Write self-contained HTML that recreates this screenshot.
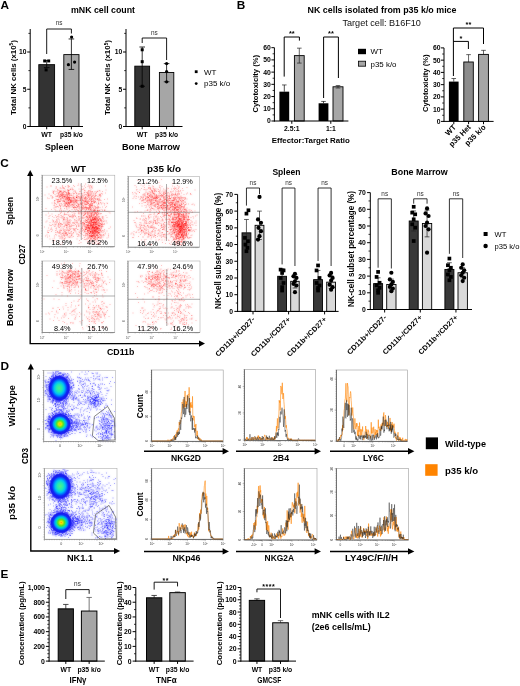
<!DOCTYPE html>
<html lang="en"><head><meta charset="utf-8"><title>Figure</title>
<style>
html,body{margin:0;padding:0;background:#fff;}
body{width:520px;height:686px;overflow:hidden;}
svg{display:block;font-family:'Liberation Sans', sans-serif;}
</style></head><body>
<svg width="520" height="686" viewBox="0 0 520 686">
<rect width="520" height="686" fill="#fff"/>
<text x="0.5" y="8.85" font-size="11.8" font-weight="bold">A</text>
<text x="236.7" y="8.85" font-size="11.8" font-weight="bold">B</text>
<text x="0.3" y="167.1" font-size="11.8" font-weight="bold">C</text>
<text x="0.5" y="370.4" font-size="11.8" font-weight="bold">D</text>
<text x="0.5" y="578" font-size="11.8" font-weight="bold">E</text>
<text x="103" y="13" font-size="9.5" font-weight="bold" text-anchor="middle" textLength="64" lengthAdjust="spacingAndGlyphs">mNK cell count</text>
<rect x="38.8" y="64.66" width="15.8" height="61.84" fill="#333333" stroke="#000" stroke-width="0.9"/>
<rect x="63.8" y="54.61" width="15.2" height="71.89" fill="#a6a6a6" stroke="#000" stroke-width="0.9"/>
<line x1="43.9" y1="60.57" x2="49.5" y2="60.57" stroke="#000" stroke-width="0.8"/>
<line x1="46.7" y1="60.57" x2="46.7" y2="67.64" stroke="#000" stroke-width="0.8"/>
<line x1="43.9" y1="67.64" x2="49.5" y2="67.64" stroke="#000" stroke-width="0.8"/>
<line x1="68.6" y1="38.96" x2="74.2" y2="38.96" stroke="#000" stroke-width="0.8"/>
<line x1="71.4" y1="38.96" x2="71.4" y2="69.43" stroke="#000" stroke-width="0.8"/>
<line x1="68.6" y1="69.43" x2="74.2" y2="69.43" stroke="#000" stroke-width="0.8"/>
<rect x="43.2" y="59.44" width="3" height="3" fill="#000"/>
<rect x="47.2" y="59.44" width="3" height="3" fill="#000"/>
<rect x="44.6" y="68.38" width="3" height="3" fill="#000"/>
<circle cx="71.6" cy="37.1" r="1.6"/>
<circle cx="68.4" cy="64.66" r="1.6"/>
<circle cx="74.6" cy="62.06" r="1.6"/>
<line x1="30.2" y1="29" x2="30.2" y2="127" stroke="#000" stroke-width="1"/>
<line x1="27.2" y1="126.5" x2="30.2" y2="126.5" stroke="#000" stroke-width="1"/>
<line x1="27.2" y1="89.25" x2="30.2" y2="89.25" stroke="#000" stroke-width="1"/>
<line x1="27.2" y1="52" x2="30.2" y2="52" stroke="#000" stroke-width="1"/>
<line x1="28.4" y1="107.88" x2="30.2" y2="107.88" stroke="#000" stroke-width="0.8"/>
<line x1="28.4" y1="70.62" x2="30.2" y2="70.62" stroke="#000" stroke-width="0.8"/>
<line x1="28.4" y1="33.38" x2="30.2" y2="33.38" stroke="#000" stroke-width="0.8"/>
<line x1="29.7" y1="126.5" x2="83" y2="126.5" stroke="#000" stroke-width="1"/>
<line x1="46.7" y1="126.5" x2="46.7" y2="129.3" stroke="#000" stroke-width="1"/>
<line x1="71.4" y1="126.5" x2="71.4" y2="129.3" stroke="#000" stroke-width="1"/>
<text x="26.5" y="128.9" font-size="6.7" font-weight="bold" text-anchor="end">0</text>
<text x="26.5" y="91.65" font-size="6.7" font-weight="bold" text-anchor="end">5</text>
<text x="26.5" y="54.4" font-size="6.7" font-weight="bold" text-anchor="end">10</text>
<text x="15.8" y="77.5" font-size="7.9" font-weight="bold" text-anchor="middle" transform="rotate(-90 15.8 77.5)">Total NK cells (x10<tspan font-size="4.8" dy="-2.8">5</tspan><tspan dy="2.8">)</tspan></text>
<text x="46.7" y="136.6" font-size="7" font-weight="bold" text-anchor="middle">WT</text>
<text x="71.4" y="136.6" font-size="7" font-weight="bold" text-anchor="middle" textLength="23" lengthAdjust="spacingAndGlyphs">p35 k/o</text>
<path d="M46.7 54V29H71.4V33.5" fill="none" stroke="#000" stroke-width="0.9"/>
<text x="59.05" y="25" font-size="6.4" text-anchor="middle" fill="#333">ns</text>
<text x="59.3" y="149.6" font-size="9.8" font-weight="bold" text-anchor="middle" textLength="28.8" lengthAdjust="spacingAndGlyphs">Spleen</text>
<rect x="134.8" y="66.16" width="14.8" height="60.34" fill="#333333" stroke="#000" stroke-width="0.9"/>
<rect x="159.4" y="72.49" width="14.4" height="54.01" fill="#a6a6a6" stroke="#000" stroke-width="0.9"/>
<line x1="139.4" y1="47.01" x2="145" y2="47.01" stroke="#000" stroke-width="0.8"/>
<line x1="142.2" y1="47.01" x2="142.2" y2="86.27" stroke="#000" stroke-width="0.8"/>
<line x1="139.4" y1="86.27" x2="145" y2="86.27" stroke="#000" stroke-width="0.8"/>
<line x1="163.8" y1="63.62" x2="169.4" y2="63.62" stroke="#000" stroke-width="0.8"/>
<line x1="166.6" y1="63.62" x2="166.6" y2="81.8" stroke="#000" stroke-width="0.8"/>
<line x1="163.8" y1="81.8" x2="169.4" y2="81.8" stroke="#000" stroke-width="0.8"/>
<rect x="140.7" y="48.26" width="3" height="3" fill="#000"/>
<rect x="140.7" y="60.19" width="3" height="3" fill="#000"/>
<rect x="140.7" y="84.77" width="3" height="3" fill="#000"/>
<circle cx="166.6" cy="63.62" r="1.6"/>
<circle cx="166.6" cy="71.59" r="1.6"/>
<circle cx="166.6" cy="81.8" r="1.6"/>
<line x1="126" y1="29" x2="126" y2="127" stroke="#000" stroke-width="1"/>
<line x1="123" y1="126.5" x2="126" y2="126.5" stroke="#000" stroke-width="1"/>
<line x1="123" y1="89.25" x2="126" y2="89.25" stroke="#000" stroke-width="1"/>
<line x1="123" y1="52" x2="126" y2="52" stroke="#000" stroke-width="1"/>
<line x1="124.2" y1="107.88" x2="126" y2="107.88" stroke="#000" stroke-width="0.8"/>
<line x1="124.2" y1="70.62" x2="126" y2="70.62" stroke="#000" stroke-width="0.8"/>
<line x1="124.2" y1="33.38" x2="126" y2="33.38" stroke="#000" stroke-width="0.8"/>
<line x1="125.5" y1="126.5" x2="182.5" y2="126.5" stroke="#000" stroke-width="1"/>
<line x1="142.2" y1="126.5" x2="142.2" y2="129.3" stroke="#000" stroke-width="1"/>
<line x1="166.6" y1="126.5" x2="166.6" y2="129.3" stroke="#000" stroke-width="1"/>
<text x="122.3" y="128.9" font-size="6.7" font-weight="bold" text-anchor="end">0</text>
<text x="122.3" y="91.65" font-size="6.7" font-weight="bold" text-anchor="end">5</text>
<text x="122.3" y="54.4" font-size="6.7" font-weight="bold" text-anchor="end">10</text>
<text x="110.4" y="77.5" font-size="7.9" font-weight="bold" text-anchor="middle" transform="rotate(-90 110.4 77.5)">Total NK cells (x10<tspan font-size="4.8" dy="-2.8">5</tspan><tspan dy="2.8">)</tspan></text>
<text x="142.2" y="136.6" font-size="7" font-weight="bold" text-anchor="middle">WT</text>
<text x="166.6" y="136.6" font-size="7" font-weight="bold" text-anchor="middle" textLength="23" lengthAdjust="spacingAndGlyphs">p35 k/o</text>
<path d="M142.2 43V38H166.6V60" fill="none" stroke="#000" stroke-width="0.9"/>
<text x="154.4" y="35" font-size="6.4" text-anchor="middle" fill="#333">ns</text>
<text x="151" y="149.6" font-size="9.8" font-weight="bold" text-anchor="middle" textLength="58" lengthAdjust="spacingAndGlyphs">Bone Marrow</text>
<rect x="194.8" y="70.3" width="2.8" height="2.8" fill="#000"/>
<text x="204" y="74.8" font-size="8">WT</text>
<circle cx="196.2" cy="83.6" r="1.4"/>
<text x="204" y="86.4" font-size="8">p35 k/o</text>
<text x="382" y="13" font-size="9.6" font-weight="bold" text-anchor="middle" textLength="149" lengthAdjust="spacingAndGlyphs">NK cells isolated from p35 k/o mice</text>
<text x="381.7" y="25.6" font-size="9.4" text-anchor="middle" textLength="78.5" lengthAdjust="spacingAndGlyphs" fill="#111">Target cell: B16F10</text>
<rect x="279.4" y="91.67" width="9.8" height="29.33" fill="#000"/>
<line x1="282" y1="84.95" x2="286.6" y2="84.95" stroke="#222" stroke-width="0.7"/>
<line x1="284.3" y1="84.95" x2="284.3" y2="91.67" stroke="#000" stroke-width="0.7"/>
<rect x="294.4" y="55.62" width="9.8" height="65.38" fill="#a6a6a6" stroke="#000" stroke-width="0.9"/>
<line x1="297" y1="48.17" x2="301.6" y2="48.17" stroke="#222" stroke-width="0.7"/>
<line x1="299.3" y1="48.17" x2="299.3" y2="63.08" stroke="#222" stroke-width="0.7"/>
<line x1="297" y1="63.08" x2="301.6" y2="63.08" stroke="#222" stroke-width="0.7"/>
<rect x="318.6" y="103.28" width="9.8" height="17.72" fill="#000"/>
<line x1="321.2" y1="101.45" x2="325.8" y2="101.45" stroke="#222" stroke-width="0.7"/>
<line x1="323.5" y1="101.45" x2="323.5" y2="103.28" stroke="#000" stroke-width="0.7"/>
<rect x="333" y="86.78" width="10" height="34.22" fill="#a6a6a6" stroke="#000" stroke-width="0.9"/>
<line x1="335.7" y1="85.56" x2="340.3" y2="85.56" stroke="#222" stroke-width="0.7"/>
<line x1="338" y1="85.56" x2="338" y2="88.01" stroke="#222" stroke-width="0.7"/>
<line x1="335.7" y1="88.01" x2="340.3" y2="88.01" stroke="#222" stroke-width="0.7"/>
<line x1="274.4" y1="47.68" x2="274.4" y2="121.5" stroke="#000" stroke-width="1"/>
<line x1="271.4" y1="121" x2="274.4" y2="121" stroke="#000" stroke-width="1"/>
<line x1="271.4" y1="108.78" x2="274.4" y2="108.78" stroke="#000" stroke-width="1"/>
<line x1="271.4" y1="96.56" x2="274.4" y2="96.56" stroke="#000" stroke-width="1"/>
<line x1="271.4" y1="84.34" x2="274.4" y2="84.34" stroke="#000" stroke-width="1"/>
<line x1="271.4" y1="72.12" x2="274.4" y2="72.12" stroke="#000" stroke-width="1"/>
<line x1="271.4" y1="59.9" x2="274.4" y2="59.9" stroke="#000" stroke-width="1"/>
<line x1="271.4" y1="47.68" x2="274.4" y2="47.68" stroke="#000" stroke-width="1"/>
<line x1="272.6" y1="114.89" x2="274.4" y2="114.89" stroke="#000" stroke-width="0.8"/>
<line x1="272.6" y1="102.67" x2="274.4" y2="102.67" stroke="#000" stroke-width="0.8"/>
<line x1="272.6" y1="90.45" x2="274.4" y2="90.45" stroke="#000" stroke-width="0.8"/>
<line x1="272.6" y1="78.23" x2="274.4" y2="78.23" stroke="#000" stroke-width="0.8"/>
<line x1="272.6" y1="66.01" x2="274.4" y2="66.01" stroke="#000" stroke-width="0.8"/>
<line x1="272.6" y1="53.79" x2="274.4" y2="53.79" stroke="#000" stroke-width="0.8"/>
<line x1="273.9" y1="121" x2="348.4" y2="121" stroke="#000" stroke-width="1"/>
<line x1="291.8" y1="121" x2="291.8" y2="123.8" stroke="#000" stroke-width="1"/>
<line x1="330.8" y1="121" x2="330.8" y2="123.8" stroke="#000" stroke-width="1"/>
<text x="270.8" y="123.4" font-size="6.8" font-weight="bold" text-anchor="end">0</text>
<text x="270.8" y="111.18" font-size="6.8" font-weight="bold" text-anchor="end">10</text>
<text x="270.8" y="98.96" font-size="6.8" font-weight="bold" text-anchor="end">20</text>
<text x="270.8" y="86.74" font-size="6.8" font-weight="bold" text-anchor="end">30</text>
<text x="270.8" y="74.52" font-size="6.8" font-weight="bold" text-anchor="end">40</text>
<text x="270.8" y="62.3" font-size="6.8" font-weight="bold" text-anchor="end">50</text>
<text x="270.8" y="50.08" font-size="6.8" font-weight="bold" text-anchor="end">60</text>
<text x="257.9" y="83.7" font-size="7.7" font-weight="bold" text-anchor="middle" textLength="57.4" lengthAdjust="spacingAndGlyphs" transform="rotate(-90 257.9 83.7)">Cytotoxicity (%)</text>
<text x="291.8" y="131.2" font-size="6.8" font-weight="bold" text-anchor="middle">2.5:1</text>
<text x="330.8" y="131.2" font-size="6.8" font-weight="bold" text-anchor="middle">1:1</text>
<text x="310.8" y="142.6" font-size="8" font-weight="bold" text-anchor="middle" textLength="78" lengthAdjust="spacingAndGlyphs">Effector:Target Ratio</text>
<path d="M284.2 76.6V37H299.4V40.6" fill="none" stroke="#000" stroke-width="1"/>
<path d="M323.6 98V37H338.4V78" fill="none" stroke="#000" stroke-width="1"/>
<text x="291.8" y="36.2" font-size="7.4" font-weight="bold" text-anchor="middle">**</text>
<text x="331" y="36.2" font-size="7.4" font-weight="bold" text-anchor="middle">**</text>
<rect x="358" y="48.8" width="8" height="5.4" fill="#000"/>
<text x="370.6" y="54.4" font-size="7.9">WT</text>
<rect x="358.4" y="61.2" width="7.2" height="5" fill="#a6a6a6" stroke="#000" stroke-width="0.8"/>
<text x="370.6" y="66.6" font-size="7.9">p35 k/o</text>
<line x1="453.75" y1="78.53" x2="453.75" y2="81.59" stroke="#222" stroke-width="0.7"/>
<line x1="451.45" y1="78.53" x2="456.05" y2="78.53" stroke="#222" stroke-width="0.7"/>
<rect x="448.9" y="81.59" width="9.7" height="39.81" fill="#000"/>
<line x1="468.55" y1="54.64" x2="468.55" y2="61.99" stroke="#222" stroke-width="0.7"/>
<line x1="466.25" y1="54.64" x2="470.85" y2="54.64" stroke="#222" stroke-width="0.7"/>
<rect x="463.8" y="61.99" width="9.5" height="59.41" fill="#8c8c8c" stroke="#000" stroke-width="0.9"/>
<line x1="483.5" y1="50.35" x2="483.5" y2="54.39" stroke="#222" stroke-width="0.7"/>
<line x1="481.2" y1="50.35" x2="485.8" y2="50.35" stroke="#222" stroke-width="0.7"/>
<rect x="478.6" y="54.39" width="9.8" height="67.01" fill="#a6a6a6" stroke="#000" stroke-width="0.9"/>
<line x1="444" y1="47.9" x2="444" y2="121.9" stroke="#000" stroke-width="1"/>
<line x1="441" y1="121.4" x2="444" y2="121.4" stroke="#000" stroke-width="1"/>
<line x1="441" y1="109.15" x2="444" y2="109.15" stroke="#000" stroke-width="1"/>
<line x1="441" y1="96.9" x2="444" y2="96.9" stroke="#000" stroke-width="1"/>
<line x1="441" y1="84.65" x2="444" y2="84.65" stroke="#000" stroke-width="1"/>
<line x1="441" y1="72.4" x2="444" y2="72.4" stroke="#000" stroke-width="1"/>
<line x1="441" y1="60.15" x2="444" y2="60.15" stroke="#000" stroke-width="1"/>
<line x1="441" y1="47.9" x2="444" y2="47.9" stroke="#000" stroke-width="1"/>
<line x1="442.2" y1="115.28" x2="444" y2="115.28" stroke="#000" stroke-width="0.8"/>
<line x1="442.2" y1="103.03" x2="444" y2="103.03" stroke="#000" stroke-width="0.8"/>
<line x1="442.2" y1="90.78" x2="444" y2="90.78" stroke="#000" stroke-width="0.8"/>
<line x1="442.2" y1="78.53" x2="444" y2="78.53" stroke="#000" stroke-width="0.8"/>
<line x1="442.2" y1="66.28" x2="444" y2="66.28" stroke="#000" stroke-width="0.8"/>
<line x1="442.2" y1="54.03" x2="444" y2="54.03" stroke="#000" stroke-width="0.8"/>
<line x1="443.5" y1="121.4" x2="493.6" y2="121.4" stroke="#000" stroke-width="1"/>
<line x1="453.8" y1="121.4" x2="453.8" y2="124.2" stroke="#000" stroke-width="1"/>
<line x1="468.6" y1="121.4" x2="468.6" y2="124.2" stroke="#000" stroke-width="1"/>
<line x1="483.5" y1="121.4" x2="483.5" y2="124.2" stroke="#000" stroke-width="1"/>
<text x="440.5" y="123.8" font-size="6.8" font-weight="bold" text-anchor="end">0</text>
<text x="440.5" y="111.55" font-size="6.8" font-weight="bold" text-anchor="end">10</text>
<text x="440.5" y="99.3" font-size="6.8" font-weight="bold" text-anchor="end">20</text>
<text x="440.5" y="87.05" font-size="6.8" font-weight="bold" text-anchor="end">30</text>
<text x="440.5" y="74.8" font-size="6.8" font-weight="bold" text-anchor="end">40</text>
<text x="440.5" y="62.55" font-size="6.8" font-weight="bold" text-anchor="end">50</text>
<text x="440.5" y="50.3" font-size="6.8" font-weight="bold" text-anchor="end">60</text>
<text x="427.7" y="83.2" font-size="7.7" font-weight="bold" text-anchor="middle" textLength="57.4" lengthAdjust="spacingAndGlyphs" transform="rotate(-90 427.7 83.2)">Cytotoxicity (%)</text>
<text x="456.6" y="127.8" font-size="7.6" font-weight="bold" text-anchor="end" transform="rotate(-45 456.6 127.8)">WT</text>
<text x="471.4" y="127.8" font-size="7.6" font-weight="bold" text-anchor="end" transform="rotate(-45 471.4 127.8)">p35 Het</text>
<text x="486.3" y="127.8" font-size="7.6" font-weight="bold" text-anchor="end" transform="rotate(-45 486.3 127.8)">p35 k/o</text>
<path d="M453.4 76V28H483.5V44" fill="none" stroke="#000" stroke-width="1"/>
<path d="M453.4 41.4H468.4V49" fill="none" stroke="#000" stroke-width="1"/>
<text x="468.5" y="27.4" font-size="7.4" font-weight="bold" text-anchor="middle">**</text>
<text x="461" y="40.8" font-size="7.4" font-weight="bold" text-anchor="middle">*</text>
<defs><filter id="sb" x="-5%" y="-5%" width="110%" height="110%"><feGaussianBlur stdDeviation="0.9"/></filter></defs>
<rect x="42.2" y="175.2" width="72.6" height="71.5" fill="none" stroke="#a6a6a6" stroke-width="0.55"/>
<line x1="42.2" y1="175.2" x2="42.2" y2="246.7" stroke="#666" stroke-width="0.6"/>
<line x1="42.2" y1="246.7" x2="114.8" y2="246.7" stroke="#666" stroke-width="0.6"/>
<defs><path id="dp1" transform="scale(.5)" d="m157 368zm14 0zm-10 2zm16 0zm-52 1zm11 0zm11 0zm9 0zm25 0zm-80 1zm2 0zm34 0zm32 0zm10 0zm5 0zm27 0zm-80 1zm8 0zm10 0zm15 0zm12 0zm7 0zm-89 1zm18 0zm1 0zm12 0zm0 0zm11 0zm1 0zm43 0zm-53 1zm44 0zm12 0zm-63 1zm1 0zm7 0zm16 0zm35 0zm6 0zm-73 1zm12 0zm4 0zm0 0zm13 1zm4 0zm13 0zm5 0zm4 0zm1 0zm14 0zm-67 1zm20 0zm6 0zm1 0zm4 0zm19 0zm-49 1zm14 0zm7 0zm2 0zm7 0zm16 0zm50 0zm-96 1zm3 0zm17 0zm1 0zm1 0zm12 0zm19 0zm1 0zm8 0zm21 0zm-93 1zm3 0zm12 0zm0 0zm2 0zm4 0zm8 0zm2 0zm40 0zm1 0zm2 0zm1 0zm15 0zm4 0zm-93 1zm5 0zm8 0zm0 0zm1 0zm8 0zm0 0zm2 0zm6 0zm11 0zm3 0zm8 0zm2 0zm15 0zm6 0zm3 0zm5 0zm4 0zm1 0zm10 0zm-98 1zm8 0zm4 0zm1 0zm2 0zm1 0zm1 0zm3 0zm43 0zm13 0zm2 0zm-79 1zm12 0zm0 0zm7 0zm2 0zm4 0zm3 0zm3 0zm0 0zm14 0zm18 0zm4 0zm2 0zm1 0zm17 0zm-86 1zm13 0zm8 0zm5 0zm0 0zm1 0zm3 0zm0 0zm1 0zm1 0zm7 0zm7 0zm15 0zm10 0zm0 0zm3 0zm1 0zm6 0zm4 0zm19 0zm-104 1zm7 0zm3 0zm6 0zm2 0zm13 0zm1 0zm8 0zm2 0zm4 0zm7 0zm3 0zm1 0zm11 0zm1 0zm15 0zm12 0zm-105 1zm19 0zm1 0zm4 0zm3 0zm1 0zm0 0zm8 0zm1 0zm1 0zm1 0zm0 0zm1 0zm0 0zm1 0zm3 0zm0 0zm12 0zm3 0zm0 0zm2 0zm17 0zm2 0zm5 0zm1 0zm3 0zm13 0zm5 0zm-95 1zm11 0zm1 0zm3 0zm1 0zm2 0zm5 0zm31 0zm7 0zm2 0zm3 0zm2 0zm23 0zm-111 1zm27 0zm2 0zm3 0zm1 0zm0 0zm4 0zm1 0zm2 0zm1 0zm1 0zm0 0zm3 0zm0 0zm2 0zm2 0zm8 0zm21 0zm1 0zm8 0zm0 0zm3 0zm1 0zm0 0zm9 0zm1 0zm7 0zm1 0zm0 0zm1 0zm-98 1zm20 0zm1 0zm2 0zm0 0zm14 0zm2 0zm2 0zm1 0zm9 0zm2 0zm10 0zm9 0zm2 0zm1 0zm1 0zm1 0zm6 0zm2 0zm4 0zm2 0zm7 0zm-98 1zm10 0zm3 0zm0 0zm1 0zm2 0zm2 0zm0 0zm4 0zm3 0zm2 0zm4 0zm1 0zm1 0zm0 0zm27 0zm4 0zm17 0zm18 0zm1 0zm-97 1zm7 0zm2 0zm6 0zm1 0zm6 0zm2 0zm0 0zm1 0zm0 0zm2 0zm4 0zm12 0zm9 0zm3 0zm3 0zm1 0zm7 0zm5 0zm0 0zm8 0zm0 0zm5 0zm2 0zm5 0zm-77 1zm1 0zm3 0zm1 0zm1 0zm0 0zm1 0zm2 0zm1 0zm2 0zm4 0zm1 0zm2 0zm1 0zm7 0zm6 0zm1 0zm0 0zm1 0zm1 0zm1 0zm1 0zm3 0zm7 0zm5 0zm6 0zm1 0zm3 0zm6 0zm12 0zm-94 1zm12 0zm7 0zm5 0zm3 0zm1 0zm0 0zm1 0zm2 0zm0 0zm1 0zm1 0zm2 0zm1 0zm0 0zm4 0zm1 0zm6 0zm0 0zm0 0zm0 0zm0 0zm9 0zm0 0zm1 0zm2 0zm5 0zm1 0zm1 0zm5 0zm6 0zm5 0zm-93 1zm9 0zm1 0zm23 0zm4 0zm1 0zm4 0zm0 0zm0 0zm2 0zm0 0zm5 0zm3 0zm0 0zm2 0zm5 0zm5 0zm0 0zm3 0zm7 0zm2 0zm3 0zm8 0zm6 0zm-90 1zm24 0zm2 0zm2 0zm6 0zm0 0zm3 0zm0 0zm5 0zm3 0zm5 0zm8 0zm5 0zm1 0zm4 0zm3 0zm1 0zm1 0zm4 0zm4 0zm3 0zm2 0zm2 0zm4 0zm0 0zm5 0zm3 0zm-86 1zm6 0zm3 0zm0 0zm6 0zm3 0zm4 0zm0 0zm1 0zm0 0zm1 0zm1 0zm1 0zm1 0zm0 0zm0 0zm1 0zm5 0zm3 0zm1 0zm2 0zm10 0zm4 0zm5 0zm3 0zm1 0zm6 0zm4 0zm1 0zm5 0zm3 0zm2 0zm3 0zm17 0zm-102 1zm2 0zm1 0zm0 0zm1 0zm14 0zm2 0zm5 0zm1 0zm1 0zm0 0zm2 0zm6 0zm4 0zm2 0zm6 0zm1 0zm4 0zm7 0zm6 0zm1 0zm3 0zm1 0zm8 0zm4 0zm1 0zm4 0zm9 0zm-89 1zm3 0zm7 0zm2 0zm3 0zm1 0zm1 0zm1 0zm4 0zm1 0zm8 0zm10 0zm5 0zm3 0zm2 0zm12 0zm4 0zm0 0zm9 0zm3 0zm-90 1zm1 0zm17 0zm10 0zm0 0zm1 0zm2 0zm1 0zm1 0zm4 0zm1 0zm2 0zm3 0zm0 0zm0 0zm2 0zm1 0zm3 0zm0 0zm3 0zm0 0zm4 0zm1 0zm0 0zm6 0zm2 0zm7 0zm16 0zm3 0zm2 0zm-93 1zm6 0zm1 0zm1 0zm2 0zm2 0zm4 0zm1 0zm2 0zm1 0zm4 0zm2 0zm5 0zm0 0zm1 0zm1 0zm0 0zm0 0zm1 0zm1 0zm0 0zm1 0zm1 0zm4 0zm3 0zm0 0zm5 0zm3 0zm6 0zm2 0zm2 0zm0 0zm5 0zm1 0zm1 0zm5 0zm3 0zm3 0zm1 0zm-75 1zm3 0zm1 0zm1 0zm0 0zm7 0zm2 0zm0 0zm11 0zm2 0zm0 0zm5 0zm2 0zm2 0zm0 0zm1 0zm17 0zm2 0zm1 0zm0 0zm0 0zm2 0zm1 0zm4 0zm4 0zm0 0zm1 0zm1 0zm2 0zm4 0zm-74 1zm13 0zm2 0zm4 0zm0 0zm1 0zm4 0zm2 0zm1 0zm2 0zm8 0zm1 0zm9 0zm0 0zm3 0zm2 0zm5 0zm3 0zm5 0zm6 0zm1 0zm1 0zm1 0zm6 0zm-88 1zm6 0zm15 0zm2 0zm5 0zm0 0zm3 0zm0 0zm1 0zm0 0zm2 0zm4 0zm2 0zm3 0zm1 0zm12 0zm8 0zm1 0zm1 0zm8 0zm5 0zm1 0zm12 0zm-97 1zm12 0zm16 0zm1 0zm0 0zm1 0zm1 0zm1 0zm2 0zm0 0zm1 0zm0 0zm2 0zm3 0zm3 0zm2 0zm3 0zm0 0zm8 0zm1 0zm1 0zm7 0zm2 0zm4 0zm0 0zm2 0zm11 0zm0 0zm5 0zm4 0zm5 0zm4 0zm8 0zm-105 1zm2 0zm9 0zm3 0zm5 0zm2 0zm3 0zm1 0zm3 0zm0 0zm18 0zm6 0zm2 0zm2 0zm3 0zm7 0zm2 0zm0 0zm7 0zm1 0zm12 0zm12 0zm6 0zm-84 1zm0 0zm2 0zm3 0zm3 0zm0 0zm0 0zm9 0zm8 0zm1 0zm7 0zm0 0zm0 0zm8 0zm1 0zm5 0zm3 0zm1 0zm0 0zm0 0zm0 0zm3 0zm12 0zm1 0zm5 0zm-90 1zm6 0zm5 0zm6 0zm5 0zm0 0zm7 0zm2 0zm1 0zm1 0zm4 0zm7 0zm3 0zm2 0zm1 0zm6 0zm2 0zm1 0zm1 0zm2 0zm4 0zm1 0zm-71 1zm20 0zm8 0zm1 0zm6 0zm4 0zm8 0zm2 0zm0 0zm7 0zm5 0zm2 0zm8 0zm0 0zm3 0zm2 0zm0 0zm10 0zm14 0zm-101 1zm11 0zm1 0zm2 0zm7 0zm2 0zm4 0zm2 0zm3 0zm2 0zm5 0zm6 0zm0 0zm4 0zm9 0zm0 0zm12 0zm0 0zm3 0zm1 0zm1 0zm1 0zm0 0zm-58 1zm5 0zm4 0zm10 0zm3 0zm6 0zm25 0zm2 0zm3 0zm4 0zm1 0zm-77 1zm2 0zm1 0zm6 0zm7 0zm4 0zm1 0zm0 0zm1 0zm4 0zm0 0zm11 0zm7 0zm0 0zm0 0zm3 0zm8 0zm12 0zm3 0zm9 0zm5 0zm17 0zm-103 1zm7 0zm4 0zm17 0zm4 0zm3 0zm6 0zm4 0zm8 0zm0 0zm1 0zm0 0zm2 0zm4 0zm1 0zm1 0zm0 0zm7 0zm1 0zm0 0zm1 0zm4 0zm5 0zm6 0zm1 0zm8 0zm-93 1zm35 0zm0 0zm1 0zm2 0zm0 0zm0 0zm2 0zm2 0zm6 0zm4 0zm1 0zm2 0zm3 0zm0 0zm3 0zm1 0zm1 0zm1 0zm2 0zm0 0zm3 0zm5 0zm6 0zm2 0zm0 0zm2 0zm4 0zm11 0zm-103 1zm25 0zm1 0zm4 0zm9 0zm6 0zm4 0zm2 0zm10 0zm1 0zm2 0zm0 0zm1 0zm5 0zm2 0zm0 0zm3 0zm8 0zm6 0zm-105 1zm29 0zm8 0zm35 0zm1 0zm2 0zm6 0zm2 0zm1 0zm2 0zm0 0zm4 0zm5 0zm5 0zm3 0zm-73 1zm27 0zm10 0zm4 0zm3 0zm2 0zm8 0zm1 0zm3 0zm10 0zm-87 1zm7 0zm24 0zm10 0zm6 0zm3 0zm12 0zm5 0zm3 0zm0 0zm4 0zm1 0zm3 0zm0 0zm1 0zm2 0zm4 0zm1 0zm15 0zm-84 1zm35 0zm7 0zm26 0zm3 0zm4 0zm5 0zm9 0zm1 0zm-87 1zm16 0zm17 0zm1 0zm5 0zm1 0zm18 0zm2 0zm4 0zm1 0zm1 0zm1 0zm0 0zm5 0zm1 0zm0 0zm2 0zm1 0zm6 0zm4 0zm-98 1zm3 0zm5 0zm8 0zm3 0zm21 0zm20 0zm1 0zm6 0zm6 0zm2 0zm1 0zm2 0zm1 0zm4 0zm1 0zm15 0zm-73 1zm4 0zm6 0zm3 0zm2 0zm5 0zm2 0zm3 0zm7 0zm2 0zm4 0zm3 0zm1 0zm1 0zm4 0zm4 0zm0 0zm8 0zm18 0zm-91 1zm14 0zm29 0zm3 0zm3 0zm3 0zm1 0zm2 0zm14 0zm3 0zm2 0zm21 0zm-96 1zm13 0zm9 0zm13 0zm5 0zm12 0zm4 0zm4 0zm0 0zm3 0zm1 0zm0 0zm3 0zm1 0zm1 0zm1 0zm2 0zm1 0zm-98 1zm32 0zm19 0zm11 0zm3 0zm2 0zm4 0zm2 0zm1 0zm4 0zm1 0zm4 0zm3 0zm7 0zm2 0zm6 0zm22 0zm-99 1zm29 0zm7 0zm6 0zm8 0zm1 0zm5 0zm3 0zm2 0zm1 0zm2 0zm5 0zm0 0zm2 0zm1 0zm4 0zm4 0zm2 0zm-99 1zm25 0zm29 0zm8 0zm4 0zm5 0zm0 0zm7 0zm1 0zm4 0zm1 0zm2 0zm3 0zm2 0zm2 0zm3 0zm-82 1zm11 0zm2 0zm2 0zm3 0zm27 0zm7 0zm0 0zm6 0zm8 0zm4 0zm1 0zm5 0zm-102 1zm25 0zm11 0zm12 0zm5 0zm0 0zm3 0zm1 0zm20 0zm0 0zm8 0zm2 0zm2 0zm1 0zm1 0zm1 0zm0 0zm4 0zm0 0zm5 0zm1 0zm0 0zm2 0zm-96 1zm11 0zm11 0zm15 0zm30 0zm0 0zm11 0zm1 0zm3 0zm1 0zm1 0zm3 0zm25 0zm-89 1zm20 0zm4 0zm1 0zm3 0zm15 0zm8 0zm0 0zm5 0zm9 0zm0 0zm5 0zm1 0zm-96 1zm7 0zm9 0zm2 0zm9 0zm14 0zm1 0zm1 0zm5 0zm5 0zm6 0zm1 0zm14 0zm1 0zm1 0zm4 0zm2 0zm1 0zm1 0zm1 0zm0 0zm5 0zm3 0zm0 0zm6 0zm2 0zm6 0zm-87 1zm9 0zm13 0zm4 0zm0 0zm2 0zm14 0zm4 0zm9 0zm2 0zm3 0zm1 0zm2 0zm3 0zm1 0zm1 0zm4 0zm1 0zm0 0zm2 0zm2 0zm2 0zm7 0zm3 0zm-99 1zm5 0zm9 0zm7 0zm5 0zm30 0zm2 0zm4 0zm5 0zm0 0zm3 0zm1 0zm1 0zm2 0zm3 0zm1 0zm0 0zm1 0zm3 0zm2 0zm1 0zm5 0zm7 0zm9 0zm-90 1zm2 0zm3 0zm5 0zm12 0zm7 0zm4 0zm11 0zm5 0zm5 0zm3 0zm4 0zm3 0zm1 0zm0 0zm0 0zm1 0zm2 0zm3 0zm1 0zm-98 1zm18 0zm19 0zm25 0zm4 0zm2 0zm15 0zm3 0zm1 0zm2 0zm2 0zm0 0zm1 0zm0 0zm0 0zm0 0zm2 0zm1 0zm2 0zm4 0zm1 0zm5 0zm-78 1zm1 0zm31 0zm17 0zm0 0zm0 0zm1 0zm1 0zm2 0zm4 0zm1 0zm1 0zm0 0zm2 0zm3 0zm0 0zm2 0zm1 0zm1 0zm3 0zm1 0zm2 0zm0 0zm6 0zm-89 1zm9 0zm2 0zm3 0zm3 0zm5 0zm9 0zm22 0zm5 0zm4 0zm2 0zm0 0zm1 0zm2 0zm0 0zm2 0zm0 0zm0 0zm1 0zm1 0zm1 0zm0 0zm0 0zm1 0zm1 0zm2 0zm2 0zm1 0zm6 0zm-98 1zm8 0zm1 0zm0 0zm13 0zm23 0zm6 0zm2 0zm0 0zm5 0zm9 0zm4 0zm5 0zm0 0zm1 0zm3 0zm1 0zm0 0zm1 0zm0 0zm0 0zm1 0zm1 0zm1 0zm0 0zm0 0zm2 0zm2 0zm2 0zm1 0zm1 0zm0 0zm3 0zm0 0zm-94 1zm29 0zm3 0zm3 0zm11 0zm9 0zm6 0zm4 0zm1 0zm0 0zm1 0zm6 0zm1 0zm1 0zm1 0zm0 0zm0 0zm0 0zm1 0zm0 0zm2 0zm4 0zm2 0zm1 0zm2 0zm1 0zm1 0zm0 0zm5 0zm0 0zm-108 1zm25 0zm7 0zm4 0zm4 0zm1 0zm15 0zm12 0zm9 0zm4 0zm1 0zm3 0zm5 0zm0 0zm8 0zm3 0zm7 0zm0 0zm1 0zm2 0zm3 0zm2 0zm3 0zm-106 1zm4 0zm50 0zm14 0zm4 0zm1 0zm0 0zm2 0zm0 0zm1 0zm0 0zm1 0zm4 0zm1 0zm4 0zm1 0zm2 0zm3 0zm8 0zm-115 1zm14 0zm7 0zm1 0zm1 0zm18 0zm3 0zm1 0zm3 0zm0 0zm13 0zm2 0zm7 0zm6 0zm2 0zm1 0zm2 0zm3 0zm1 0zm2 0zm2 0zm1 0zm2 0zm3 0zm0 0zm1 0zm0 0zm1 0zm0 0zm1 0zm1 0zm0 0zm1 0zm1 0zm0 0zm1 0zm3 0zm6 0zm-103 1zm10 0zm9 0zm9 0zm8 0zm3 0zm7 0zm4 0zm4 0zm11 0zm1 0zm0 0zm6 0zm1 0zm1 0zm0 0zm2 0zm2 0zm1 0zm3 0zm1 0zm1 0zm0 0zm1 0zm0 0zm0 0zm0 0zm2 0zm0 0zm1 0zm0 0zm1 0zm1 0zm0 0zm1 0zm0 0zm1 0zm0 0zm0 0zm4 0zm2 0zm-67 1zm5 0zm0 0zm9 0zm2 0zm1 0zm6 0zm7 0zm5 0zm1 0zm10 0zm1 0zm0 0zm2 0zm1 0zm0 0zm2 0zm4 0zm0 0zm0 0zm1 0zm2 0zm1 0zm2 0zm1 0zm0 0zm2 0zm2 0zm1 0zm6 0zm9 0zm-97 1zm3 0zm1 0zm1 0zm6 0zm12 0zm9 0zm13 0zm2 0zm5 0zm0 0zm0 0zm10 0zm1 0zm0 0zm2 0zm1 0zm4 0zm1 0zm1 0zm1 0zm1 0zm1 0zm2 0zm3 0zm3 0zm0 0zm1 0zm8 0zm-99 1zm3 0zm4 0zm6 0zm11 0zm0 0zm2 0zm20 0zm1 0zm3 0zm4 0zm3 0zm1 0zm8 0zm1 0zm3 0zm1 0zm3 0zm0 0zm2 0zm0 0zm0 0zm4 0zm1 0zm1 0zm2 0zm1 0zm6 0zm2 0zm0 0zm2 0zm1 0zm-101 1zm6 0zm7 0zm6 0zm1 0zm12 0zm1 0zm13 0zm17 0zm2 0zm3 0zm5 0zm4 0zm0 0zm1 0zm3 0zm0 0zm1 0zm0 0zm1 0zm1 0zm2 0zm0 0zm1 0zm1 0zm0 0zm1 0zm2 0zm3 0zm3 0zm1 0zm1 0zm0 0zm4 0zm0 0zm-109 1zm9 0zm9 0zm1 0zm3 0zm1 0zm8 0zm1 0zm0 0zm2 0zm1 0zm5 0zm4 0zm22 0zm5 0zm2 0zm1 0zm2 0zm0 0zm1 0zm0 0zm0 0zm1 0zm4 0zm0 0zm0 0zm0 0zm1 0zm1 0zm1 0zm2 0zm0 0zm1 0zm0 0zm2 0zm0 0zm3 0zm2 0zm1 0zm2 0zm0 0zm-95 1zm0 0zm31 0zm0 0zm2 0zm9 0zm2 0zm2 0zm5 0zm4 0zm11 0zm6 0zm1 0zm1 0zm0 0zm1 0zm2 0zm1 0zm0 0zm2 0zm1 0zm0 0zm1 0zm0 0zm1 0zm3 0zm1 0zm2 0zm3 0zm3 0zm0 0zm0 0zm1 0zm1 0zm1 0zm1 0zm4 0zm-94 1zm5 0zm13 0zm10 0zm2 0zm17 0zm2 0zm6 0zm4 0zm6 0zm1 0zm3 0zm0 0zm1 0zm2 0zm0 0zm1 0zm1 0zm1 0zm0 0zm0 0zm1 0zm4 0zm1 0zm4 0zm2 0zm1 0zm0 0zm0 0zm4 0zm0 0zm-94 1zm12 0zm7 0zm12 0zm3 0zm10 0zm4 0zm8 0zm5 0zm2 0zm1 0zm2 0zm1 0zm4 0zm1 0zm2 0zm2 0zm0 0zm0 0zm2 0zm0 0zm4 0zm1 0zm0 0zm1 0zm0 0zm1 0zm4 0zm4 0zm3 0zm1 0zm-117 1zm28 0zm1 0zm6 0zm4 0zm5 0zm2 0zm3 0zm2 0zm13 0zm17 0zm0 0zm4 0zm3 0zm1 0zm0 0zm3 0zm1 0zm3 0zm0 0zm2 0zm1 0zm1 0zm1 0zm0 0zm0 0zm1 0zm0 0zm1 0zm0 0zm2 0zm0 0zm2 0zm1 0zm3 0zm2 0zm1 0zm1 0zm17 0zm-102 1zm14 0zm31 0zm7 0zm2 0zm0 0zm0 0zm3 0zm0 0zm0 0zm0 0zm1 0zm1 0zm1 0zm0 0zm2 0zm2 0zm1 0zm1 0zm0 0zm0 0zm1 0zm0 0zm1 0zm1 0zm0 0zm0 0zm0 0zm2 0zm0 0zm1 0zm1 0zm0 0zm2 0zm0 0zm0 0zm1 0zm-98 1zm6 0zm10 0zm51 0zm1 0zm7 0zm4 0zm0 0zm1 0zm1 0zm2 0zm3 0zm1 0zm1 0zm0 0zm0 0zm0 0zm1 0zm0 0zm2 0zm0 0zm0 0zm1 0zm0 0zm2 0zm2 0zm0 0zm0 0zm2 0zm1 0zm0 0zm0 0zm1 0zm1 0zm0 0zm4 0zm-90 1zm22 0zm5 0zm3 0zm4 0zm6 0zm0 0zm10 0zm3 0zm5 0zm3 0zm2 0zm3 0zm0 0zm0 0zm1 0zm0 0zm2 0zm2 0zm4 0zm1 0zm0 0zm1 0zm0 0zm0 0zm1 0zm1 0zm1 0zm0 0zm1 0zm1 0zm0 0zm1 0zm0 0zm0 0zm1 0zm0 0zm2 0zm1 0zm4 0zm15 0zm-116 1zm20 0zm4 0zm1 0zm20 0zm1 0zm1 0zm15 0zm8 0zm0 0zm0 0zm2 0zm0 0zm3 0zm2 0zm0 0zm0 0zm2 0zm2 0zm0 0zm0 0zm1 0zm1 0zm1 0zm0 0zm2 0zm2 0zm3 0zm0 0zm2 0zm0 0zm1 0zm2 0zm1 0zm1 0zm0 0zm-98 1zm34 0zm5 0zm9 0zm5 0zm1 0zm6 0zm5 0zm3 0zm1 0zm0 0zm1 0zm0 0zm0 0zm6 0zm3 0zm2 0zm2 0zm1 0zm1 0zm1 0zm1 0zm1 0zm1 0zm1 0zm0 0zm2 0zm0 0zm1 0zm3 0zm3 0zm8 0zm-104 1zm8 0zm7 0zm9 0zm1 0zm2 0zm2 0zm5 0zm9 0zm0 0zm27 0zm1 0zm3 0zm2 0zm6 0zm1 0zm1 0zm1 0zm1 0zm0 0zm1 0zm1 0zm0 0zm1 0zm3 0zm0 0zm5 0zm-104 1zm13 0zm11 0zm1 0zm4 0zm7 0zm3 0zm2 0zm11 0zm16 0zm4 0zm5 0zm1 0zm0 0zm1 0zm1 0zm1 0zm3 0zm1 0zm3 0zm0 0zm2 0zm1 0zm0 0zm0 0zm0 0zm1 0zm1 0zm1 0zm2 0zm3 0zm1 0zm2 0zm0 0zm1 0zm4 0zm3 0zm-113 1zm25 0zm0 0zm17 0zm13 0zm10 0zm2 0zm3 0zm4 0zm6 0zm0 0zm1 0zm1 0zm2 0zm3 0zm2 0zm0 0zm1 0zm0 0zm0 0zm1 0zm0 0zm0 0zm2 0zm0 0zm1 0zm1 0zm1 0zm0 0zm1 0zm0 0zm1 0zm2 0zm1 0zm3 0zm5 0zm10 0zm-111 1zm12 0zm15 0zm0 0zm13 0zm26 0zm1 0zm4 0zm6 0zm0 0zm1 0zm0 0zm0 0zm0 0zm2 0zm0 0zm2 0zm2 0zm2 0zm0 0zm1 0zm1 0zm1 0zm1 0zm1 0zm0 0zm0 0zm1 0zm1 0zm0 0zm6 0zm6 0zm-93 1zm4 0zm9 0zm14 0zm10 0zm6 0zm4 0zm9 0zm5 0zm0 0zm2 0zm3 0zm0 0zm0 0zm2 0zm1 0zm1 0zm1 0zm0 0zm1 0zm0 0zm2 0zm1 0zm0 0zm1 0zm1 0zm3 0zm0 0zm5 0zm3 0zm-107 1zm0 0zm1 0zm14 0zm3 0zm4 0zm3 0zm10 0zm2 0zm14 0zm12 0zm9 0zm9 0zm3 0zm1 0zm1 0zm0 0zm3 0zm0 0zm1 0zm1 0zm1 0zm0 0zm3 0zm0 0zm2 0zm0 0zm1 0zm2 0zm0 0zm1 0zm1 0zm0 0zm0 0zm8 0zm-89 1zm2 0zm7 0zm2 0zm3 0zm2 0zm3 0zm1 0zm3 0zm7 0zm27 0zm2 0zm5 0zm2 0zm1 0zm1 0zm1 0zm0 0zm2 0zm1 0zm3 0zm1 0zm2 0zm1 0zm1 0zm1 0zm0 0zm1 0zm1 0zm11 0zm-91 1zm4 0zm1 0zm5 0zm2 0zm0 0zm7 0zm1 0zm4 0zm18 0zm0 0zm10 0zm1 0zm2 0zm4 0zm0 0zm0 0zm0 0zm1 0zm2 0zm3 0zm0 0zm0 0zm2 0zm0 0zm1 0zm1 0zm1 0zm1 0zm5 0zm1 0zm-70 1zm4 0zm2 0zm11 0zm9 0zm2 0zm16 0zm3 0zm4 0zm4 0zm2 0zm0 0zm4 0zm1 0zm0 0zm2 0zm1 0zm0 0zm3 0zm1 0zm14 0zm7 0zm-106 1zm11 0zm12 0zm1 0zm22 0zm7 0zm11 0zm1 0zm10 0zm1 0zm1 0zm0 0zm7 0zm4 0zm1 0zm0 0zm7 0zm-113 1zm19 0zm14 0zm2 0zm6 0zm8 0zm1 0zm14 0zm14 0zm7 0zm2 0zm2 0zm0 0zm5 0zm3 0zm2 0zm0 0zm0 0zm2 0zm6 0zm2 0zm1 0zm3 0zm-81 1zm3 0zm3 0zm2 0zm9 0zm24 0zm3 0zm4 0zm4 0zm2 0zm1 0zm1 0zm3 0zm0 0zm0 0zm1 0zm1 0zm1 0zm1 0zm0 0zm5 0zm0 0zm0 0zm1 0zm6 0zm3 0zm4 0zm9 0zm-126 1zm8 0zm10 0zm9 0zm0 0zm5 0zm17 0zm17 0zm3 0zm11 0zm4 0zm3 0zm1 0zm0 0zm1 0zm2 0zm1 0zm0 0zm0 0zm1 0zm0 0zm1 0zm1 0zm0 0zm1 0zm0 0zm1 0zm3 0zm0 0zm3 0zm3 0zm0 0zm3 0zm-71 1zm18 0zm8 0zm26 0zm1 0zm0 0zm1 0zm0 0zm1 0zm1 0zm4 0zm1 0zm1 0zm4 0zm-100 1zm25 0zm2 0zm3 0zm11 0zm2 0zm3 0zm3 0zm34 0zm2 0zm3 0zm1 0zm4 0zm1 0zm2 0zm8 0zm1 0zm3 0zm0 0zm3 0zm11 0zm-78 1zm30 0zm7 0zm4 0zm5 0zm1 0zm4 0zm1 0zm5 0zm0 0zm1 0zm0 0zm1 0zm3 0zm-92 1zm15 0zm2 0zm5 0zm47 0zm4 0zm7 0zm3 0zm2 0zm2 0zm18 0zm-94 1zm9 0zm36 0zm9 0zm3 0zm4 0zm2 0zm4 0zm0 0zm2 0zm1 0zm5 0zm5 0zm2 0zm-102 1zm6 0zm18 0zm5 0zm25 0zm20 0zm7 0zm3 0zm4 0zm4 0zm-64 1zm41 0zm2 0zm3 0zm16 0zm1 0zm4 0zm10 0zm-26 1zm2 0zm1 0zm2 0zm4 0zm2 0zm2 0zm-83 1zm50 0zm26 1zm-9 1zm17 0zm-76 1zm25 0zm33 0zm3 0zm4 0zm15 0zm-91 1zm19 0zm18 0zm19 0zm27 0zm2 1zm9 0zm-42 1zm28 0zm10 0zm3 0zm-13 1zm10 0zm0 0zm0 0zm-74 1zm56 0z"/></defs>
<g fill="none" stroke="#ff1010" stroke-linecap="square"><use href="#dp1" stroke-width="2.4" stroke-opacity="0.16" filter="url(#sb)"/><use href="#dp1" stroke-width="1.1" stroke-opacity="0.4"/></g>
<line x1="81.3" y1="183" x2="81.3" y2="240" stroke="#5a5a5a" stroke-width="0.5"/>
<line x1="42.2" y1="211.4" x2="114.8" y2="211.4" stroke="#5a5a5a" stroke-width="0.5"/>
<path d="M42.2 246.7v1.8M49.39 246.7v1M53.7 246.7v1M56.57 246.7v1M58.97 246.7v1M60.89 246.7v1M62.56 246.7v1M63.76 246.7v1M64.96 246.7v1M66.16 246.7v1.8M73.35 246.7v1M77.66 246.7v1M80.53 246.7v1M82.93 246.7v1M84.85 246.7v1M86.52 246.7v1M87.72 246.7v1M88.92 246.7v1M90.12 246.7v1.8M97.3 246.7v1M101.62 246.7v1M104.49 246.7v1M106.89 246.7v1M108.8 246.7v1M110.48 246.7v1M111.68 246.7v1M112.88 246.7v1M42.2 175.2h-1M42.2 177.85h-1M42.2 180.5h-1M42.2 183.14h-1M42.2 185.79h-1M42.2 188.44h-1M42.2 191.09h-1M42.2 193.74h-1M42.2 196.39h-1M42.2 199.03h-1M42.2 201.68h-1M42.2 204.33h-1M42.2 206.98h-1M42.2 209.63h-1M42.2 212.27h-1M42.2 214.92h-1M42.2 217.57h-1M42.2 220.22h-1M42.2 222.87h-1M42.2 225.51h-1M42.2 228.16h-1M42.2 230.81h-1M42.2 233.46h-1M42.2 236.11h-1M42.2 238.76h-1M42.2 241.4h-1M42.2 244.05h-1M42.2 246.7h-1" fill="none" stroke="#777" stroke-width="0.35"/>
<text x="42.2" y="252.7" font-size="3.1" text-anchor="middle" fill="#555">10<tspan font-size="2" dy="-1.2">2</tspan></text>
<text x="66.16" y="252.7" font-size="3.1" text-anchor="middle" fill="#555">10<tspan font-size="2" dy="-1.2">3</tspan></text>
<text x="90.12" y="252.7" font-size="3.1" text-anchor="middle" fill="#555">10<tspan font-size="2" dy="-1.2">4</tspan></text>
<text x="39" y="198.79" font-size="3.1" text-anchor="middle" transform="rotate(-90 39 198.79)" fill="#555">10<tspan font-size="2" dy="-1.2">5</tspan></text>
<text x="39" y="235.26" font-size="3.1" text-anchor="middle" transform="rotate(-90 39 235.26)" fill="#555">0</text>
<text x="61.95" y="182.7" font-size="7.3" text-anchor="middle">23.5%</text>
<text x="97.45" y="182.7" font-size="7.3" text-anchor="middle">12.5%</text>
<text x="61.95" y="245.2" font-size="7.3" text-anchor="middle">18.9%</text>
<text x="97.45" y="245.2" font-size="7.3" text-anchor="middle">45.2%</text>
<rect x="128.2" y="176.3" width="71.4" height="70.9" fill="none" stroke="#a6a6a6" stroke-width="0.55"/>
<line x1="128.2" y1="176.3" x2="128.2" y2="247.2" stroke="#666" stroke-width="0.6"/>
<line x1="128.2" y1="247.2" x2="199.6" y2="247.2" stroke="#666" stroke-width="0.6"/>
<defs><path id="dp2" transform="scale(.5)" d="m323 359zm-47 2zm17 4zm25 0zm27 2zm-63 3zm7 0zm-19 1zm28 0zm22 0zm35 0zm-69 1zm19 0zm40 0zm-38 1zm17 0zm-51 1zm46 0zm30 0zm8 0zm2 0zm-70 1zm8 0zm3 0zm20 0zm54 0zm-75 1zm2 0zm5 0zm28 0zm18 0zm-69 1zm14 0zm11 0zm29 0zm10 0zm4 0zm6 0zm8 0zm-65 1zm1 0zm0 0zm6 0zm4 0zm3 0zm7 0zm6 0zm7 0zm9 0zm6 0zm0 0zm-75 1zm14 0zm2 0zm4 0zm15 0zm8 0zm37 0zm-81 1zm7 0zm23 0zm6 0zm21 0zm60 0zm-86 1zm6 0zm10 0zm13 0zm24 0zm4 0zm5 0zm-74 1zm11 0zm1 0zm1 0zm1 0zm3 0zm2 0zm1 0zm14 0zm5 0zm16 0zm4 0zm-75 1zm24 0zm5 0zm4 0zm4 0zm4 0zm1 0zm15 0zm8 0zm3 0zm10 0zm3 0zm3 0zm-62 1zm7 0zm14 0zm3 0zm6 0zm2 0zm-65 1zm5 0zm9 0zm0 0zm13 0zm10 0zm3 0zm1 0zm21 0zm9 0zm6 0zm-47 1zm6 0zm7 0zm11 0zm10 0zm2 0zm2 0zm3 0zm15 0zm6 0zm6 0zm12 0zm-103 1zm18 0zm6 0zm2 0zm8 0zm1 0zm1 0zm0 0zm13 0zm6 0zm4 0zm0 0zm13 0zm12 0zm25 0zm-115 1zm7 0zm15 0zm7 0zm1 0zm8 0zm6 0zm8 0zm8 0zm2 0zm7 0zm4 0zm7 0zm5 0zm0 0zm4 0zm4 0zm0 0zm14 0zm8 0zm-95 1zm9 0zm5 0zm2 0zm6 0zm5 0zm10 0zm4 0zm2 0zm14 0zm3 0zm2 0zm2 0zm2 0zm4 0zm12 0zm14 0zm-94 1zm2 0zm0 0zm6 0zm5 0zm8 0zm0 0zm3 0zm11 0zm10 0zm10 0zm3 0zm5 0zm5 0zm-58 1zm1 0zm1 0zm3 0zm11 0zm3 0zm3 0zm1 0zm1 0zm2 0zm1 0zm1 0zm6 0zm0 0zm2 0zm2 0zm6 0zm3 0zm8 0zm-83 1zm16 0zm4 0zm10 0zm4 0zm1 0zm1 0zm6 0zm0 0zm0 0zm1 0zm1 0zm5 0zm5 0zm2 0zm0 0zm8 0zm4 0zm1 0zm0 0zm10 0zm6 0zm7 0zm-89 1zm9 0zm13 0zm3 0zm1 0zm3 0zm0 0zm13 0zm7 0zm7 0zm2 0zm7 0zm0 0zm-70 1zm9 0zm5 0zm5 0zm5 0zm0 0zm2 0zm1 0zm9 0zm1 0zm0 0zm1 0zm3 0zm0 0zm2 0zm1 0zm1 0zm2 0zm2 0zm1 0zm5 0zm3 0zm1 0zm8 0zm8 0zm9 0zm4 0zm4 0zm2 0zm-79 1zm3 0zm10 0zm1 0zm0 0zm0 0zm4 0zm2 0zm4 0zm3 0zm0 0zm3 0zm0 0zm0 0zm1 0zm3 0zm10 0zm2 0zm5 0zm1 0zm4 0zm5 0zm3 0zm2 0zm2 0zm1 0zm5 0zm2 0zm3 0zm4 0zm0 0zm3 0zm-83 1zm8 0zm1 0zm9 0zm4 0zm3 0zm1 0zm3 0zm0 0zm5 0zm8 0zm3 0zm1 0zm7 0zm8 0zm0 0zm3 0zm4 0zm2 0zm0 0zm2 0zm5 0zm1 0zm7 0zm0 0zm-105 1zm6 0zm9 0zm10 0zm1 0zm7 0zm7 0zm1 0zm1 0zm0 0zm1 0zm1 0zm1 0zm1 0zm1 0zm1 0zm1 0zm6 0zm6 0zm9 0zm3 0zm1 0zm0 0zm1 0zm0 0zm9 0zm0 0zm10 0zm8 0zm-83 1zm6 0zm0 0zm6 0zm5 0zm9 0zm9 0zm9 0zm1 0zm5 0zm2 0zm1 0zm6 0zm3 0zm1 0zm1 0zm2 0zm8 0zm1 0zm0 0zm4 0zm7 0zm3 0zm-94 1zm8 0zm11 0zm2 0zm2 0zm1 0zm0 0zm6 0zm3 0zm5 0zm2 0zm1 0zm1 0zm6 0zm2 0zm0 0zm1 0zm2 0zm17 0zm3 0zm5 0zm11 0zm-82 1zm0 0zm3 0zm4 0zm1 0zm3 0zm1 0zm6 0zm2 0zm0 0zm13 0zm14 0zm1 0zm3 0zm3 0zm7 0zm0 0zm1 0zm3 0zm12 0zm-80 1zm1 0zm10 0zm2 0zm2 0zm4 0zm7 0zm1 0zm0 0zm3 0zm4 0zm7 0zm2 0zm2 0zm4 0zm0 0zm1 0zm0 0zm2 0zm3 0zm0 0zm5 0zm2 0zm0 0zm0 0zm1 0zm1 0zm5 0zm5 0zm3 0zm0 0zm5 0zm0 0zm1 0zm-84 1zm3 0zm7 0zm7 0zm1 0zm0 0zm1 0zm1 0zm1 0zm2 0zm4 0zm1 0zm2 0zm1 0zm0 0zm4 0zm4 0zm5 0zm2 0zm4 0zm4 0zm5 0zm1 0zm2 0zm0 0zm3 0zm7 0zm2 0zm7 0zm-70 1zm18 0zm6 0zm4 0zm2 0zm1 0zm11 0zm17 0zm1 0zm1 0zm1 0zm1 0zm1 0zm5 0zm5 0zm-73 1zm3 0zm0 0zm4 0zm13 0zm1 0zm0 0zm3 0zm5 0zm0 0zm4 0zm1 0zm2 0zm3 0zm1 0zm6 0zm6 0zm3 0zm1 0zm3 0zm3 0zm5 0zm3 0zm6 0zm-83 1zm2 0zm1 0zm10 0zm5 0zm1 0zm2 0zm0 0zm11 0zm4 0zm3 0zm1 0zm1 0zm1 0zm1 0zm5 0zm4 0zm0 0zm2 0zm1 0zm1 0zm0 0zm2 0zm0 0zm6 0zm4 0zm14 0zm-74 1zm7 0zm0 0zm1 0zm3 0zm3 0zm3 0zm2 0zm2 0zm2 0zm2 0zm6 0zm0 0zm1 0zm1 0zm3 0zm5 0zm1 0zm2 0zm2 0zm3 0zm3 0zm4 0zm3 0zm2 0zm2 0zm4 0zm4 0zm-88 1zm5 0zm17 0zm3 0zm2 0zm22 0zm1 0zm2 0zm0 0zm6 0zm2 0zm1 0zm5 0zm5 0zm4 0zm8 0zm5 0zm-71 1zm7 0zm9 0zm3 0zm0 0zm1 0zm0 0zm1 0zm6 0zm2 0zm1 0zm0 0zm3 0zm3 0zm11 0zm0 0zm1 0zm1 0zm0 0zm1 0zm1 0zm3 0zm0 0zm1 0zm2 0zm10 0zm3 0zm7 0zm4 0zm9 0zm-91 1zm6 0zm1 0zm0 0zm8 0zm2 0zm3 0zm9 0zm1 0zm8 0zm1 0zm7 0zm1 0zm1 0zm3 0zm3 0zm0 0zm1 0zm0 0zm4 0zm4 0zm4 0zm1 0zm1 0zm6 0zm1 0zm13 0zm-86 1zm7 0zm3 0zm4 0zm5 0zm0 0zm1 0zm9 0zm0 0zm11 0zm1 0zm1 0zm1 0zm8 0zm0 0zm1 0zm4 0zm1 0zm3 0zm1 0zm0 0zm11 0zm19 0zm-99 1zm12 0zm6 0zm2 0zm10 0zm1 0zm2 0zm0 0zm1 0zm4 0zm0 0zm0 0zm2 0zm1 0zm3 0zm1 0zm0 0zm1 0zm0 0zm5 0zm1 0zm3 0zm4 0zm1 0zm0 0zm0 0zm1 0zm10 0zm0 0zm-77 1zm9 0zm5 0zm10 0zm3 0zm10 0zm0 0zm2 0zm3 0zm2 0zm1 0zm3 0zm10 0zm3 0zm7 0zm3 0zm1 0zm1 0zm2 0zm0 0zm1 0zm1 0zm1 0zm1 0zm6 0zm0 0zm-67 1zm7 0zm2 0zm4 0zm3 0zm8 0zm9 0zm1 0zm6 0zm1 0zm3 0zm0 0zm0 0zm1 0zm3 0zm2 0zm1 0zm1 0zm2 0zm7 0zm1 0zm1 0zm3 0zm-103 1zm50 0zm1 0zm0 0zm7 0zm5 0zm4 0zm1 0zm2 0zm0 0zm5 0zm0 0zm5 0zm4 0zm6 0zm0 0zm8 0zm3 0zm1 0zm-75 1zm7 0zm4 0zm9 0zm6 0zm1 0zm3 0zm1 0zm0 0zm1 0zm2 0zm4 0zm0 0zm2 0zm0 0zm6 0zm3 0zm0 0zm1 0zm6 0zm0 0zm1 0zm2 0zm1 0zm0 0zm2 0zm2 0zm1 0zm0 0zm2 0zm2 0zm1 0zm7 0zm-49 1zm4 0zm3 0zm0 0zm4 0zm1 0zm2 0zm2 0zm8 0zm2 0zm2 0zm2 0zm0 0zm1 0zm0 0zm1 0zm1 0zm3 0zm3 0zm4 0zm3 0zm1 0zm7 0zm-72 1zm2 0zm1 0zm1 0zm10 0zm0 0zm2 0zm0 0zm6 0zm5 0zm4 0zm1 0zm2 0zm3 0zm1 0zm9 0zm1 0zm1 0zm7 0zm2 0zm-52 1zm7 0zm7 0zm3 0zm0 0zm0 0zm2 0zm10 0zm2 0zm7 0zm0 0zm3 0zm1 0zm4 0zm7 0zm0 0zm7 0zm1 0zm2 0zm-70 1zm29 0zm3 0zm1 0zm2 0zm3 0zm1 0zm4 0zm2 0zm3 0zm4 0zm0 0zm1 0zm0 0zm1 0zm1 0zm1 0zm0 0zm3 0zm5 0zm3 0zm1 0zm2 0zm1 0zm-77 1zm0 0zm3 0zm10 0zm4 0zm5 0zm1 0zm15 0zm1 0zm3 0zm8 0zm1 0zm0 0zm2 0zm1 0zm0 0zm1 0zm5 0zm7 0zm7 0zm4 0zm5 0zm2 0zm-86 1zm8 0zm26 0zm0 0zm4 0zm9 0zm2 0zm4 0zm6 0zm1 0zm1 0zm5 0zm6 0zm5 0zm12 0zm-93 1zm60 0zm1 0zm3 0zm0 0zm0 0zm3 0zm0 0zm1 0zm5 0zm0 0zm10 0zm0 0zm2 0zm15 0zm-115 1zm25 0zm13 0zm6 0zm0 0zm17 0zm5 0zm3 0zm5 0zm8 0zm1 0zm4 0zm0 0zm5 0zm1 0zm0 0zm2 0zm10 0zm-110 1zm12 0zm18 0zm29 0zm10 0zm2 0zm3 0zm4 0zm2 0zm10 0zm2 0zm2 0zm6 0zm3 0zm12 0zm-66 1zm6 0zm3 0zm2 0zm2 0zm0 0zm6 0zm10 0zm1 0zm1 0zm2 0zm0 0zm3 0zm0 0zm1 0zm15 0zm13 0zm-76 1zm1 0zm15 0zm1 0zm10 0zm1 0zm6 0zm4 0zm1 0zm3 0zm1 0zm2 0zm2 0zm4 0zm0 0zm9 0zm7 0zm3 0zm-91 1zm29 0zm1 0zm0 0zm1 0zm0 0zm11 0zm5 0zm1 0zm0 0zm8 0zm6 0zm6 0zm2 0zm0 0zm1 0zm3 0zm5 0zm1 0zm5 0zm0 0zm1 0zm5 0zm0 0zm-45 1zm9 0zm1 0zm5 0zm6 0zm2 0zm2 0zm0 0zm2 0zm0 0zm2 0zm16 0zm-78 1zm2 0zm6 0zm7 0zm11 0zm4 0zm12 0zm0 0zm6 0zm0 0zm1 0zm1 0zm2 0zm0 0zm3 0zm2 0zm0 0zm1 0zm1 0zm4 0zm0 0zm3 0zm1 0zm0 0zm4 0zm2 0zm-75 1zm31 0zm3 0zm4 0zm1 0zm3 0zm9 0zm2 0zm1 0zm1 0zm4 0zm2 0zm3 0zm1 0zm1 0zm0 0zm1 0zm1 0zm1 0zm2 0zm5 0zm20 0zm-66 1zm2 0zm0 0zm3 0zm4 0zm1 0zm2 0zm8 0zm8 0zm2 0zm0 0zm0 0zm8 0zm2 0zm2 0zm2 0zm-89 1zm1 0zm3 0zm3 0zm7 0zm13 0zm3 0zm14 0zm11 0zm1 0zm1 0zm4 0zm5 0zm8 0zm1 0zm0 0zm3 0zm3 0zm3 0zm0 0zm5 0zm2 0zm3 0zm14 0zm-94 1zm15 0zm9 0zm5 0zm28 0zm2 0zm1 0zm0 0zm3 0zm0 0zm3 0zm1 0zm2 0zm4 0zm2 0zm4 0zm1 0zm9 0zm-89 1zm5 0zm5 0zm9 0zm13 0zm12 0zm0 0zm4 0zm2 0zm2 0zm2 0zm1 0zm3 0zm0 0zm2 0zm5 0zm3 0zm2 0zm0 0zm0 0zm1 0zm0 0zm1 0zm0 0zm0 0zm8 0zm-79 1zm14 0zm11 0zm23 0zm3 0zm1 0zm2 0zm0 0zm4 0zm0 0zm2 0zm0 0zm6 0zm2 0zm4 0zm1 0zm2 0zm4 0zm5 0zm-109 1zm18 0zm8 0zm33 0zm5 0zm8 0zm2 0zm5 0zm1 0zm0 0zm0 0zm1 0zm6 0zm4 0zm4 0zm1 0zm1 0zm2 0zm2 0zm3 0zm10 0zm-113 1zm18 0zm16 0zm7 0zm3 0zm27 0zm1 0zm1 0zm6 0zm3 0zm1 0zm1 0zm2 0zm0 0zm1 0zm2 0zm4 0zm1 0zm-88 1zm1 0zm6 0zm6 0zm4 0zm28 0zm7 0zm7 0zm0 0zm5 0zm2 0zm3 0zm2 0zm1 0zm6 0zm0 0zm1 0zm0 0zm0 0zm0 0zm0 0zm1 0zm0 0zm2 0zm0 0zm2 0zm2 0zm2 0zm0 0zm1 0zm5 0zm-85 1zm25 0zm18 0zm4 0zm0 0zm3 0zm3 0zm3 0zm1 0zm1 0zm1 0zm3 0zm2 0zm3 0zm3 0zm2 0zm1 0zm4 0zm2 0zm0 0zm1 0zm3 0zm3 0zm1 0zm1 0zm1 0zm0 0zm1 0zm-94 1zm22 0zm1 0zm7 0zm3 0zm6 0zm1 0zm1 0zm6 0zm13 0zm1 0zm2 0zm1 0zm2 0zm1 0zm3 0zm2 0zm0 0zm4 0zm0 0zm1 0zm1 0zm4 0zm0 0zm2 0zm1 0zm4 0zm1 0zm1 0zm-108 1zm20 0zm3 0zm19 0zm0 0zm29 0zm2 0zm15 0zm0 0zm0 0zm1 0zm2 0zm1 0zm0 0zm2 0zm0 0zm1 0zm1 0zm1 0zm1 0zm11 0zm5 0zm-89 1zm9 0zm8 0zm1 0zm4 0zm7 0zm4 0zm21 0zm5 0zm2 0zm2 0zm1 0zm0 0zm1 0zm8 0zm5 0zm2 0zm2 0zm17 0zm-93 1zm1 0zm37 0zm3 0zm4 0zm8 0zm1 0zm1 0zm0 0zm1 0zm1 0zm0 0zm2 0zm0 0zm1 0zm1 0zm0 0zm1 0zm1 0zm1 0zm1 0zm1 0zm2 0zm0 0zm2 0zm2 0zm0 0zm2 0zm-84 1zm3 0zm10 0zm4 0zm1 0zm4 0zm27 0zm6 0zm0 0zm0 0zm3 0zm0 0zm2 0zm1 0zm0 0zm2 0zm0 0zm5 0zm0 0zm4 0zm2 0zm1 0zm2 0zm1 0zm0 0zm5 0zm0 0zm1 0zm4 0zm6 0zm2 0zm-116 1zm2 0zm9 0zm22 0zm5 0zm5 0zm5 0zm12 0zm1 0zm3 0zm5 0zm5 0zm0 0zm0 0zm2 0zm0 0zm0 0zm1 0zm2 0zm0 0zm2 0zm1 0zm0 0zm3 0zm0 0zm0 0zm1 0zm0 0zm0 0zm3 0zm0 0zm1 0zm4 0zm1 0zm0 0zm1 0zm1 0zm0 0zm6 0zm0 0zm2 0zm-92 1zm8 0zm3 0zm4 0zm3 0zm11 0zm4 0zm4 0zm19 0zm4 0zm4 0zm4 0zm0 0zm0 0zm0 0zm3 0zm2 0zm3 0zm1 0zm1 0zm0 0zm2 0zm0 0zm1 0zm1 0zm0 0zm0 0zm7 0zm0 0zm2 0zm0 0zm4 0zm4 0zm8 0zm3 0zm-100 1zm2 0zm5 0zm7 0zm5 0zm1 0zm2 0zm8 0zm5 0zm20 0zm5 0zm0 0zm0 0zm1 0zm1 0zm0 0zm1 0zm0 0zm1 0zm2 0zm0 0zm2 0zm4 0zm1 0zm0 0zm0 0zm2 0zm2 0zm0 0zm0 0zm1 0zm1 0zm0 0zm1 0zm0 0zm1 0zm-101 1zm16 0zm26 0zm22 0zm2 0zm6 0zm3 0zm4 0zm0 0zm1 0zm3 0zm2 0zm0 0zm0 0zm1 0zm1 0zm1 0zm0 0zm0 0zm3 0zm0 0zm0 0zm1 0zm1 0zm1 0zm2 0zm0 0zm2 0zm0 0zm0 0zm0 0zm1 0zm1 0zm2 0zm6 0zm-101 1zm3 0zm24 0zm17 0zm4 0zm11 0zm2 0zm7 0zm1 0zm1 0zm0 0zm2 0zm1 0zm1 0zm1 0zm1 0zm1 0zm1 0zm0 0zm0 0zm1 0zm1 0zm0 0zm3 0zm2 0zm0 0zm2 0zm0 0zm1 0zm0 0zm1 0zm1 0zm4 0zm1 0zm1 0zm9 0zm-58 1zm3 0zm1 0zm3 0zm11 0zm3 0zm0 0zm1 0zm0 0zm1 0zm0 0zm1 0zm1 0zm0 0zm2 0zm1 0zm1 0zm0 0zm1 0zm1 0zm0 0zm1 0zm0 0zm0 0zm0 0zm0 0zm1 0zm1 0zm1 0zm0 0zm2 0zm0 0zm2 0zm0 0zm1 0zm2 0zm3 0zm0 0zm0 0zm0 0zm1 0zm0 0zm5 0zm2 0zm7 0zm-114 1zm8 0zm3 0zm1 0zm4 0zm0 0zm7 0zm1 0zm8 0zm13 0zm6 0zm0 0zm17 0zm5 0zm0 0zm6 0zm2 0zm1 0zm1 0zm1 0zm0 0zm1 0zm1 0zm2 0zm3 0zm0 0zm1 0zm2 0zm1 0zm1 0zm0 0zm0 0zm1 0zm1 0zm1 0zm1 0zm1 0zm1 0zm0 0zm2 0zm5 0zm11 0zm-103 1zm6 0zm7 0zm2 0zm18 0zm8 0zm14 0zm1 0zm2 0zm2 0zm0 0zm0 0zm1 0zm2 0zm2 0zm0 0zm0 0zm0 0zm1 0zm1 0zm0 0zm1 0zm1 0zm0 0zm3 0zm0 0zm1 0zm1 0zm0 0zm0 0zm1 0zm1 0zm0 0zm1 0zm0 0zm1 0zm1 0zm4 0zm0 0zm9 0zm-108 1zm17 0zm7 0zm30 0zm5 0zm13 0zm1 0zm1 0zm1 0zm1 0zm2 0zm2 0zm1 0zm1 0zm1 0zm0 0zm0 0zm3 0zm0 0zm1 0zm0 0zm0 0zm0 0zm0 0zm0 0zm1 0zm0 0zm1 0zm0 0zm1 0zm0 0zm1 0zm2 0zm1 0zm0 0zm2 0zm0 0zm0 0zm4 0zm2 0zm-94 1zm0 0zm11 0zm8 0zm1 0zm2 0zm3 0zm2 0zm15 0zm3 0zm3 0zm11 0zm2 0zm0 0zm6 0zm1 0zm1 0zm1 0zm1 0zm2 0zm1 0zm0 0zm2 0zm0 0zm3 0zm0 0zm0 0zm1 0zm0 0zm1 0zm0 0zm0 0zm0 0zm2 0zm0 0zm2 0zm1 0zm0 0zm5 0zm1 0zm3 0zm-102 1zm4 0zm6 0zm3 0zm10 0zm5 0zm2 0zm0 0zm6 0zm14 0zm0 0zm4 0zm9 0zm10 0zm2 0zm3 0zm1 0zm2 0zm2 0zm1 0zm0 0zm1 0zm1 0zm2 0zm1 0zm2 0zm2 0zm0 0zm2 0zm0 0zm1 0zm2 0zm0 0zm4 0zm1 0zm0 0zm0 0zm3 0zm2 0zm0 0zm-82 1zm6 0zm2 0zm24 0zm12 0zm1 0zm3 0zm10 0zm1 0zm0 0zm1 0zm1 0zm1 0zm1 0zm0 0zm0 0zm0 0zm1 0zm0 0zm1 0zm0 0zm0 0zm1 0zm1 0zm2 0zm4 0zm1 0zm-94 1zm1 0zm7 0zm22 0zm3 0zm8 0zm7 0zm18 0zm2 0zm2 0zm0 0zm0 0zm6 0zm4 0zm0 0zm0 0zm1 0zm0 0zm1 0zm2 0zm1 0zm0 0zm3 0zm3 0zm0 0zm4 0zm0 0zm-85 1zm3 0zm34 0zm6 0zm10 0zm7 0zm2 0zm0 0zm2 0zm0 0zm2 0zm0 0zm1 0zm1 0zm1 0zm0 0zm0 0zm1 0zm1 0zm1 0zm1 0zm1 0zm1 0zm0 0zm2 0zm0 0zm2 0zm2 0zm2 0zm4 0zm6 0zm-103 1zm9 0zm7 0zm11 0zm11 0zm7 0zm0 0zm1 0zm2 0zm11 0zm2 0zm1 0zm0 0zm2 0zm3 0zm3 0zm1 0zm1 0zm1 0zm0 0zm1 0zm5 0zm0 0zm0 0zm1 0zm2 0zm0 0zm0 0zm1 0zm0 0zm1 0zm2 0zm1 0zm0 0zm0 0zm1 0zm1 0zm0 0zm1 0zm1 0zm1 0zm0 0zm1 0zm4 0zm2 0zm13 0zm-116 1zm1 0zm6 0zm1 0zm7 0zm26 0zm13 0zm11 0zm6 0zm0 0zm1 0zm1 0zm3 0zm3 0zm2 0zm2 0zm1 0zm1 0zm0 0zm0 0zm3 0zm0 0zm1 0zm2 0zm1 0zm1 0zm0 0zm1 0zm7 0zm1 0zm0 0zm0 0zm2 0zm1 0zm1 0zm6 0zm-105 1zm0 0zm2 0zm8 0zm12 0zm5 0zm6 0zm30 0zm1 0zm3 0zm1 0zm5 0zm1 0zm1 0zm2 0zm0 0zm1 0zm0 0zm0 0zm1 0zm1 0zm1 0zm1 0zm2 0zm2 0zm5 0zm3 0zm0 0zm1 0zm0 0zm1 0zm7 0zm-103 1zm4 0zm10 0zm14 0zm8 0zm1 0zm12 0zm9 0zm7 0zm4 0zm3 0zm1 0zm0 0zm0 0zm1 0zm1 0zm2 0zm0 0zm1 0zm0 0zm0 0zm0 0zm2 0zm0 0zm1 0zm0 0zm0 0zm0 0zm3 0zm3 0zm1 0zm1 0zm0 0zm1 0zm0 0zm7 0zm0 0zm-112 1zm14 0zm21 0zm2 0zm3 0zm27 0zm0 0zm1 0zm8 0zm2 0zm5 0zm2 0zm1 0zm4 0zm0 0zm2 0zm0 0zm1 0zm1 0zm0 0zm3 0zm0 0zm1 0zm2 0zm0 0zm1 0zm1 0zm2 0zm3 0zm9 0zm5 0zm-116 1zm13 0zm1 0zm3 0zm7 0zm8 0zm40 0zm3 0zm1 0zm1 0zm4 0zm1 0zm3 0zm0 0zm0 0zm1 0zm0 0zm1 0zm0 0zm2 0zm6 0zm0 0zm3 0zm7 0zm-106 1zm6 0zm22 0zm24 0zm1 0zm17 0zm6 0zm0 0zm1 0zm0 0zm1 0zm2 0zm1 0zm3 0zm3 0zm0 0zm1 0zm1 0zm0 0zm1 0zm2 0zm0 0zm1 0zm2 0zm1 0zm1 0zm1 0zm3 0zm1 0zm-110 1zm19 0zm7 0zm2 0zm1 0zm1 0zm9 0zm7 0zm0 0zm7 0zm3 0zm4 0zm15 0zm5 0zm4 0zm8 0zm1 0zm0 0zm0 0zm1 0zm2 0zm0 0zm0 0zm1 0zm2 0zm1 0zm1 0zm1 0zm1 0zm1 0zm0 0zm1 0zm0 0zm4 0zm-84 1zm7 0zm21 0zm21 0zm8 0zm3 0zm5 0zm0 0zm1 0zm1 0zm1 0zm4 0zm3 0zm1 0zm5 0zm2 0zm1 0zm0 0zm4 0zm-115 1zm5 0zm24 0zm6 0zm1 0zm3 0zm14 0zm15 0zm10 0zm5 0zm1 0zm4 0zm3 0zm0 0zm4 0zm1 0zm0 0zm1 0zm4 0zm1 0zm1 0zm0 0zm2 0zm2 0zm3 0zm1 0zm-92 1zm16 0zm1 0zm11 0zm15 0zm3 0zm2 0zm3 0zm4 0zm7 0zm7 0zm1 0zm2 0zm1 0zm0 0zm3 0zm0 0zm1 0zm1 0zm2 0zm2 0zm1 0zm0 0zm2 0zm3 0zm1 0zm2 0zm0 0zm1 0zm3 0zm-108 1zm21 0zm9 0zm6 0zm2 0zm12 0zm9 0zm1 0zm13 0zm2 0zm11 0zm2 0zm0 0zm0 0zm2 0zm1 0zm3 0zm1 0zm0 0zm0 0zm0 0zm1 0zm0 0zm0 0zm0 0zm1 0zm2 0zm0 0zm2 0zm1 0zm3 0zm11 0zm-83 1zm0 0zm9 0zm0 0zm1 0zm11 0zm28 0zm1 0zm2 0zm1 0zm2 0zm4 0zm3 0zm0 0zm3 0zm1 0zm1 0zm3 0zm1 0zm0 0zm10 0zm-84 1zm5 0zm17 0zm11 0zm21 0zm1 0zm0 0zm7 0zm3 0zm2 0zm1 0zm0 0zm0 0zm1 0zm2 0zm1 0zm3 0zm0 0zm1 0zm0 0zm-97 1zm19 0zm12 0zm7 0zm9 0zm3 0zm16 0zm1 0zm7 0zm1 0zm3 0zm0 0zm0 0zm2 0zm6 0zm2 0zm1 0zm0 0zm0 0zm-80 1zm0 0zm21 0zm22 0zm12 0zm4 0zm2 0zm5 0zm3 0zm1 0zm1 0zm3 0zm0 0zm0 0zm1 0zm0 0zm1 0zm0 0zm5 0zm0 0zm4 0zm4 0zm-110 1zm2 0zm29 0zm7 0zm8 0zm12 0zm9 0zm19 0zm2 0zm0 0zm6 0zm1 0zm1 0zm1 0zm3 0zm0 0zm1 0zm2 0zm3 0zm4 0zm4 0zm1 0zm2 0zm-50 1zm1 0zm14 0zm3 0zm7 0zm1 0zm3 0zm1 0zm2 0zm2 0zm1 0zm2 0zm1 0zm5 0zm2 0zm-29 1zm4 0zm1 0zm1 0zm2 0zm0 0zm0 0zm2 0zm9 0zm0 0zm1 0zm10 0zm-76 1zm47 0zm4 0zm0 0zm5 0zm0 0zm1 0zm7 0zm0 0zm-74 1zm27 0zm28 0zm0 0zm3 0zm0 0zm2 0zm8 0zm3 0zm1 0zm2 0zm2 0zm-85 1zm6 0zm23 0zm5 0zm7 0zm6 0zm7 0zm21 0zm8 0zm-28 1zm8 0zm12 0zm5 0zm7 0zm-21 1zm6 0zm2 0zm8 0zm-15 1zm3 0zm7 0zm1 0zm2 0zm0 0zm-73 1zm53 0zm8 0zm13 0zm17 0zm-56 1zm29 0zm0 0zm4 0zm2 0zm3 0zm6 0zm-38 2zm8 0zm15 0zm15 0zm-91 1zm74 0zm5 0zm-66 1zm11 0zm1 0zm39 0zm10 0zm7 0zm1 0zm2 0zm0 0zm4 1zm17 0z"/></defs>
<g fill="none" stroke="#ff1010" stroke-linecap="square"><use href="#dp2" stroke-width="2.4" stroke-opacity="0.16" filter="url(#sb)"/><use href="#dp2" stroke-width="1.1" stroke-opacity="0.4"/></g>
<line x1="166.5" y1="184" x2="166.5" y2="241" stroke="#5a5a5a" stroke-width="0.5"/>
<line x1="128.2" y1="212.3" x2="199.6" y2="212.3" stroke="#5a5a5a" stroke-width="0.5"/>
<path d="M128.2 247.2v1.8M135.27 247.2v1M139.51 247.2v1M142.34 247.2v1M144.69 247.2v1M146.58 247.2v1M148.23 247.2v1M149.41 247.2v1M150.58 247.2v1M151.76 247.2v1.8M158.83 247.2v1M163.07 247.2v1M165.9 247.2v1M168.26 247.2v1M170.14 247.2v1M171.79 247.2v1M172.97 247.2v1M174.15 247.2v1M175.32 247.2v1.8M182.39 247.2v1M186.63 247.2v1M189.46 247.2v1M191.82 247.2v1M193.7 247.2v1M195.35 247.2v1M196.53 247.2v1M197.71 247.2v1M128.2 176.3h-1M128.2 178.93h-1M128.2 181.55h-1M128.2 184.18h-1M128.2 186.8h-1M128.2 189.43h-1M128.2 192.06h-1M128.2 194.68h-1M128.2 197.31h-1M128.2 199.93h-1M128.2 202.56h-1M128.2 205.19h-1M128.2 207.81h-1M128.2 210.44h-1M128.2 213.06h-1M128.2 215.69h-1M128.2 218.31h-1M128.2 220.94h-1M128.2 223.57h-1M128.2 226.19h-1M128.2 228.82h-1M128.2 231.44h-1M128.2 234.07h-1M128.2 236.7h-1M128.2 239.32h-1M128.2 241.95h-1M128.2 244.57h-1M128.2 247.2h-1" fill="none" stroke="#777" stroke-width="0.35"/>
<text x="128.2" y="253.2" font-size="3.1" text-anchor="middle" fill="#555">10<tspan font-size="2" dy="-1.2">2</tspan></text>
<text x="151.76" y="253.2" font-size="3.1" text-anchor="middle" fill="#555">10<tspan font-size="2" dy="-1.2">3</tspan></text>
<text x="175.32" y="253.2" font-size="3.1" text-anchor="middle" fill="#555">10<tspan font-size="2" dy="-1.2">4</tspan></text>
<text x="125" y="199.7" font-size="3.1" text-anchor="middle" transform="rotate(-90 125 199.7)" fill="#555">10<tspan font-size="2" dy="-1.2">5</tspan></text>
<text x="125" y="235.86" font-size="3.1" text-anchor="middle" transform="rotate(-90 125 235.86)" fill="#555">0</text>
<text x="147.55" y="183.8" font-size="7.3" text-anchor="middle">21.2%</text>
<text x="182.45" y="183.8" font-size="7.3" text-anchor="middle">12.9%</text>
<text x="147.55" y="245.7" font-size="7.3" text-anchor="middle">16.4%</text>
<text x="182.45" y="245.7" font-size="7.3" text-anchor="middle">49.6%</text>
<rect x="42.2" y="261" width="72.6" height="71.5" fill="none" stroke="#a6a6a6" stroke-width="0.55"/>
<line x1="42.2" y1="261" x2="42.2" y2="332.5" stroke="#666" stroke-width="0.6"/>
<line x1="42.2" y1="332.5" x2="114.8" y2="332.5" stroke="#666" stroke-width="0.6"/>
<defs><path id="dp3" transform="scale(.5)" d="m129 526zm16 1zm15 0zm-37 1zm36 4zm-19 5zm11 1zm12 0zm12 0zm-34 1zm-17 1zm18 0zm-5 1zm2 0zm4 0zm14 0zm22 0zm20 0zm4 0zm-84 1zm15 0zm5 0zm1 0zm1 0zm0 0zm8 0zm5 0zm3 0zm20 0zm2 0zm-65 1zm11 0zm1 0zm12 0zm4 0zm2 0zm3 0zm4 0zm5 0zm1 0zm2 0zm27 0zm27 0zm-89 1zm11 0zm1 0zm2 0zm1 0zm6 0zm5 0zm0 0zm1 0zm1 0zm4 0zm1 0zm10 0zm6 0zm1 0zm-47 1zm10 0zm6 0zm3 0zm16 0zm7 0zm7 0zm8 0zm7 0zm-67 1zm5 0zm1 0zm2 0zm2 0zm18 0zm2 0zm37 0zm12 0zm-89 1zm6 0zm14 0zm11 0zm2 0zm3 0zm6 0zm1 0zm4 0zm2 0zm10 0zm30 0zm-79 1zm13 0zm3 0zm6 0zm0 0zm2 0zm1 0zm1 0zm5 0zm8 0zm15 0zm2 0zm1 0zm3 0zm4 0zm4 0zm2 0zm10 0zm-85 1zm17 0zm0 0zm0 0zm5 0zm2 0zm2 0zm4 0zm1 0zm4 0zm3 0zm14 0zm19 0zm8 0zm-84 1zm0 0zm10 0zm1 0zm10 0zm2 0zm14 0zm8 0zm10 0zm28 0zm6 0zm-109 1zm32 0zm5 0zm10 0zm0 0zm1 0zm0 0zm4 0zm5 0zm7 0zm1 0zm3 0zm5 0zm14 0zm4 0zm4 0zm2 0zm14 0zm-71 1zm1 0zm5 0zm1 0zm3 0zm1 0zm10 0zm2 0zm3 0zm15 0zm-46 1zm3 0zm7 0zm0 0zm4 0zm9 0zm2 0zm1 0zm1 0zm1 0zm1 0zm0 0zm1 0zm5 0zm24 0zm-67 1zm4 0zm5 0zm7 0zm1 0zm3 0zm0 0zm4 0zm1 0zm3 0zm0 0zm2 0zm7 0zm18 0zm14 0zm1 0zm25 0zm-94 1zm1 0zm1 0zm2 0zm13 0zm1 0zm1 0zm7 0zm6 0zm2 0zm16 0zm0 0zm14 0zm3 0zm5 0zm2 0zm0 0zm10 0zm-82 1zm2 0zm4 0zm2 0zm2 0zm0 0zm0 0zm1 0zm2 0zm0 0zm0 0zm1 0zm1 0zm3 0zm4 0zm4 0zm13 0zm24 0zm4 0zm10 0zm-65 1zm5 0zm3 0zm8 0zm6 0zm2 0zm0 0zm13 0zm3 0zm1 0zm18 0zm2 0zm0 0zm2 0zm-68 1zm0 0zm3 0zm10 0zm4 0zm10 0zm2 0zm4 0zm5 0zm22 0zm2 0zm-70 1zm11 0zm4 0zm2 0zm5 0zm1 0zm6 0zm1 0zm0 0zm2 0zm2 0zm3 0zm30 0zm1 0zm6 0zm23 0zm-90 1zm2 0zm16 0zm19 0zm6 0zm1 0zm3 0zm4 0zm15 0zm4 0zm4 0zm-70 1zm11 0zm4 0zm1 0zm12 0zm9 0zm2 0zm1 0zm1 0zm3 0zm0 0zm16 0zm2 0zm1 0zm-89 1zm28 0zm2 0zm1 0zm2 0zm1 0zm6 0zm0 0zm5 0zm10 0zm2 0zm10 0zm5 0zm4 0zm9 0zm12 0zm5 0zm-80 1zm1 0zm2 0zm1 0zm6 0zm1 0zm2 0zm8 0zm4 0zm12 0zm9 0zm9 0zm6 0zm17 0zm-87 1zm8 0zm3 0zm3 0zm9 0zm4 0zm3 0zm4 0zm1 0zm25 0zm13 0zm1 0zm-72 1zm1 0zm1 0zm0 0zm8 0zm2 0zm2 0zm2 0zm1 0zm0 0zm14 0zm1 0zm5 0zm3 0zm19 0zm0 0zm0 0zm5 0zm6 0zm14 0zm12 0zm-99 1zm10 0zm7 0zm2 0zm3 0zm3 0zm1 0zm1 0zm2 0zm2 0zm1 0zm1 0zm0 0zm8 0zm6 0zm5 0zm5 0zm8 0zm22 0zm-83 1zm4 0zm2 0zm2 0zm2 0zm12 0zm1 0zm8 0zm14 0zm6 0zm4 0zm4 0zm2 0zm2 0zm25 0zm-87 1zm14 0zm30 0zm4 0zm9 0zm1 0zm21 0zm-68 1zm2 0zm7 0zm4 0zm3 0zm2 0zm25 0zm14 0zm20 0zm-75 1zm5 0zm0 0zm25 0zm8 0zm10 0zm13 0zm-72 1zm15 0zm4 0zm8 0zm18 0zm14 0zm0 0zm1 0zm5 0zm5 0zm-75 1zm6 0zm4 0zm3 0zm1 0zm14 0zm1 0zm6 0zm5 0zm7 0zm2 0zm3 0zm3 0zm6 0zm4 0zm2 0zm14 0zm1 0zm-70 1zm2 0zm3 0zm18 0zm32 0zm9 0zm3 0zm-74 1zm16 0zm24 0zm14 0zm13 0zm1 0zm-90 1zm34 0zm9 0zm2 0zm7 0zm12 0zm37 0zm-79 1zm2 0zm10 0zm38 0zm5 0zm5 0zm3 0zm7 0zm-81 1zm19 0zm36 0zm0 1zm21 0zm-49 1zm28 0zm0 0zm19 0zm1 0zm2 0zm14 0zm-72 1zm3 0zm1 0zm11 0zm13 0zm8 0zm1 0zm5 0zm20 0zm7 0zm5 0zm5 0zm-74 1zm32 0zm2 0zm34 0zm-66 1zm15 0zm30 0zm-48 1zm-1 1zm24 0zm26 0zm4 0zm2 0zm-70 1zm46 0zm11 0zm2 0zm10 0zm17 0zm-59 1zm32 0zm-42 1zm16 0zm17 0zm3 0zm12 0zm-77 2zm50 0zm-38 1zm69 0zm12 0zm-16 1zm-54 1zm71 2zm-20 1zm-25 1zm33 1zm-106 1zm20 0zm65 0zm22 0zm-77 1zm41 0zm-2 1zm33 0zm-15 1zm-27 1zm29 0zm-21 1zm49 0zm-19 1zm5 0zm12 0zm-60 1zm65 1zm-76 1zm76 0zm-37 1zm9 0zm24 1zm16 0zm-77 1zm15 0zm-26 1zm25 0zm30 0zm6 0zm4 0zm-46 1zm26 0zm21 0zm8 0zm6 1zm-86 1zm16 0zm50 0zm5 0zm17 0zm-98 1zm20 0zm41 0zm1 0zm8 0zm3 0zm11 0zm14 0zm-108 1zm71 0zm12 0zm-83 1zm46 0zm48 0zm1 0zm0 0zm3 0zm-77 1zm61 0zm20 0zm-89 1zm0 0zm31 0zm30 0zm6 0zm9 0zm8 0zm-67 1zm12 0zm53 0zm-55 1zm69 0zm-102 1zm35 0zm25 0zm-69 1zm41 0zm42 0zm5 0zm2 0zm5 0zm6 0zm-92 1zm30 0zm7 0zm24 0zm4 0zm7 0zm4 0zm4 0zm5 0zm15 0zm-54 1zm32 0zm5 0zm9 0zm-108 1zm19 0zm16 0zm48 0zm7 0zm6 0zm14 0zm3 0zm-81 1zm11 0zm56 0zm2 0zm-106 1zm7 0zm55 0zm8 0zm17 0zm29 0zm-98 1zm19 0zm19 0zm42 0zm0 0zm5 0zm1 0zm1 0zm5 0zm8 0zm1 0zm-79 1zm12 0zm25 0zm21 0zm5 0zm4 0zm9 0zm-24 1zm13 0zm-71 1zm4 0zm22 0zm36 0zm10 0zm4 0zm7 0zm0 0zm-50 1zm32 0zm1 0zm26 0zm-109 1zm64 0zm5 0zm5 0zm12 0zm5 0zm2 0zm-74 1zm23 0zm34 0zm17 0zm-87 1zm8 0zm87 0zm-73 1zm38 0zm8 0zm3 0zm2 0zm8 0zm-96 1zm49 0zm2 0zm25 0zm17 0zm1 0zm-15 1zm10 0zm9 0zm-12 1zm4 0zm-83 1zm11 0zm47 0zm13 1zm20 0zm-72 1zm34 0zm19 0zm4 0zm3 0zm4 0zm17 0zm-18 1zm-60 1zm13 0zm4 0zm57 0zm2 0zm-64 1zm21 0zm26 0zm16 0zm-58 1zm45 0zm-57 1zm45 1zm-5 3zm29 2zm3 0zm8 0zm-49 1zm41 0zm-24 1zm5 1zm-21 1zm22 1z"/></defs>
<g fill="none" stroke="#ff1010" stroke-linecap="square"><use href="#dp3" stroke-width="2.4" stroke-opacity="0.16" filter="url(#sb)"/><use href="#dp3" stroke-width="1.1" stroke-opacity="0.4"/></g>
<line x1="81.8" y1="268" x2="81.8" y2="325.7" stroke="#5a5a5a" stroke-width="0.5"/>
<line x1="42.2" y1="296" x2="114.8" y2="296" stroke="#5a5a5a" stroke-width="0.5"/>
<path d="M42.2 332.5v1.8M49.39 332.5v1M53.7 332.5v1M56.57 332.5v1M58.97 332.5v1M60.89 332.5v1M62.56 332.5v1M63.76 332.5v1M64.96 332.5v1M66.16 332.5v1.8M73.35 332.5v1M77.66 332.5v1M80.53 332.5v1M82.93 332.5v1M84.85 332.5v1M86.52 332.5v1M87.72 332.5v1M88.92 332.5v1M90.12 332.5v1.8M97.3 332.5v1M101.62 332.5v1M104.49 332.5v1M106.89 332.5v1M108.8 332.5v1M110.48 332.5v1M111.68 332.5v1M112.88 332.5v1M42.2 261h-1M42.2 263.65h-1M42.2 266.3h-1M42.2 268.94h-1M42.2 271.59h-1M42.2 274.24h-1M42.2 276.89h-1M42.2 279.54h-1M42.2 282.19h-1M42.2 284.83h-1M42.2 287.48h-1M42.2 290.13h-1M42.2 292.78h-1M42.2 295.43h-1M42.2 298.07h-1M42.2 300.72h-1M42.2 303.37h-1M42.2 306.02h-1M42.2 308.67h-1M42.2 311.31h-1M42.2 313.96h-1M42.2 316.61h-1M42.2 319.26h-1M42.2 321.91h-1M42.2 324.56h-1M42.2 327.2h-1M42.2 329.85h-1M42.2 332.5h-1" fill="none" stroke="#777" stroke-width="0.35"/>
<text x="42.2" y="338.5" font-size="3.1" text-anchor="middle" fill="#555">10<tspan font-size="2" dy="-1.2">2</tspan></text>
<text x="66.16" y="338.5" font-size="3.1" text-anchor="middle" fill="#555">10<tspan font-size="2" dy="-1.2">3</tspan></text>
<text x="90.12" y="338.5" font-size="3.1" text-anchor="middle" fill="#555">10<tspan font-size="2" dy="-1.2">4</tspan></text>
<text x="39" y="284.6" font-size="3.1" text-anchor="middle" transform="rotate(-90 39 284.6)" fill="#555">10<tspan font-size="2" dy="-1.2">5</tspan></text>
<text x="39" y="321.06" font-size="3.1" text-anchor="middle" transform="rotate(-90 39 321.06)" fill="#555">0</text>
<text x="62.2" y="268.5" font-size="7.3" text-anchor="middle">49.8%</text>
<text x="97.7" y="268.5" font-size="7.3" text-anchor="middle">26.7%</text>
<text x="62.2" y="331" font-size="7.3" text-anchor="middle">8.4%</text>
<text x="97.7" y="331" font-size="7.3" text-anchor="middle">15.1%</text>
<rect x="128" y="261" width="72" height="71.5" fill="none" stroke="#a6a6a6" stroke-width="0.55"/>
<line x1="128" y1="261" x2="128" y2="332.5" stroke="#666" stroke-width="0.6"/>
<line x1="128" y1="332.5" x2="200" y2="332.5" stroke="#666" stroke-width="0.6"/>
<defs><path id="dp4" transform="scale(.5)" d="m323 531zm-24 4zm12 1zm11 2zm14 0zm5 1zm8 0zm21 0zm-50 1zm10 0zm-4 1zm1 0zm7 0zm19 0zm29 0zm-68 1zm0 0zm2 0zm42 0zm0 0zm-62 1zm3 0zm0 0zm25 0zm29 0zm-57 1zm9 0zm9 0zm4 0zm11 0zm19 0zm-44 1zm1 0zm6 0zm9 0zm26 0zm6 0zm15 0zm-53 1zm9 0zm4 0zm15 0zm30 0zm2 0zm-77 1zm24 0zm12 0zm1 0zm25 0zm-53 1zm3 0zm8 0zm3 0zm1 0zm6 0zm17 0zm-46 1zm13 0zm1 0zm1 0zm3 0zm0 0zm2 0zm22 0zm17 0zm-65 1zm6 0zm12 0zm11 0zm6 0zm1 0zm1 0zm14 0zm1 0zm3 0zm1 0zm4 0zm10 0zm-80 1zm24 0zm0 0zm9 0zm19 0zm13 0zm0 0zm11 0zm3 0zm4 0zm3 0zm2 0zm8 0zm-93 1zm17 0zm2 0zm5 0zm5 0zm3 0zm3 0zm2 0zm8 0zm1 0zm20 0zm1 0zm0 0zm1 0zm2 0zm3 0zm-77 1zm12 0zm4 0zm7 0zm2 0zm5 0zm0 0zm4 0zm0 0zm1 0zm10 0zm5 0zm2 0zm0 0zm13 0zm6 0zm0 0zm17 0zm5 0zm-92 1zm16 0zm1 0zm1 0zm3 0zm7 0zm2 0zm2 0zm2 0zm5 0zm9 0zm4 0zm30 0zm5 0zm-72 1zm10 0zm2 0zm1 0zm4 0zm0 0zm4 0zm3 0zm10 0zm2 0zm2 0zm2 0zm2 0zm4 0zm2 0zm3 0zm14 0zm7 0zm12 0zm-90 1zm7 0zm7 0zm0 0zm5 0zm2 0zm5 0zm2 0zm8 0zm4 0zm6 0zm14 0zm6 0zm17 0zm4 0zm-86 1zm5 0zm2 0zm0 0zm6 0zm5 0zm0 0zm5 0zm8 0zm5 0zm11 0zm-47 1zm1 0zm0 0zm4 0zm8 0zm1 0zm4 0zm5 0zm0 0zm3 0zm8 0zm2 0zm34 0zm24 0zm-94 1zm9 0zm1 0zm1 0zm3 0zm7 0zm1 0zm3 0zm2 0zm4 0zm49 0zm-78 1zm8 0zm10 0zm2 0zm12 0zm5 0zm23 0zm6 0zm1 0zm4 0zm3 0zm2 0zm1 0zm-61 1zm3 0zm5 0zm8 0zm0 0zm5 0zm3 0zm14 0zm4 0zm9 0zm1 0zm9 0zm3 0zm-90 1zm14 0zm4 0zm1 0zm12 0zm8 0zm9 0zm5 0zm4 0zm20 0zm6 0zm2 0zm-95 1zm3 0zm13 0zm2 0zm6 0zm4 0zm6 0zm12 0zm11 0zm5 0zm5 0zm4 0zm8 0zm9 0zm5 0zm3 0zm-70 1zm11 0zm4 0zm5 0zm8 0zm5 0zm8 0zm1 0zm18 0zm2 0zm18 0zm-102 1zm9 0zm7 0zm9 0zm14 0zm1 0zm9 0zm17 0zm15 0zm-62 1zm4 0zm5 0zm6 0zm7 0zm0 0zm18 0zm3 0zm4 0zm7 0zm-53 1zm0 0zm10 0zm6 0zm7 0zm8 0zm1 0zm21 0zm1 0zm0 0zm1 0zm9 0zm10 0zm4 0zm3 0zm-81 1zm2 0zm3 0zm2 0zm2 0zm8 0zm1 0zm1 0zm1 0zm12 0zm4 0zm4 0zm13 0zm15 0zm-71 1zm7 0zm3 0zm2 0zm1 0zm1 0zm2 0zm2 0zm17 0zm4 0zm10 0zm7 0zm3 0zm5 0zm2 0zm-56 1zm4 0zm3 0zm10 0zm5 0zm0 0zm2 0zm26 0zm8 0zm6 0zm12 0zm-78 1zm1 0zm0 0zm7 0zm0 0zm8 0zm0 0zm8 0zm11 0zm3 0zm5 0zm10 0zm4 0zm0 0zm1 0zm2 0zm6 0zm6 0zm4 0zm-76 1zm3 0zm1 0zm1 0zm5 0zm8 0zm2 0zm5 0zm3 0zm7 0zm1 0zm25 0zm-89 1zm14 0zm13 0zm6 0zm7 0zm4 0zm1 0zm5 0zm0 0zm9 0zm10 0zm0 0zm6 0zm8 0zm6 0zm-73 1zm13 0zm4 0zm0 0zm6 0zm3 0zm3 0zm18 0zm5 0zm11 0zm5 0zm3 0zm8 0zm13 0zm-89 1zm28 0zm1 0zm1 0zm11 0zm23 0zm11 0zm2 0zm7 0zm-33 1zm10 0zm1 0zm6 0zm7 0zm-70 1zm9 0zm4 0zm6 0zm4 0zm3 0zm15 0zm8 0zm34 0zm-86 1zm3 0zm15 0zm6 0zm1 0zm3 0zm3 0zm40 0zm-47 1zm9 0zm5 0zm23 0zm19 0zm4 0zm-75 1zm9 0zm2 0zm63 0zm-78 1zm2 0zm17 0zm0 0zm33 0zm-28 1zm18 0zm15 0zm-59 1zm9 0zm5 0zm20 0zm22 0zm-10 1zm-20 1zm25 0zm11 0zm-65 1zm21 0zm2 0zm1 0zm3 0zm32 0zm2 0zm10 0zm-96 1zm67 0zm19 0zm-68 1zm52 0zm8 0zm9 0zm20 0zm-18 1zm25 0zm-10 1zm5 0zm-52 1zm8 0zm16 0zm3 0zm8 0zm9 0zm-29 1zm-37 1zm12 0zm31 0zm4 0zm2 0zm17 1zm-97 1zm31 0zm60 0zm15 0zm5 0zm-30 1zm10 0zm-32 1zm17 0zm12 0zm-77 1zm31 0zm2 0zm-8 1zm48 0zm4 0zm-45 1zm10 0zm30 0zm-14 1zm6 0zm10 0zm4 0zm5 0zm-24 1zm22 0zm-78 2zm27 0zm-39 1zm72 0zm3 0zm4 1zm-37 1zm3 0zm-16 1zm10 0zm27 0zm41 0zm-57 1zm34 0zm14 0zm-61 1zm57 0zm-62 1zm17 0zm26 0zm8 0zm3 0zm-2 1zm16 0zm-57 1zm40 0zm14 0zm6 0zm-72 1zm18 0zm17 0zm2 0zm13 0zm20 0zm-18 1zm22 0zm-98 1zm0 0zm2 0zm35 0zm10 0zm11 0zm12 0zm18 0zm5 0zm-57 1zm8 0zm6 0zm14 0zm7 0zm3 0zm-40 1zm1 0zm-13 1zm47 0zm-63 1zm43 0zm25 0zm1 0zm8 0zm2 0zm-88 1zm6 0zm28 0zm2 0zm32 0zm5 1zm-40 1zm6 0zm37 0zm4 0zm10 0zm-84 1zm15 0zm21 0zm38 0zm-80 1zm26 0zm23 0zm16 0zm11 0zm0 0zm6 0zm14 0zm-111 1zm31 0zm16 0zm17 0zm2 0zm5 0zm7 0zm4 0zm-63 1zm10 0zm26 0zm2 0zm8 0zm14 0zm16 0zm1 0zm17 0zm-70 1zm41 0zm16 0zm-63 1zm48 0zm-59 1zm63 0zm14 0zm-62 1zm20 0zm5 0zm11 0zm5 0zm22 0zm4 0zm9 0zm1 0zm-72 1zm21 0zm27 0zm-54 1zm33 0zm17 0zm0 0zm-68 1zm21 0zm60 0zm-52 1zm5 0zm4 0zm10 0zm0 0zm4 0zm19 0zm14 0zm-76 1zm25 0zm18 0zm5 0zm6 0zm3 0zm15 0zm3 0zm12 0zm-93 1zm5 0zm7 0zm33 0zm28 0zm1 0zm-35 1zm3 0zm9 0zm22 0zm3 0zm13 0zm3 0zm1 0zm-68 1zm46 0zm-30 1zm34 0zm1 0zm2 0zm5 0zm-16 1zm5 0zm10 0zm19 0zm-45 1zm-59 1zm18 0zm5 0zm49 0zm2 0zm-76 1zm5 0zm22 0zm-8 1zm0 0zm28 0zm12 0zm24 0zm-61 1zm34 0zm18 0zm0 0zm6 0zm7 0zm0 0zm11 0zm-42 1zm-46 1zm40 0zm6 0zm2 0zm22 0zm-66 1zm6 0zm60 0zm3 0zm0 0zm3 0zm-76 1zm50 0zm31 0zm-105 1zm79 1zm-68 2zm22 1zm49 0zm-52 1zm41 0zm-21 1zm-1 1zm21 1zm12 0zm-67 1z"/></defs>
<g fill="none" stroke="#ff1010" stroke-linecap="square"><use href="#dp4" stroke-width="2.4" stroke-opacity="0.16" filter="url(#sb)"/><use href="#dp4" stroke-width="1.1" stroke-opacity="0.4"/></g>
<line x1="166.8" y1="269" x2="166.8" y2="326" stroke="#5a5a5a" stroke-width="0.5"/>
<line x1="128" y1="299.3" x2="200" y2="299.3" stroke="#5a5a5a" stroke-width="0.5"/>
<path d="M128 332.5v1.8M135.13 332.5v1M139.4 332.5v1M142.26 332.5v1M144.63 332.5v1M146.53 332.5v1M148.2 332.5v1M149.38 332.5v1M150.57 332.5v1M151.76 332.5v1.8M158.89 332.5v1M163.16 332.5v1M166.02 332.5v1M168.39 332.5v1M170.29 332.5v1M171.96 332.5v1M173.14 332.5v1M174.33 332.5v1M175.52 332.5v1.8M182.65 332.5v1M186.92 332.5v1M189.78 332.5v1M192.15 332.5v1M194.05 332.5v1M195.72 332.5v1M196.9 332.5v1M198.09 332.5v1M128 261h-1M128 263.65h-1M128 266.3h-1M128 268.94h-1M128 271.59h-1M128 274.24h-1M128 276.89h-1M128 279.54h-1M128 282.19h-1M128 284.83h-1M128 287.48h-1M128 290.13h-1M128 292.78h-1M128 295.43h-1M128 298.07h-1M128 300.72h-1M128 303.37h-1M128 306.02h-1M128 308.67h-1M128 311.31h-1M128 313.96h-1M128 316.61h-1M128 319.26h-1M128 321.91h-1M128 324.56h-1M128 327.2h-1M128 329.85h-1M128 332.5h-1" fill="none" stroke="#777" stroke-width="0.35"/>
<text x="128" y="338.5" font-size="3.1" text-anchor="middle" fill="#555">10<tspan font-size="2" dy="-1.2">2</tspan></text>
<text x="151.76" y="338.5" font-size="3.1" text-anchor="middle" fill="#555">10<tspan font-size="2" dy="-1.2">3</tspan></text>
<text x="175.52" y="338.5" font-size="3.1" text-anchor="middle" fill="#555">10<tspan font-size="2" dy="-1.2">4</tspan></text>
<text x="124.8" y="284.6" font-size="3.1" text-anchor="middle" transform="rotate(-90 124.8 284.6)" fill="#555">10<tspan font-size="2" dy="-1.2">5</tspan></text>
<text x="124.8" y="321.06" font-size="3.1" text-anchor="middle" transform="rotate(-90 124.8 321.06)" fill="#555">0</text>
<text x="147.6" y="268.5" font-size="7.3" text-anchor="middle">47.9%</text>
<text x="182.8" y="268.5" font-size="7.3" text-anchor="middle">24.6%</text>
<text x="147.6" y="331" font-size="7.3" text-anchor="middle">11.2%</text>
<text x="182.8" y="331" font-size="7.3" text-anchor="middle">16.2%</text>
<text x="78.5" y="172" font-size="9.8" font-weight="bold" text-anchor="middle" textLength="15" lengthAdjust="spacingAndGlyphs">WT</text>
<text x="164" y="172" font-size="9.8" font-weight="bold" text-anchor="middle" textLength="34" lengthAdjust="spacingAndGlyphs">p35 k/o</text>
<text x="13" y="211" font-size="9.8" font-weight="bold" text-anchor="middle" textLength="28" lengthAdjust="spacingAndGlyphs" transform="rotate(-90 13 211)">Spleen</text>
<text x="13" y="297.5" font-size="9.8" font-weight="bold" text-anchor="middle" textLength="57" lengthAdjust="spacingAndGlyphs" transform="rotate(-90 13 297.5)">Bone Marrow</text>
<text x="25.3" y="254.4" font-size="9.8" font-weight="bold" text-anchor="middle" textLength="20" lengthAdjust="spacingAndGlyphs" transform="rotate(-90 25.3 254.4)">CD27</text>
<text x="120.7" y="355.2" font-size="9.8" font-weight="bold" text-anchor="middle" textLength="27.4" lengthAdjust="spacingAndGlyphs">CD11b</text>
<path d="M30.2 175V343.6H199" fill="none" stroke="#000" stroke-width="1.4"/>
<polygon points="30.2,170 27.1,176 33.3,176"/>
<polygon points="205,343.6 199,340.5 199,346.7"/>
<rect x="242" y="232.84" width="8.9" height="78.56" fill="#383838" stroke="#000" stroke-width="0.9"/>
<rect x="255.1" y="225.32" width="8.8" height="86.08" fill="#d9d9d9" stroke="#000" stroke-width="0.9"/>
<line x1="244.05" y1="219.47" x2="248.85" y2="219.47" stroke="#222" stroke-width="0.7"/>
<line x1="246.45" y1="219.47" x2="246.45" y2="246.21" stroke="#222" stroke-width="0.7"/>
<line x1="244.05" y1="246.21" x2="248.85" y2="246.21" stroke="#222" stroke-width="0.7"/>
<line x1="257.1" y1="211.11" x2="261.9" y2="211.11" stroke="#222" stroke-width="0.7"/>
<line x1="259.5" y1="211.11" x2="259.5" y2="239.53" stroke="#222" stroke-width="0.7"/>
<line x1="257.1" y1="239.53" x2="261.9" y2="239.53" stroke="#222" stroke-width="0.7"/>
<rect x="246.6" y="208.43" width="3.7" height="3.7" fill="#000"/>
<rect x="244.6" y="211.77" width="3.7" height="3.7" fill="#000"/>
<rect x="243.1" y="236.01" width="3.7" height="3.7" fill="#000"/>
<rect x="246.1" y="239.35" width="3.7" height="3.7" fill="#000"/>
<rect x="243.6" y="242.69" width="3.7" height="3.7" fill="#000"/>
<rect x="245.6" y="246.04" width="3.7" height="3.7" fill="#000"/>
<rect x="244.6" y="249.38" width="3.7" height="3.7" fill="#000"/>
<circle cx="259.5" cy="196.91" r="2.1"/>
<circle cx="258" cy="219.47" r="2.1"/>
<circle cx="261" cy="222.81" r="2.1"/>
<circle cx="258.5" cy="227.83" r="2.1"/>
<circle cx="261" cy="231.17" r="2.1"/>
<circle cx="259.5" cy="236.19" r="2.1"/>
<circle cx="258" cy="239.53" r="2.1"/>
<path d="M246.45 205.6V188H259.5V194" fill="none" stroke="#000" stroke-width="0.8"/>
<text x="252.97" y="185" font-size="6.4" text-anchor="middle" fill="#333">ns</text>
<line x1="253" y1="311.4" x2="253" y2="314.4" stroke="#000" stroke-width="1"/>
<text x="255.4" y="319.8" font-size="7.2" font-weight="bold" text-anchor="end" textLength="52.5" lengthAdjust="spacingAndGlyphs" transform="rotate(-45 255.4 319.8)">CD11b+/CD27-</text>
<rect x="277.7" y="276.3" width="8.8" height="35.1" fill="#383838" stroke="#000" stroke-width="0.9"/>
<rect x="290.7" y="281.31" width="8.5" height="30.09" fill="#d9d9d9" stroke="#000" stroke-width="0.9"/>
<line x1="279.7" y1="268.78" x2="284.5" y2="268.78" stroke="#222" stroke-width="0.7"/>
<line x1="282.1" y1="268.78" x2="282.1" y2="283.82" stroke="#222" stroke-width="0.7"/>
<line x1="279.7" y1="283.82" x2="284.5" y2="283.82" stroke="#222" stroke-width="0.7"/>
<line x1="292.55" y1="274.63" x2="297.35" y2="274.63" stroke="#222" stroke-width="0.7"/>
<line x1="294.95" y1="274.63" x2="294.95" y2="288" stroke="#222" stroke-width="0.7"/>
<line x1="292.55" y1="288" x2="297.35" y2="288" stroke="#222" stroke-width="0.7"/>
<rect x="278.75" y="267.76" width="3.7" height="3.7" fill="#000"/>
<rect x="281.75" y="268.6" width="3.7" height="3.7" fill="#000"/>
<rect x="280.25" y="271.11" width="3.7" height="3.7" fill="#000"/>
<rect x="278.75" y="276.12" width="3.7" height="3.7" fill="#000"/>
<rect x="281.75" y="281.14" width="3.7" height="3.7" fill="#000"/>
<rect x="280.25" y="285.31" width="3.7" height="3.7" fill="#000"/>
<rect x="280.25" y="288.66" width="3.7" height="3.7" fill="#000"/>
<circle cx="294.95" cy="273.79" r="2.1"/>
<circle cx="293.45" cy="276.3" r="2.1"/>
<circle cx="296.45" cy="277.97" r="2.1"/>
<circle cx="294.95" cy="281.31" r="2.1"/>
<circle cx="293.45" cy="283.82" r="2.1"/>
<circle cx="296.45" cy="285.49" r="2.1"/>
<circle cx="294.95" cy="292.18" r="2.1"/>
<path d="M282.1 264.4V188H294.95V266" fill="none" stroke="#000" stroke-width="0.8"/>
<text x="288.52" y="185" font-size="6.4" text-anchor="middle" fill="#333">ns</text>
<line x1="288.6" y1="311.4" x2="288.6" y2="314.4" stroke="#000" stroke-width="1"/>
<text x="291" y="319.8" font-size="7.2" font-weight="bold" text-anchor="end" textLength="52.5" lengthAdjust="spacingAndGlyphs" transform="rotate(-45 291 319.8)">CD11b-/CD27+</text>
<rect x="313.6" y="279.64" width="8.9" height="31.76" fill="#383838" stroke="#000" stroke-width="0.9"/>
<rect x="326.7" y="282.15" width="8.8" height="29.25" fill="#d9d9d9" stroke="#000" stroke-width="0.9"/>
<line x1="315.65" y1="270.45" x2="320.45" y2="270.45" stroke="#222" stroke-width="0.7"/>
<line x1="318.05" y1="270.45" x2="318.05" y2="288.84" stroke="#222" stroke-width="0.7"/>
<line x1="315.65" y1="288.84" x2="320.45" y2="288.84" stroke="#222" stroke-width="0.7"/>
<line x1="328.7" y1="275.8" x2="333.5" y2="275.8" stroke="#222" stroke-width="0.7"/>
<line x1="331.1" y1="275.8" x2="331.1" y2="288.5" stroke="#222" stroke-width="0.7"/>
<line x1="328.7" y1="288.5" x2="333.5" y2="288.5" stroke="#222" stroke-width="0.7"/>
<rect x="316.2" y="263.59" width="3.7" height="3.7" fill="#000"/>
<rect x="314.7" y="268.6" width="3.7" height="3.7" fill="#000"/>
<rect x="317.7" y="276.12" width="3.7" height="3.7" fill="#000"/>
<rect x="314.7" y="281.14" width="3.7" height="3.7" fill="#000"/>
<rect x="317.7" y="283.64" width="3.7" height="3.7" fill="#000"/>
<rect x="316.2" y="286.15" width="3.7" height="3.7" fill="#000"/>
<rect x="316.2" y="288.66" width="3.7" height="3.7" fill="#000"/>
<circle cx="331.1" cy="272.96" r="2.1"/>
<circle cx="329.6" cy="275.46" r="2.1"/>
<circle cx="332.6" cy="277.97" r="2.1"/>
<circle cx="331.1" cy="280.48" r="2.1"/>
<circle cx="329.6" cy="284.66" r="2.1"/>
<circle cx="332.6" cy="287.16" r="2.1"/>
<circle cx="331.1" cy="289.67" r="2.1"/>
<path d="M318.05 261V188H331.1V266" fill="none" stroke="#000" stroke-width="0.8"/>
<text x="324.58" y="185" font-size="6.4" text-anchor="middle" fill="#333">ns</text>
<line x1="324.6" y1="311.4" x2="324.6" y2="314.4" stroke="#000" stroke-width="1"/>
<text x="327" y="319.8" font-size="7.2" font-weight="bold" text-anchor="end" textLength="52.5" lengthAdjust="spacingAndGlyphs" transform="rotate(-45 327 319.8)">CD11b+/CD27+</text>
<line x1="237.6" y1="194.4" x2="237.6" y2="311.9" stroke="#000" stroke-width="1"/>
<line x1="234.4" y1="311.4" x2="237.6" y2="311.4" stroke="#000" stroke-width="1"/>
<line x1="234.4" y1="294.69" x2="237.6" y2="294.69" stroke="#000" stroke-width="1"/>
<line x1="234.4" y1="277.97" x2="237.6" y2="277.97" stroke="#000" stroke-width="1"/>
<line x1="234.4" y1="261.26" x2="237.6" y2="261.26" stroke="#000" stroke-width="1"/>
<line x1="234.4" y1="244.54" x2="237.6" y2="244.54" stroke="#000" stroke-width="1"/>
<line x1="234.4" y1="227.83" x2="237.6" y2="227.83" stroke="#000" stroke-width="1"/>
<line x1="234.4" y1="211.11" x2="237.6" y2="211.11" stroke="#000" stroke-width="1"/>
<line x1="234.4" y1="194.4" x2="237.6" y2="194.4" stroke="#000" stroke-width="1"/>
<line x1="235.8" y1="303.04" x2="237.6" y2="303.04" stroke="#000" stroke-width="0.8"/>
<line x1="235.8" y1="286.33" x2="237.6" y2="286.33" stroke="#000" stroke-width="0.8"/>
<line x1="235.8" y1="269.61" x2="237.6" y2="269.61" stroke="#000" stroke-width="0.8"/>
<line x1="235.8" y1="252.9" x2="237.6" y2="252.9" stroke="#000" stroke-width="0.8"/>
<line x1="235.8" y1="236.19" x2="237.6" y2="236.19" stroke="#000" stroke-width="0.8"/>
<line x1="235.8" y1="219.47" x2="237.6" y2="219.47" stroke="#000" stroke-width="0.8"/>
<line x1="235.8" y1="202.76" x2="237.6" y2="202.76" stroke="#000" stroke-width="0.8"/>
<line x1="237.1" y1="311.4" x2="338.6" y2="311.4" stroke="#000" stroke-width="1"/>
<text x="233.1" y="313.9" font-size="6.8" font-weight="bold" text-anchor="end">0</text>
<text x="233.1" y="297.19" font-size="6.8" font-weight="bold" text-anchor="end">10</text>
<text x="233.1" y="280.47" font-size="6.8" font-weight="bold" text-anchor="end">20</text>
<text x="233.1" y="263.76" font-size="6.8" font-weight="bold" text-anchor="end">30</text>
<text x="233.1" y="247.04" font-size="6.8" font-weight="bold" text-anchor="end">40</text>
<text x="233.1" y="230.33" font-size="6.8" font-weight="bold" text-anchor="end">50</text>
<text x="233.1" y="213.61" font-size="6.8" font-weight="bold" text-anchor="end">60</text>
<text x="233.1" y="196.9" font-size="6.8" font-weight="bold" text-anchor="end">70</text>
<text x="221.3" y="250.9" font-size="8.2" font-weight="bold" text-anchor="middle" textLength="116" lengthAdjust="spacingAndGlyphs" transform="rotate(-90 221.3 250.9)">NK-cell subset percentage (%)</text>
<text x="286.4" y="174.8" font-size="9.6" font-weight="bold" text-anchor="middle" textLength="28" lengthAdjust="spacingAndGlyphs">Spleen</text>
<rect x="373.6" y="283.62" width="9" height="25.88" fill="#383838" stroke="#000" stroke-width="0.9"/>
<rect x="386.7" y="284.45" width="9.3" height="25.05" fill="#d9d9d9" stroke="#000" stroke-width="0.9"/>
<line x1="375.7" y1="277.77" x2="380.5" y2="277.77" stroke="#222" stroke-width="0.7"/>
<line x1="378.1" y1="277.77" x2="378.1" y2="289.46" stroke="#222" stroke-width="0.7"/>
<line x1="375.7" y1="289.46" x2="380.5" y2="289.46" stroke="#222" stroke-width="0.7"/>
<line x1="388.95" y1="279.11" x2="393.75" y2="279.11" stroke="#222" stroke-width="0.7"/>
<line x1="391.35" y1="279.11" x2="391.35" y2="289.79" stroke="#222" stroke-width="0.7"/>
<line x1="388.95" y1="289.79" x2="393.75" y2="289.79" stroke="#222" stroke-width="0.7"/>
<rect x="376.25" y="270.07" width="3.7" height="3.7" fill="#000"/>
<rect x="374.75" y="275.08" width="3.7" height="3.7" fill="#000"/>
<rect x="377.75" y="280.93" width="3.7" height="3.7" fill="#000"/>
<rect x="374.75" y="283.43" width="3.7" height="3.7" fill="#000"/>
<rect x="377.75" y="285.94" width="3.7" height="3.7" fill="#000"/>
<rect x="376.25" y="288.44" width="3.7" height="3.7" fill="#000"/>
<rect x="376.25" y="290.95" width="3.7" height="3.7" fill="#000"/>
<circle cx="391.35" cy="272.76" r="2.1"/>
<circle cx="389.85" cy="279.44" r="2.1"/>
<circle cx="392.85" cy="281.94" r="2.1"/>
<circle cx="391.35" cy="284.45" r="2.1"/>
<circle cx="389.85" cy="286.95" r="2.1"/>
<circle cx="392.85" cy="288.62" r="2.1"/>
<circle cx="391.35" cy="291.13" r="2.1"/>
<path d="M378.1 267.7V198.8H391.35V268.5" fill="none" stroke="#000" stroke-width="0.8"/>
<text x="384.73" y="195.8" font-size="6.4" text-anchor="middle" fill="#333">ns</text>
<line x1="384.65" y1="309.5" x2="384.65" y2="312.5" stroke="#000" stroke-width="1"/>
<text x="387.05" y="317.9" font-size="7.2" font-weight="bold" text-anchor="end" textLength="52.5" lengthAdjust="spacingAndGlyphs" transform="rotate(-45 387.05 317.9)">CD11b+/CD27-</text>
<rect x="409.2" y="220.99" width="9" height="88.51" fill="#383838" stroke="#000" stroke-width="0.9"/>
<rect x="422.4" y="223.5" width="9.3" height="86" fill="#d9d9d9" stroke="#000" stroke-width="0.9"/>
<line x1="411.3" y1="210.97" x2="416.1" y2="210.97" stroke="#222" stroke-width="0.7"/>
<line x1="413.7" y1="210.97" x2="413.7" y2="231.01" stroke="#222" stroke-width="0.7"/>
<line x1="411.3" y1="231.01" x2="416.1" y2="231.01" stroke="#222" stroke-width="0.7"/>
<line x1="424.65" y1="210.13" x2="429.45" y2="210.13" stroke="#222" stroke-width="0.7"/>
<line x1="427.05" y1="210.13" x2="427.05" y2="236.85" stroke="#222" stroke-width="0.7"/>
<line x1="424.65" y1="236.85" x2="429.45" y2="236.85" stroke="#222" stroke-width="0.7"/>
<rect x="411.85" y="204.94" width="3.7" height="3.7" fill="#000"/>
<rect x="410.35" y="210.79" width="3.7" height="3.7" fill="#000"/>
<rect x="413.35" y="212.46" width="3.7" height="3.7" fill="#000"/>
<rect x="411.85" y="217.47" width="3.7" height="3.7" fill="#000"/>
<rect x="410.35" y="222.48" width="3.7" height="3.7" fill="#000"/>
<rect x="413.35" y="225.82" width="3.7" height="3.7" fill="#000"/>
<rect x="411.85" y="239.18" width="3.7" height="3.7" fill="#000"/>
<circle cx="427.05" cy="208.46" r="2.1"/>
<circle cx="425.55" cy="213.47" r="2.1"/>
<circle cx="428.55" cy="215.98" r="2.1"/>
<circle cx="427.05" cy="222.66" r="2.1"/>
<circle cx="425.55" cy="226" r="2.1"/>
<circle cx="428.55" cy="229.34" r="2.1"/>
<circle cx="427.05" cy="252.72" r="2.1"/>
<path d="M413.7 203.7V198.8H427.05V203.7" fill="none" stroke="#000" stroke-width="0.8"/>
<text x="420.38" y="195.8" font-size="6.4" text-anchor="middle" fill="#333">ns</text>
<line x1="420.3" y1="309.5" x2="420.3" y2="312.5" stroke="#000" stroke-width="1"/>
<text x="422.7" y="317.9" font-size="7.2" font-weight="bold" text-anchor="end" textLength="52.5" lengthAdjust="spacingAndGlyphs" transform="rotate(-45 422.7 317.9)">CD11b-/CD27+</text>
<rect x="444.9" y="269.42" width="9" height="40.08" fill="#383838" stroke="#000" stroke-width="0.9"/>
<rect x="458" y="272.76" width="9.4" height="36.74" fill="#d9d9d9" stroke="#000" stroke-width="0.9"/>
<line x1="447" y1="262.74" x2="451.8" y2="262.74" stroke="#222" stroke-width="0.7"/>
<line x1="449.4" y1="262.74" x2="449.4" y2="276.1" stroke="#222" stroke-width="0.7"/>
<line x1="447" y1="276.1" x2="451.8" y2="276.1" stroke="#222" stroke-width="0.7"/>
<line x1="460.3" y1="267.75" x2="465.1" y2="267.75" stroke="#222" stroke-width="0.7"/>
<line x1="462.7" y1="267.75" x2="462.7" y2="277.77" stroke="#222" stroke-width="0.7"/>
<line x1="460.3" y1="277.77" x2="465.1" y2="277.77" stroke="#222" stroke-width="0.7"/>
<rect x="447.55" y="256.71" width="3.7" height="3.7" fill="#000"/>
<rect x="446.05" y="263.39" width="3.7" height="3.7" fill="#000"/>
<rect x="449.05" y="265.9" width="3.7" height="3.7" fill="#000"/>
<rect x="447.55" y="268.4" width="3.7" height="3.7" fill="#000"/>
<rect x="446.05" y="272.58" width="3.7" height="3.7" fill="#000"/>
<rect x="449.05" y="275.08" width="3.7" height="3.7" fill="#000"/>
<rect x="447.55" y="278.42" width="3.7" height="3.7" fill="#000"/>
<circle cx="462.7" cy="264.41" r="2.1"/>
<circle cx="461.2" cy="267.75" r="2.1"/>
<circle cx="464.2" cy="270.25" r="2.1"/>
<circle cx="462.7" cy="272.76" r="2.1"/>
<circle cx="461.2" cy="275.26" r="2.1"/>
<circle cx="464.2" cy="277.77" r="2.1"/>
<circle cx="462.7" cy="281.11" r="2.1"/>
<path d="M449.4 253.8V198.8H462.7V258" fill="none" stroke="#000" stroke-width="0.8"/>
<text x="456.05" y="195.8" font-size="6.4" text-anchor="middle" fill="#333">ns</text>
<line x1="455.95" y1="309.5" x2="455.95" y2="312.5" stroke="#000" stroke-width="1"/>
<text x="458.35" y="317.9" font-size="7.2" font-weight="bold" text-anchor="end" textLength="52.5" lengthAdjust="spacingAndGlyphs" transform="rotate(-45 458.35 317.9)">CD11b+/CD27+</text>
<line x1="370.3" y1="192.6" x2="370.3" y2="310" stroke="#000" stroke-width="1"/>
<line x1="367.1" y1="309.5" x2="370.3" y2="309.5" stroke="#000" stroke-width="1"/>
<line x1="367.1" y1="292.8" x2="370.3" y2="292.8" stroke="#000" stroke-width="1"/>
<line x1="367.1" y1="276.1" x2="370.3" y2="276.1" stroke="#000" stroke-width="1"/>
<line x1="367.1" y1="259.4" x2="370.3" y2="259.4" stroke="#000" stroke-width="1"/>
<line x1="367.1" y1="242.7" x2="370.3" y2="242.7" stroke="#000" stroke-width="1"/>
<line x1="367.1" y1="226" x2="370.3" y2="226" stroke="#000" stroke-width="1"/>
<line x1="367.1" y1="209.3" x2="370.3" y2="209.3" stroke="#000" stroke-width="1"/>
<line x1="367.1" y1="192.6" x2="370.3" y2="192.6" stroke="#000" stroke-width="1"/>
<line x1="368.5" y1="301.15" x2="370.3" y2="301.15" stroke="#000" stroke-width="0.8"/>
<line x1="368.5" y1="284.45" x2="370.3" y2="284.45" stroke="#000" stroke-width="0.8"/>
<line x1="368.5" y1="267.75" x2="370.3" y2="267.75" stroke="#000" stroke-width="0.8"/>
<line x1="368.5" y1="251.05" x2="370.3" y2="251.05" stroke="#000" stroke-width="0.8"/>
<line x1="368.5" y1="234.35" x2="370.3" y2="234.35" stroke="#000" stroke-width="0.8"/>
<line x1="368.5" y1="217.65" x2="370.3" y2="217.65" stroke="#000" stroke-width="0.8"/>
<line x1="368.5" y1="200.95" x2="370.3" y2="200.95" stroke="#000" stroke-width="0.8"/>
<line x1="369.8" y1="309.5" x2="472" y2="309.5" stroke="#000" stroke-width="1"/>
<text x="365.8" y="312" font-size="6.8" font-weight="bold" text-anchor="end">0</text>
<text x="365.8" y="295.3" font-size="6.8" font-weight="bold" text-anchor="end">10</text>
<text x="365.8" y="278.6" font-size="6.8" font-weight="bold" text-anchor="end">20</text>
<text x="365.8" y="261.9" font-size="6.8" font-weight="bold" text-anchor="end">30</text>
<text x="365.8" y="245.2" font-size="6.8" font-weight="bold" text-anchor="end">40</text>
<text x="365.8" y="228.5" font-size="6.8" font-weight="bold" text-anchor="end">50</text>
<text x="365.8" y="211.8" font-size="6.8" font-weight="bold" text-anchor="end">60</text>
<text x="365.8" y="195.1" font-size="6.8" font-weight="bold" text-anchor="end">70</text>
<text x="354" y="249.05" font-size="8.2" font-weight="bold" text-anchor="middle" textLength="116" lengthAdjust="spacingAndGlyphs" transform="rotate(-90 354 249.05)">NK-cell subset percentage (%)</text>
<text x="419.5" y="174.8" font-size="9.6" font-weight="bold" text-anchor="middle" textLength="56.5" lengthAdjust="spacingAndGlyphs">Bone Marrow</text>
<rect x="483.6" y="232" width="4" height="4" fill="#000"/>
<text x="494.5" y="236.9" font-size="7.6">WT</text>
<circle cx="485.6" cy="246" r="2.2"/>
<text x="494.5" y="248.8" font-size="7.6">p35 k/o</text>
<defs>
<radialGradient id="gHot"><stop offset="0" stop-color="#ff9000"/><stop offset="0.1" stop-color="#f8e400"/><stop offset="0.3" stop-color="#5ce020"/><stop offset="0.46" stop-color="#00dcc0"/><stop offset="0.6" stop-color="#0098f8"/><stop offset="0.73" stop-color="#1030f4"/><stop offset="0.88" stop-color="#1a1af0"/><stop offset="0.95" stop-color="#2626f2" stop-opacity="0.6"/><stop offset="1" stop-color="#3a3af0" stop-opacity="0"/></radialGradient>
<radialGradient id="gCool"><stop offset="0" stop-color="#50f088"/><stop offset="0.28" stop-color="#20e8b8"/><stop offset="0.47" stop-color="#00c0f4"/><stop offset="0.61" stop-color="#0074fc"/><stop offset="0.74" stop-color="#1028f2"/><stop offset="0.88" stop-color="#1a1af0"/><stop offset="0.95" stop-color="#2626f2" stop-opacity="0.6"/><stop offset="1" stop-color="#3a3af0" stop-opacity="0"/></radialGradient>
<radialGradient id="gHaze"><stop offset="0" stop-color="#3434ee" stop-opacity="0.55"/><stop offset="0.6" stop-color="#4040f0" stop-opacity="0.28"/><stop offset="1" stop-color="#5050f5" stop-opacity="0"/></radialGradient>
</defs>
<rect x="43.7" y="370.5" width="71.8" height="71" fill="none" stroke="#a8a8a8" stroke-width="0.55"/>
<line x1="43.7" y1="370.5" x2="43.7" y2="441.5" stroke="#777" stroke-width="0.55"/>
<line x1="43.7" y1="441.5" x2="115.5" y2="441.5" stroke="#777" stroke-width="0.55"/>
<defs><path id="dp5" transform="scale(.5)" d="m113 743zm2 0zm2 0zm60 0zm-71 1zm5 0zm0 0zm32 0zm21 0zm7 0zm-64 1zm9 0zm4 0zm-24 1zm4 0zm4 0zm7 0zm2 0zm7 0zm0 0zm1 0zm2 0zm5 0zm56 0zm8 0zm3 0zm-77 1zm0 0zm0 0zm3 0zm9 0zm5 0zm51 0zm0 0zm-80 1zm1 0zm1 0zm1 0zm2 0zm6 0zm7 0zm2 0zm5 0zm5 0zm23 0zm15 0zm20 0zm-88 1zm6 0zm3 0zm10 0zm1 0zm3 0zm41 0zm-50 1zm6 0zm1 0zm0 0zm0 0zm3 0zm3 0zm5 0zm62 0zm-95 1zm1 0zm1 0zm4 0zm0 0zm8 0zm1 0zm0 0zm3 0zm0 0zm2 0zm1 0zm1 0zm9 0zm-33 1zm5 0zm3 0zm0 0zm1 0zm0 0zm1 0zm1 0zm8 0zm65 0zm1 0zm-96 1zm12 0zm0 0zm0 0zm3 0zm5 0zm2 0zm0 0zm7 0zm0 0zm9 0zm4 0zm1 0zm61 0zm3 0zm-95 1zm3 0zm1 0zm4 0zm2 0zm3 0zm1 0zm0 0zm5 0zm2 0zm2 0zm1 0zm3 0zm3 0zm0 0zm0 0zm2 0zm5 0zm14 0zm39 0zm-95 1zm7 0zm1 0zm0 0zm3 0zm3 0zm0 0zm12 0zm0 0zm5 0zm2 0zm1 0zm2 0zm21 0zm3 0zm23 0zm28 0zm3 0zm2 0zm10 0zm-123 1zm2 0zm3 0zm4 0zm1 0zm15 0zm2 0zm3 0zm0 0zm1 0zm2 0zm2 0zm21 0zm4 0zm9 0zm5 0zm29 0zm-104 1zm0 0zm3 0zm1 0zm4 0zm22 0zm1 0zm6 0zm23 0zm26 0zm5 0zm-93 1zm2 0zm1 0zm0 0zm0 0zm1 0zm4 0zm1 0zm0 0zm24 0zm1 0zm1 0zm3 0zm6 0zm48 0zm5 0zm3 0zm-102 1zm6 0zm0 0zm2 0zm24 0zm1 0zm2 0zm1 0zm1 0zm1 0zm4 0zm8 0zm18 0zm7 0zm5 0zm21 0zm-106 1zm9 0zm2 0zm30 0zm2 0zm3 0zm1 0zm5 0zm25 0zm4 0zm3 0zm12 0zm12 0zm5 0zm-115 1zm11 0zm1 0zm1 0zm2 0zm28 0zm0 0zm1 0zm1 0zm3 0zm3 0zm2 0zm17 0zm17 0zm2 0zm-77 1zm1 0zm2 0zm27 0zm5 0zm0 0zm3 0zm15 0zm7 0zm-72 1zm7 0zm7 0zm0 0zm33 0zm18 0zm9 0zm3 0zm13 0zm41 0zm-130 1zm1 0zm3 0zm1 0zm2 0zm0 0zm1 0zm3 0zm32 0zm1 0zm4 0zm0 0zm1 0zm2 0zm18 0zm1 0zm-69 1zm5 0zm6 0zm35 0zm2 0zm5 0zm1 0zm83 0zm-92 1zm5 0zm17 0zm11 0zm18 0zm-86 1zm35 0zm5 0zm3 0zm25 0zm11 0zm5 0zm2 0zm31 0zm-128 1zm8 0zm0 0zm40 0zm1 0zm7 0zm15 0zm5 0zm14 0zm20 0zm3 0zm1 0zm-112 1zm3 0zm1 0zm3 0zm36 0zm1 0zm0 0zm0 0zm1 0zm0 0zm27 0zm2 0zm30 0zm12 0zm-113 1zm27 0zm13 0zm3 0zm8 0zm1 0zm23 0zm19 0zm1 0zm0 0zm-98 1zm1 0zm7 0zm36 0zm1 0zm0 0zm8 0zm1 0zm10 0zm6 0zm13 0zm22 0zm-108 1zm1 0zm5 0zm2 0zm0 0zm0 0zm1 0zm37 0zm1 0zm0 0zm3 0zm0 0zm6 0zm39 0zm-92 1zm5 0zm0 0zm1 0zm1 0zm38 0zm0 0zm5 0zm22 0zm4 0zm5 0zm10 0zm1 0zm37 0zm-123 1zm39 0zm0 0zm2 0zm0 0zm3 0zm0 0zm0 0zm53 0zm0 0zm1 0zm-105 1zm2 0zm0 0zm4 0zm2 0zm38 0zm0 0zm2 0zm0 0zm1 0zm2 0zm3 0zm2 0zm18 0zm33 0zm-102 1zm1 0zm68 0zm12 0zm25 0zm11 0zm-120 1zm4 0zm1 0zm39 0zm1 0zm2 0zm1 0zm1 0zm2 0zm12 0zm27 0zm1 0zm25 0zm-116 1zm5 0zm39 0zm2 0zm0 0zm19 0zm9 0zm5 0zm26 0zm2 0zm-107 1zm3 0zm3 0zm0 0zm34 0zm3 0zm1 0zm1 0zm1 0zm4 0zm14 0zm28 0zm2 0zm10 0zm-104 1zm1 0zm3 0zm39 0zm1 0zm39 0zm41 0zm-127 1zm6 0zm1 0zm1 0zm39 0zm0 0zm1 0zm2 0zm23 0zm11 0zm3 0zm6 0zm30 0zm2 0zm-126 1zm1 0zm5 0zm3 0zm40 0zm4 0zm9 0zm3 0zm12 0zm7 0zm8 0zm34 0zm-118 1zm39 0zm1 0zm3 0zm4 0zm34 0zm8 0zm14 0zm-111 1zm2 0zm2 0zm3 0zm2 0zm0 0zm1 0zm16 0zm20 0zm1 0zm2 0zm1 0zm1 0zm8 0zm9 0zm0 0zm5 0zm8 0zm15 0zm3 0zm4 0zm-93 1zm1 0zm0 0zm22 0zm12 0zm1 0zm2 0zm0 0zm0 0zm5 0zm9 0zm0 0zm12 0zm1 0zm8 0zm5 0zm3 0zm15 0zm6 0zm-100 1zm33 0zm2 0zm1 0zm1 0zm5 0zm31 0zm10 0zm-94 1zm2 0zm5 0zm3 0zm0 0zm1 0zm0 0zm37 0zm2 0zm13 0zm16 0zm11 0zm0 0zm8 0zm9 0zm16 0zm-122 1zm2 0zm4 0zm1 0zm0 0zm2 0zm2 0zm23 0zm8 0zm6 0zm5 0zm4 0zm33 0zm14 0zm-101 1zm4 0zm1 0zm3 0zm0 0zm0 0zm10 0zm4 0zm6 0zm10 0zm5 0zm2 0zm1 0zm54 0zm2 0zm7 0zm-105 1zm7 0zm25 0zm8 0zm1 0zm5 0zm6 0zm10 0zm8 0zm0 0zm12 0zm3 0zm7 0zm1 0zm3 0zm-105 1zm6 0zm6 0zm1 0zm2 0zm28 0zm10 0zm1 0zm4 0zm12 0zm1 0zm27 0zm9 0zm15 0zm-117 1zm2 0zm0 0zm4 0zm0 0zm3 0zm0 0zm12 0zm11 0zm5 0zm1 0zm1 0zm5 0zm10 0zm8 0zm9 0zm4 0zm0 0zm1 0zm5 0zm13 0zm1 0zm2 0zm1 0zm4 0zm-99 1zm1 0zm1 0zm1 0zm0 0zm1 0zm5 0zm5 0zm6 0zm7 0zm5 0zm1 0zm0 0zm0 0zm2 0zm4 0zm9 0zm2 0zm27 0zm5 0zm6 0zm0 0zm7 0zm1 0zm3 0zm0 0zm-102 1zm3 0zm2 0zm1 0zm2 0zm0 0zm0 0zm2 0zm10 0zm15 0zm1 0zm1 0zm3 0zm0 0zm2 0zm5 0zm2 0zm8 0zm26 0zm3 0zm4 0zm9 0zm12 0zm-103 1zm6 0zm22 0zm0 0zm1 0zm5 0zm10 0zm1 0zm5 0zm11 0zm0 0zm14 0zm4 0zm0 0zm7 0zm1 0zm0 0zm1 0zm0 0zm0 0zm2 0zm0 0zm1 0zm0 0zm2 0zm2 0zm4 0zm-104 1zm0 0zm9 0zm0 0zm3 0zm1 0zm15 0zm2 0zm1 0zm2 0zm1 0zm2 0zm7 0zm5 0zm2 0zm6 0zm21 0zm0 0zm2 0zm0 0zm6 0zm0 0zm3 0zm7 0zm1 0zm1 0zm-96 1zm3 0zm3 0zm2 0zm0 0zm1 0zm1 0zm2 0zm1 0zm1 0zm0 0zm11 0zm3 0zm0 0zm1 0zm1 0zm0 0zm1 0zm1 0zm3 0zm1 0zm1 0zm10 0zm1 0zm4 0zm2 0zm30 0zm2 0zm1 0zm4 0zm0 0zm1 0zm0 0zm1 0zm11 0zm5 0zm5 0zm-117 1zm9 0zm2 0zm5 0zm0 0zm2 0zm3 0zm1 0zm5 0zm0 0zm0 0zm2 0zm3 0zm0 0zm2 0zm2 0zm1 0zm1 0zm0 0zm10 0zm6 0zm1 0zm7 0zm17 0zm3 0zm7 0zm0 0zm1 0zm1 0zm3 0zm10 0zm2 0zm3 0zm-107 1zm1 0zm1 0zm1 0zm4 0zm2 0zm3 0zm3 0zm1 0zm1 0zm7 0zm1 0zm0 0zm2 0zm7 0zm0 0zm12 0zm2 0zm1 0zm7 0zm13 0zm4 0zm9 0zm1 0zm1 0zm2 0zm4 0zm0 0zm0 0zm0 0zm1 0zm4 0zm2 0zm2 0zm1 0zm5 0zm-107 1zm4 0zm6 0zm1 0zm1 0zm5 0zm0 0zm1 0zm3 0zm4 0zm1 0zm1 0zm1 0zm6 0zm1 0zm6 0zm20 0zm19 0zm11 0zm0 0zm2 0zm0 0zm0 0zm1 0zm1 0zm0 0zm1 0zm6 0zm10 0zm15 0zm-119 1zm2 0zm0 0zm0 0zm1 0zm3 0zm1 0zm5 0zm3 0zm0 0zm2 0zm0 0zm0 0zm2 0zm1 0zm0 0zm0 0zm5 0zm4 0zm14 0zm9 0zm18 0zm3 0zm2 0zm8 0zm1 0zm0 0zm2 0zm1 0zm0 0zm1 0zm0 0zm1 0zm1 0zm0 0zm1 0zm1 0zm5 0zm5 0zm0 0zm4 0zm-103 1zm3 0zm2 0zm0 0zm1 0zm1 0zm0 0zm0 0zm2 0zm0 0zm1 0zm1 0zm1 0zm0 0zm1 0zm0 0zm0 0zm7 0zm1 0zm0 0zm0 0zm0 0zm5 0zm26 0zm11 0zm11 0zm0 0zm0 0zm5 0zm3 0zm2 0zm0 0zm0 0zm3 0zm2 0zm10 0zm-110 1zm8 0zm2 0zm5 0zm5 0zm0 0zm4 0zm10 0zm1 0zm5 0zm30 0zm6 0zm9 0zm1 0zm3 0zm0 0zm2 0zm4 0zm2 0zm2 0zm1 0zm2 0zm0 0zm3 0zm1 0zm-101 1zm2 0zm2 0zm1 0zm0 0zm7 0zm1 0zm0 0zm4 0zm0 0zm0 0zm4 0zm5 0zm6 0zm24 0zm5 0zm14 0zm3 0zm0 0zm2 0zm8 0zm2 0zm6 0zm-84 1zm3 0zm9 0zm1 0zm4 0zm3 0zm15 0zm12 0zm10 0zm2 0zm10 0zm1 0zm1 0zm2 0zm3 0zm0 0zm0 0zm2 0zm5 0zm6 0zm1 0zm-98 1zm0 0zm6 0zm7 0zm3 0zm0 0zm0 0zm1 0zm4 0zm5 0zm1 0zm2 0zm48 0zm4 0zm1 0zm2 0zm0 0zm0 0zm8 0zm-88 1zm2 0zm1 0zm10 0zm3 0zm2 0zm4 0zm3 0zm23 0zm4 0zm2 0zm9 0zm10 0zm2 0zm2 0zm0 0zm0 0zm2 0zm2 0zm1 0zm6 0zm8 0zm-95 1zm1 0zm0 0zm4 0zm11 0zm0 0zm2 0zm4 0zm7 0zm39 0zm2 0zm2 0zm0 0zm5 0zm3 0zm2 0zm3 0zm1 0zm2 0zm2 0zm1 0zm1 0zm10 0zm-103 1zm2 0zm4 0zm1 0zm2 0zm1 0zm8 0zm5 0zm27 0zm7 0zm3 0zm14 0zm5 0zm1 0zm2 0zm5 0zm5 0zm22 0zm-110 1zm3 0zm7 0zm3 0zm1 0zm9 0zm8 0zm11 0zm1 0zm21 0zm5 0zm4 0zm3 0zm5 0zm-87 1zm4 0zm3 0zm4 0zm4 0zm4 0zm5 0zm58 0zm6 0zm3 0zm14 0zm3 0zm-104 1zm13 0zm3 0zm11 0zm10 0zm39 0zm3 0zm0 0zm1 0zm2 0zm-82 1zm0 0zm1 0zm5 0zm2 0zm3 0zm2 0zm2 0zm2 0zm13 0zm36 0zm14 0zm2 0zm5 0zm-70 1zm7 0zm12 0zm36 0zm26 0zm-109 1zm16 0zm0 0zm8 0zm1 0zm27 0zm12 0zm23 0zm3 0zm19 0zm-105 1zm8 0zm5 0zm9 0zm2 0zm1 0zm24 0zm23 0zm3 0zm13 0zm-87 1zm7 0zm15 0zm4 0zm3 0zm15 0zm7 0zm19 0zm-62 1zm14 0zm3 0zm13 0zm4 0zm15 0zm10 0zm10 0zm13 0zm-103 1zm11 0zm10 0zm1 0zm2 0zm2 0zm1 0zm2 0zm2 0zm1 0zm19 0zm2 0zm55 0zm-82 1zm2 0zm1 0zm6 0zm1 0zm10 0zm7 0zm0 0zm16 0zm8 0zm12 0zm12 0zm-89 1zm8 0zm1 0zm2 0zm3 0zm3 0zm1 0zm1 0zm10 0zm73 0zm-97 1zm1 0zm2 0zm11 0zm0 0zm2 0zm10 0zm4 0zm28 0zm36 0zm14 0zm-109 1zm1 0zm1 0zm9 0zm1 0zm4 0zm2 0zm7 0zm4 0zm37 0zm39 0zm8 0zm8 0zm-121 1zm9 0zm7 0zm1 0zm9 0zm27 0zm43 0zm-100 1zm6 0zm2 0zm5 0zm1 0zm1 0zm3 0zm5 0zm5 0zm3 0zm44 0zm37 0zm-112 1zm1 0zm8 0zm2 0zm4 0zm1 0zm3 0zm1 0zm1 0zm1 0zm1 0zm3 0zm2 0zm84 0zm4 0zm-120 1zm5 0zm5 0zm1 0zm1 0zm1 0zm0 0zm3 0zm0 0zm3 0zm1 0zm0 0zm1 0zm0 0zm1 0zm3 0zm1 0zm0 0zm1 0zm1 0zm2 0zm1 0zm6 0zm4 0zm65 0zm5 0zm-114 1zm8 0zm1 0zm4 0zm5 0zm2 0zm0 0zm5 0zm1 0zm0 0zm2 0zm1 0zm2 0zm2 0zm2 0zm5 0zm13 0zm4 0zm2 0zm11 0zm35 0zm5 0zm1 0zm10 0zm-111 1zm0 0zm0 0zm4 0zm0 0zm5 0zm1 0zm4 0zm0 0zm1 0zm1 0zm0 0zm5 0zm3 0zm0 0zm1 0zm0 0zm0 0zm0 0zm0 0zm1 0zm3 0zm1 0zm26 0zm51 0zm0 0zm5 0zm-117 1zm6 0zm2 0zm4 0zm6 0zm0 0zm3 0zm3 0zm1 0zm1 0zm4 0zm1 0zm6 0zm13 0zm7 0zm51 0zm4 0zm5 0zm1 0zm-122 1zm6 0zm0 0zm1 0zm3 0zm2 0zm1 0zm0 0zm2 0zm11 0zm2 0zm1 0zm1 0zm0 0zm0 0zm8 0zm2 0zm3 0zm1 0zm1 0zm1 0zm3 0zm2 0zm7 0zm8 0zm45 0zm9 0zm-119 1zm0 0zm7 0zm5 0zm0 0zm0 0zm17 0zm1 0zm2 0zm2 0zm2 0zm1 0zm1 0zm1 0zm1 0zm1 0zm3 0zm20 0zm12 0zm30 0zm16 0zm0 0zm2 0zm1 0zm-126 1zm1 0zm2 0zm4 0zm2 0zm1 0zm1 0zm9 0zm11 0zm0 0zm0 0zm2 0zm0 0zm5 0zm1 0zm4 0zm2 0zm5 0zm9 0zm22 0zm30 0zm-115 1zm3 0zm1 0zm0 0zm0 0zm3 0zm3 0zm1 0zm1 0zm1 0zm2 0zm7 0zm11 0zm6 0zm0 0zm0 0zm0 0zm11 0zm1 0zm24 0zm9 0zm2 0zm16 0zm1 0zm8 0zm4 0zm9 0zm8 0zm-127 1zm0 0zm2 0zm1 0zm6 0zm15 0zm12 0zm5 0zm2 0zm4 0zm12 0zm35 0zm8 0zm7 0zm14 0zm-123 1zm2 0zm0 0zm5 0zm28 0zm0 0zm5 0zm9 0zm3 0zm17 0zm9 0zm0 0zm26 0zm3 0zm2 0zm4 0zm11 0zm-127 1zm4 0zm3 0zm1 0zm28 0zm3 0zm0 0zm1 0zm4 0zm0 0zm1 0zm7 0zm22 0zm19 0zm17 0zm6 0zm-115 1zm0 0zm1 0zm2 0zm2 0zm1 0zm1 0zm0 0zm1 0zm0 0zm4 0zm29 0zm0 0zm0 0zm16 0zm52 0zm1 0zm3 0zm3 0zm0 0zm2 0zm0 0zm1 0zm-122 1zm3 0zm2 0zm0 0zm1 0zm3 0zm9 0zm1 0zm16 0zm7 0zm5 0zm1 0zm0 0zm1 0zm9 0zm6 0zm20 0zm25 0zm4 0zm1 0zm2 0zm8 0zm-121 1zm2 0zm2 0zm1 0zm36 0zm2 0zm1 0zm2 0zm0 0zm2 0zm7 0zm2 0zm0 0zm22 0zm28 0zm2 0zm6 0zm3 0zm9 0zm3 0zm-137 1zm1 0zm3 0zm9 0zm0 0zm34 0zm0 0zm1 0zm1 0zm0 0zm3 0zm1 0zm0 0zm19 0zm5 0zm0 0zm2 0zm3 0zm26 0zm10 0zm13 0zm3 0zm-128 1zm2 0zm2 0zm1 0zm35 0zm2 0zm1 0zm0 0zm1 0zm0 0zm2 0zm2 0zm1 0zm0 0zm5 0zm2 0zm6 0zm1 0zm0 0zm40 0zm4 0zm1 0zm6 0zm3 0zm4 0zm0 0zm6 0zm-128 1zm2 0zm0 0zm3 0zm0 0zm1 0zm0 0zm37 0zm0 0zm0 0zm0 0zm2 0zm4 0zm5 0zm5 0zm46 0zm6 0zm3 0zm8 0zm0 0zm9 0zm0 0zm-130 1zm1 0zm1 0zm2 0zm2 0zm0 0zm36 0zm3 0zm1 0zm1 0zm1 0zm2 0zm0 0zm3 0zm1 0zm2 0zm0 0zm3 0zm10 0zm4 0zm0 0zm7 0zm34 0zm4 0zm9 0zm3 0zm-128 1zm3 0zm1 0zm17 0zm21 0zm1 0zm2 0zm0 0zm1 0zm4 0zm0 0zm1 0zm4 0zm19 0zm31 0zm1 0zm11 0zm0 0zm4 0zm-121 1zm0 0zm0 0zm1 0zm1 0zm30 0zm14 0zm1 0zm1 0zm6 0zm0 0zm2 0zm1 0zm1 0zm1 0zm1 0zm0 0zm2 0zm1 0zm11 0zm1 0zm33 0zm3 0zm4 0zm3 0zm13 0zm-138 1zm2 0zm1 0zm4 0zm3 0zm33 0zm4 0zm1 0zm1 0zm0 0zm1 0zm0 0zm1 0zm0 0zm1 0zm1 0zm0 0zm3 0zm1 0zm1 0zm2 0zm1 0zm1 0zm11 0zm7 0zm1 0zm3 0zm3 0zm21 0zm12 0zm5 0zm4 0zm0 0zm3 0zm-122 1zm37 0zm1 0zm1 0zm2 0zm2 0zm0 0zm9 0zm3 0zm0 0zm5 0zm3 0zm1 0zm1 0zm2 0zm3 0zm4 0zm5 0zm20 0zm6 0zm1 0zm2 0zm3 0zm0 0zm2 0zm6 0zm9 0zm-137 1zm8 0zm1 0zm0 0zm29 0zm10 0zm5 0zm11 0zm2 0zm5 0zm3 0zm0 0zm1 0zm3 0zm1 0zm14 0zm21 0zm6 0zm4 0zm-119 1zm1 0zm1 0zm1 0zm1 0zm31 0zm7 0zm1 0zm1 0zm7 0zm2 0zm1 0zm0 0zm2 0zm2 0zm9 0zm20 0zm17 0zm1 0zm18 0zm9 0zm-135 1zm1 0zm0 0zm0 0zm2 0zm1 0zm3 0zm25 0zm8 0zm4 0zm1 0zm1 0zm0 0zm0 0zm1 0zm4 0zm1 0zm2 0zm5 0zm0 0zm4 0zm5 0zm0 0zm4 0zm8 0zm1 0zm28 0zm7 0zm2 0zm2 0zm0 0zm1 0zm2 0zm0 0zm1 0zm1 0zm5 0zm0 0zm1 0zm1 0zm-127 1zm3 0zm27 0zm3 0zm14 0zm1 0zm2 0zm5 0zm40 0zm14 0zm0 0zm0 0zm2 0zm0 0zm1 0zm8 0zm0 0zm3 0zm2 0zm6 0zm-135 1zm1 0zm2 0zm41 0zm2 0zm0 0zm2 0zm0 0zm2 0zm1 0zm8 0zm1 0zm1 0zm4 0zm9 0zm5 0zm26 0zm4 0zm10 0zm-121 1zm9 0zm0 0zm1 0zm0 0zm31 0zm6 0zm1 0zm1 0zm0 0zm1 0zm4 0zm5 0zm0 0zm1 0zm6 0zm2 0zm7 0zm7 0zm5 0zm12 0zm1 0zm11 0zm1 0zm10 0zm1 0zm2 0zm8 0zm-135 1zm9 0zm36 0zm1 0zm0 0zm2 0zm1 0zm3 0zm3 0zm0 0zm5 0zm3 0zm0 0zm14 0zm3 0zm34 0zm1 0zm0 0zm5 0zm6 0zm1 0zm5 0zm0 0zm-131 1zm0 0zm4 0zm2 0zm1 0zm3 0zm1 0zm0 0zm34 0zm2 0zm3 0zm5 0zm9 0zm4 0zm18 0zm1 0zm13 0zm3 0zm5 0zm2 0zm3 0zm3 0zm0 0zm2 0zm4 0zm7 0zm2 0zm-127 1zm4 0zm1 0zm3 0zm0 0zm0 0zm0 0zm32 0zm1 0zm1 0zm5 0zm1 0zm1 0zm5 0zm10 0zm45 0zm8 0zm5 0zm2 0zm2 0zm0 0zm-131 1zm7 0zm2 0zm1 0zm4 0zm0 0zm30 0zm2 0zm1 0zm1 0zm3 0zm0 0zm1 0zm2 0zm4 0zm5 0zm6 0zm3 0zm6 0zm4 0zm24 0zm13 0zm4 0zm1 0zm1 0zm3 0zm4 0zm-125 1zm1 0zm1 0zm0 0zm4 0zm1 0zm21 0zm3 0zm3 0zm2 0zm3 0zm3 0zm3 0zm3 0zm5 0zm6 0zm0 0zm3 0zm12 0zm23 0zm4 0zm6 0zm2 0zm3 0zm14 0zm-126 1zm1 0zm3 0zm3 0zm30 0zm0 0zm1 0zm1 0zm1 0zm0 0zm3 0zm1 0zm6 0zm0 0zm1 0zm1 0zm1 0zm1 0zm13 0zm24 0zm23 0zm3 0zm3 0zm4 0zm-117 1zm0 0zm1 0zm22 0zm5 0zm0 0zm4 0zm0 0zm1 0zm0 0zm0 0zm1 0zm1 0zm2 0zm1 0zm7 0zm22 0zm7 0zm32 0zm2 0zm1 0zm9 0zm-126 1zm7 0zm0 0zm3 0zm0 0zm0 0zm0 0zm1 0zm0 0zm0 0zm24 0zm1 0zm1 0zm0 0zm1 0zm2 0zm0 0zm1 0zm3 0zm3 0zm9 0zm39 0zm11 0zm10 0zm0 0zm-108 1zm1 0zm3 0zm22 0zm2 0zm1 0zm0 0zm1 0zm10 0zm22 0zm44 0zm2 0zm0 0zm3 0zm3 0zm10 0zm-132 1zm2 0zm4 0zm2 0zm1 0zm2 0zm1 0zm1 0zm1 0zm0 0zm1 0zm16 0zm2 0zm4 0zm1 0zm1 0zm35 0zm2 0zm38 0zm2 0zm4 0zm0 0zm5 0zm1 0zm5 0zm-126 1zm1 0zm5 0zm0 0zm1 0zm1 0zm1 0zm0 0zm15 0zm1 0zm1 0zm0 0zm1 0zm2 0zm1 0zm4 0zm1 0zm1 0zm21 0zm2 0zm37 0zm7 0zm4 0zm1 0zm2 0zm1 0zm0 0zm5 0zm-113 1zm2 0zm0 0zm1 0zm0 0zm1 0zm0 0zm2 0zm3 0zm0 0zm1 0zm1 0zm0 0zm0 0zm1 0zm0 0zm1 0zm1 0zm1 0zm0 0zm2 0zm5 0zm4 0zm2 0zm73 0zm10 0zm-107 1zm1 0zm1 0zm1 0zm6 0zm0 0zm3 0zm3 0zm0 0zm1 0zm2 0zm2 0zm0 0zm1 0zm2 0zm1 0zm4 0zm7 0zm0 0zm6 0zm46 0zm6 0zm7 0zm3 0zm1 0zm6 0zm3 0zm2 0zm-107 1zm1 0zm1 0zm1 0zm4 0zm0 0zm2 0zm2 0zm6 0zm63 0zm4 0zm0 0zm0 0zm4 0zm1 0zm8 0zm7 0zm2 0zm-121 1zm12 0zm3 0zm4 0zm1 0zm1 0zm0 0zm1 0zm5 0zm2 0zm1 0zm8 0zm0 0zm53 0zm11 0zm1 0zm15 0zm3 0zm2 0zm1 0zm-122 1zm2 0zm2 0zm0 0zm3 0zm3 0zm2 0zm0 0zm4 0zm2 0zm52 0zm7 0zm42 0zm1 0zm-111 1zm1 0zm4 0zm2 0zm2 0zm1 0zm3 0zm3 0zm6 0zm72 0zm3 0zm1 0zm4 0zm1 0zm-112 1zm3 0zm8 0zm3 0zm9 0zm2 0zm1 0zm2 0zm0 0zm2 0zm2 0zm48 0zm22 0zm2 0zm3 0zm5 0zm6 0zm7 0zm-115 1zm2 0zm13 0zm44 0zm28 0zm6 0zm6 0zm-112 1zm6 0zm12 0zm2 0zm0 0zm1 0zm0 0zm4 0zm59 0zm12 0zm1 0zm6 0zm8 0zm2 0zm1 0zm1 0zm-101 1zm4 0zm4 0zm81 0zm8 0zm1 0zm5 0zm0 0zm4 0zm7 0zm-105 1zm67 0zm14 0zm1 0zm3 0zm3 0zm3 0zm-13 1zm9 0zm5 0zm0 0zm4 0zm-99 1zm84 0zm4 0zm4 0zm-8 1zm12 0zm3 0zm-15 1zm2 0zm-95 1zm87 0zm15 0z"/></defs>
<g fill="none" stroke="#2020ff" stroke-linecap="square"><use href="#dp5" stroke-width="2.4" stroke-opacity="0.22" filter="url(#sb)"/><use href="#dp5" stroke-width="1.2" stroke-opacity="0.55"/></g>
<ellipse cx="59.2" cy="388.2" rx="14" ry="17" fill="url(#gHaze)"/>
<ellipse cx="60" cy="424" rx="15" ry="14" fill="url(#gHaze)"/>
<ellipse cx="59.2" cy="388.2" rx="11" ry="13.2" fill="url(#gCool)"/>
<ellipse cx="60" cy="424" rx="11" ry="10.8" fill="url(#gHot)"/>
<polygon points="107.6,406.4 114.4,418 115,440 98,440.6 92.4,435.6 94.4,416.4" fill="none" stroke="#555" stroke-width="0.7"/>
<path d="M43.7 370.5h-1.6M43.7 441.5v1.6M43.7 372.95h-0.9M46.18 441.5v0.9M43.7 375.4h-0.9M48.65 441.5v0.9M43.7 377.84h-0.9M51.13 441.5v0.9M43.7 380.29h-0.9M53.6 441.5v0.9M43.7 382.74h-0.9M56.08 441.5v0.9M43.7 385.19h-0.9M58.56 441.5v0.9M43.7 387.64h-1.6M61.03 441.5v1.6M43.7 390.09h-0.9M63.51 441.5v0.9M43.7 392.53h-0.9M65.98 441.5v0.9M43.7 394.98h-0.9M68.46 441.5v0.9M43.7 397.43h-0.9M70.93 441.5v0.9M43.7 399.88h-0.9M73.41 441.5v0.9M43.7 402.33h-0.9M75.89 441.5v0.9M43.7 404.78h-1.6M78.36 441.5v1.6M43.7 407.22h-0.9M80.84 441.5v0.9M43.7 409.67h-0.9M83.31 441.5v0.9M43.7 412.12h-0.9M85.79 441.5v0.9M43.7 414.57h-0.9M88.27 441.5v0.9M43.7 417.02h-0.9M90.74 441.5v0.9M43.7 419.47h-0.9M93.22 441.5v0.9M43.7 421.91h-1.6M95.69 441.5v1.6M43.7 424.36h-0.9M98.17 441.5v0.9M43.7 426.81h-0.9M100.64 441.5v0.9M43.7 429.26h-0.9M103.12 441.5v0.9M43.7 431.71h-0.9M105.6 441.5v0.9M43.7 434.16h-0.9M108.07 441.5v0.9M43.7 436.6h-0.9M110.55 441.5v0.9M43.7 439.05h-1.6M113.02 441.5v1.6M43.7 441.5h-0.9M115.5 441.5v0.9" fill="none" stroke="#666" stroke-width="0.3"/>
<text x="60" y="447.3" font-size="3.6" text-anchor="middle" fill="#444">0</text>
<text x="79.96" y="447.3" font-size="3.6" text-anchor="middle" fill="#444">10<tspan font-size="2" dy="-1.2">4</tspan></text>
<text x="99.7" y="447.3" font-size="3.6" text-anchor="middle" fill="#444">10<tspan font-size="2" dy="-1.2">5</tspan></text>
<text x="40.3" y="376.89" font-size="3.6" text-anchor="middle" transform="rotate(-90 40.3 376.89)" fill="#444">10<tspan font-size="2" dy="-1.2">5</tspan></text>
<text x="40.3" y="399.61" font-size="3.6" text-anchor="middle" transform="rotate(-90 40.3 399.61)" fill="#444">10<tspan font-size="2" dy="-1.2">4</tspan></text>
<text x="40.3" y="429" font-size="3.6" text-anchor="middle" transform="rotate(-90 40.3 429)" fill="#444">0</text>
<rect x="44.4" y="468.6" width="72.6" height="70.8" fill="none" stroke="#a8a8a8" stroke-width="0.55"/>
<line x1="44.4" y1="468.6" x2="44.4" y2="539.4" stroke="#777" stroke-width="0.55"/>
<line x1="44.4" y1="539.4" x2="117" y2="539.4" stroke="#777" stroke-width="0.55"/>
<defs><path id="dp6" transform="scale(.5)" d="m126 939zm2 0zm-20 1zm22 0zm52 0zm-68 1zm5 0zm15 0zm2 0zm-28 1zm3 0zm0 0zm6 0zm2 0zm10 0zm3 0zm52 0zm-77 1zm6 0zm9 0zm3 0zm7 0zm-25 1zm7 0zm8 0zm1 0zm4 0zm4 0zm24 0zm20 0zm-64 1zm0 0zm3 0zm0 0zm2 0zm1 0zm1 0zm2 0zm2 0zm3 0zm6 0zm37 0zm14 0zm0 0zm4 0zm2 0zm-68 1zm2 0zm1 0zm3 0zm0 0zm1 0zm1 0zm64 0zm6 0zm15 0zm-116 1zm11 0zm4 0zm3 0zm4 0zm2 0zm2 0zm3 0zm0 0zm5 0zm1 0zm0 0zm0 0zm25 0zm19 0zm-73 1zm0 0zm0 0zm3 0zm1 0zm12 0zm2 0zm0 0zm1 0zm1 0zm0 0zm0 0zm8 0zm2 0zm12 0zm9 0zm11 0zm-67 1zm9 0zm2 0zm0 0zm3 0zm2 0zm1 0zm1 0zm3 0zm2 0zm3 0zm4 0zm5 0zm71 0zm-104 1zm0 0zm6 0zm4 0zm4 0zm0 0zm4 0zm1 0zm0 0zm6 0zm1 0zm1 0zm1 0zm0 0zm7 0zm13 0zm14 0zm-66 1zm3 0zm4 0zm1 0zm2 0zm1 0zm2 0zm1 0zm2 0zm2 0zm1 0zm10 0zm7 0zm1 0zm26 0zm26 0zm-90 1zm15 0zm3 0zm0 0zm14 0zm1 0zm9 0zm1 0zm2 0zm4 0zm-51 1zm8 0zm1 0zm1 0zm3 0zm1 0zm2 0zm20 0zm3 0zm0 0zm0 0zm2 0zm72 0zm11 0zm2 0zm-115 1zm6 0zm0 0zm27 0zm3 0zm15 0zm24 0zm0 0zm-80 1zm2 0zm2 0zm1 0zm3 0zm25 0zm2 0zm0 0zm2 0zm5 0zm8 0zm31 0zm7 0zm4 0zm-96 1zm4 0zm8 0zm0 0zm2 0zm23 0zm1 0zm2 0zm1 0zm3 0zm4 0zm5 0zm63 0zm5 0zm-121 1zm0 0zm4 0zm1 0zm4 0zm0 0zm1 0zm1 0zm0 0zm0 0zm1 0zm30 0zm14 0zm7 0zm73 0zm-128 1zm1 0zm30 0zm8 0zm1 0zm1 0zm1 0zm37 0zm-86 1zm8 0zm1 0zm0 0zm1 0zm0 0zm30 0zm0 0zm2 0zm0 0zm1 0zm1 0zm1 0zm0 0zm1 0zm43 0zm2 0zm41 0zm-133 1zm2 0zm6 0zm34 0zm5 0zm33 0zm7 0zm4 0zm11 0zm-96 1zm0 0zm2 0zm30 0zm5 0zm0 0zm1 0zm2 0zm2 0zm7 0zm18 0zm13 0zm2 0zm-90 1zm3 0zm0 0zm2 0zm0 0zm4 0zm34 0zm2 0zm3 0zm0 0zm0 0zm2 0zm2 0zm34 0zm-86 1zm8 0zm1 0zm1 0zm35 0zm2 0zm2 0zm0 0zm3 0zm54 0zm2 0zm-108 1zm6 0zm1 0zm4 0zm34 0zm0 0zm0 0zm16 0zm6 0zm15 0zm-79 1zm7 0zm37 0zm2 0zm1 0zm28 0zm24 0zm-102 1zm1 0zm4 0zm40 0zm2 0zm2 0zm2 0zm22 0zm19 0zm12 0zm21 0zm-125 1zm2 0zm3 0zm1 0zm1 0zm2 0zm13 0zm24 0zm1 0zm6 0zm40 0zm15 0zm28 0zm-135 1zm36 0zm11 0zm2 0zm3 0zm20 0zm16 0zm18 0zm-106 1zm1 0zm1 0zm3 0zm1 0zm41 0zm3 0zm9 0zm10 0zm4 0zm8 0zm1 0zm4 0zm6 0zm9 0zm19 0zm-118 1zm0 0zm6 0zm37 0zm8 0zm2 0zm50 0zm7 0zm-111 1zm4 0zm1 0zm1 0zm1 0zm38 0zm1 0zm1 0zm2 0zm22 0zm20 0zm4 0zm7 0zm24 0zm-122 1zm2 0zm1 0zm0 0zm0 0zm37 0zm1 0zm1 0zm4 0zm10 0zm9 0zm11 0zm9 0zm3 0zm5 0zm18 0zm-69 1zm1 0zm1 0zm0 0zm2 0zm1 0zm0 0zm31 0zm0 0zm9 0zm-88 1zm0 0zm27 0zm20 0zm10 0zm17 0zm25 0zm7 0zm-103 1zm1 0zm18 0zm20 0zm0 0zm0 0zm3 0zm5 0zm15 0zm8 0zm9 0zm2 0zm8 0zm5 0zm-104 1zm7 0zm3 0zm37 0zm1 0zm2 0zm0 0zm4 0zm3 0zm2 0zm1 0zm9 0zm6 0zm0 0zm4 0zm2 0zm3 0zm5 0zm15 0zm9 0zm14 0zm-126 1zm9 0zm0 0zm1 0zm38 0zm0 0zm6 0zm20 0zm12 0zm20 0zm-99 1zm1 0zm3 0zm37 0zm3 0zm7 0zm11 0zm1 0zm7 0zm23 0zm2 0zm4 0zm2 0zm6 0zm-108 1zm2 0zm0 0zm39 0zm0 0zm1 0zm1 0zm14 0zm5 0zm3 0zm19 0zm2 0zm-86 1zm5 0zm38 0zm1 0zm3 0zm4 0zm15 0zm8 0zm5 0zm10 0zm26 0zm-113 1zm0 0zm36 0zm3 0zm1 0zm3 0zm1 0zm26 0zm2 0zm2 0zm2 0zm2 0zm30 0zm16 0zm2 0zm-127 1zm3 0zm29 0zm5 0zm5 0zm1 0zm9 0zm23 0zm5 0zm3 0zm3 0zm3 0zm6 0zm4 0zm13 0zm-117 1zm5 0zm0 0zm3 0zm0 0zm1 0zm0 0zm27 0zm8 0zm10 0zm24 0zm5 0zm0 0zm1 0zm16 0zm1 0zm9 0zm-107 1zm5 0zm2 0zm24 0zm8 0zm3 0zm1 0zm1 0zm1 0zm1 0zm4 0zm8 0zm13 0zm18 0zm7 0zm-96 1zm0 0zm2 0zm0 0zm1 0zm0 0zm3 0zm1 0zm1 0zm13 0zm4 0zm14 0zm2 0zm0 0zm2 0zm0 0zm1 0zm3 0zm1 0zm1 0zm3 0zm10 0zm10 0zm3 0zm10 0zm1 0zm4 0zm3 0zm1 0zm6 0zm18 0zm-117 1zm3 0zm0 0zm1 0zm4 0zm29 0zm1 0zm0 0zm1 0zm2 0zm0 0zm16 0zm3 0zm3 0zm6 0zm16 0zm4 0zm2 0zm-93 1zm5 0zm1 0zm2 0zm0 0zm2 0zm0 0zm18 0zm6 0zm4 0zm0 0zm0 0zm3 0zm4 0zm2 0zm8 0zm28 0zm1 0zm0 0zm1 0zm5 0zm0 0zm4 0zm4 0zm3 0zm7 0zm0 0zm0 0zm-110 1zm2 0zm10 0zm0 0zm2 0zm7 0zm0 0zm18 0zm5 0zm5 0zm6 0zm2 0zm7 0zm1 0zm4 0zm18 0zm0 0zm5 0zm8 0zm-90 1zm16 0zm16 0zm1 0zm8 0zm16 0zm1 0zm2 0zm4 0zm8 0zm7 0zm2 0zm15 0zm9 0zm-102 1zm11 0zm16 0zm0 0zm1 0zm3 0zm3 0zm9 0zm22 0zm11 0zm9 0zm4 0zm2 0zm1 0zm6 0zm-111 1zm8 0zm3 0zm1 0zm0 0zm1 0zm3 0zm0 0zm0 0zm0 0zm0 0zm21 0zm0 0zm1 0zm5 0zm1 0zm0 0zm5 0zm27 0zm6 0zm13 0zm1 0zm14 0zm-103 1zm4 0zm1 0zm0 0zm1 0zm1 0zm1 0zm0 0zm1 0zm0 0zm2 0zm15 0zm1 0zm2 0zm0 0zm1 0zm2 0zm2 0zm0 0zm0 0zm3 0zm4 0zm2 0zm13 0zm33 0zm3 0zm7 0zm4 0zm-101 1zm1 0zm2 0zm0 0zm1 0zm1 0zm2 0zm1 0zm2 0zm13 0zm0 0zm4 0zm2 0zm1 0zm0 0zm4 0zm21 0zm19 0zm7 0zm2 0zm2 0zm3 0zm2 0zm2 0zm4 0zm1 0zm2 0zm-103 1zm7 0zm2 0zm2 0zm2 0zm1 0zm1 0zm0 0zm1 0zm0 0zm1 0zm0 0zm1 0zm3 0zm4 0zm1 0zm1 0zm0 0zm3 0zm0 0zm2 0zm2 0zm0 0zm3 0zm1 0zm37 0zm9 0zm3 0zm6 0zm4 0zm-94 1zm2 0zm2 0zm3 0zm1 0zm0 0zm1 0zm1 0zm0 0zm1 0zm0 0zm2 0zm1 0zm1 0zm2 0zm0 0zm0 0zm0 0zm2 0zm1 0zm16 0zm6 0zm27 0zm5 0zm3 0zm3 0zm1 0zm1 0zm7 0zm2 0zm-97 1zm14 0zm2 0zm1 0zm0 0zm1 0zm1 0zm0 0zm1 0zm0 0zm0 0zm5 0zm1 0zm1 0zm3 0zm0 0zm0 0zm1 0zm0 0zm2 0zm4 0zm40 0zm9 0zm7 0zm2 0zm4 0zm3 0zm1 0zm27 0zm-126 1zm6 0zm7 0zm0 0zm2 0zm2 0zm0 0zm1 0zm2 0zm4 0zm0 0zm1 0zm3 0zm1 0zm6 0zm31 0zm15 0zm6 0zm9 0zm5 0zm3 0zm-93 1zm6 0zm1 0zm7 0zm0 0zm4 0zm6 0zm1 0zm30 0zm14 0zm1 0zm1 0zm1 0zm3 0zm1 0zm1 0zm-84 1zm1 0zm2 0zm5 0zm2 0zm2 0zm3 0zm1 0zm0 0zm1 0zm0 0zm3 0zm2 0zm1 0zm1 0zm4 0zm11 0zm5 0zm2 0zm0 0zm5 0zm8 0zm5 0zm21 0zm1 0zm0 0zm9 0zm2 0zm11 0zm-113 1zm16 0zm2 0zm2 0zm11 0zm0 0zm1 0zm12 0zm0 0zm25 0zm24 0zm9 0zm4 0zm4 0zm-103 1zm2 0zm6 0zm4 0zm1 0zm3 0zm2 0zm2 0zm9 0zm11 0zm9 0zm25 0zm11 0zm11 0zm3 0zm-96 1zm2 0zm7 0zm0 0zm0 0zm2 0zm0 0zm2 0zm6 0zm0 0zm1 0zm7 0zm1 0zm7 0zm14 0zm5 0zm10 0zm2 0zm28 0zm2 0zm1 0zm5 0zm-102 1zm7 0zm1 0zm4 0zm1 0zm3 0zm2 0zm4 0zm0 0zm2 0zm11 0zm6 0zm3 0zm14 0zm4 0zm11 0zm2 0zm2 0zm3 0zm9 0zm13 0zm14 0zm-108 1zm5 0zm6 0zm5 0zm37 0zm9 0zm8 0zm3 0zm0 0zm13 0zm-87 1zm7 0zm1 0zm7 0zm2 0zm10 0zm11 0zm15 0zm2 0zm21 0zm2 0zm16 0zm-103 1zm10 0zm4 0zm22 0zm17 0zm22 0zm24 0zm13 0zm3 0zm-103 1zm1 0zm13 0zm6 0zm23 0zm9 0zm15 0zm2 0zm40 0zm-127 1zm19 0zm8 0zm0 0zm1 0zm2 0zm7 0zm1 0zm13 0zm28 0zm3 0zm3 0zm6 0zm1 0zm9 0zm22 0zm-111 1zm5 0zm3 0zm6 0zm5 0zm3 0zm8 0zm22 0zm15 0zm7 0zm-90 1zm14 0zm7 0zm1 0zm2 0zm2 0zm0 0zm7 0zm2 0zm40 0zm9 0zm4 0zm-67 1zm12 0zm3 0zm1 0zm1 0zm9 0zm48 0zm5 0zm-90 1zm6 0zm2 0zm4 0zm0 0zm6 0zm40 0zm45 0zm-97 1zm1 0zm0 0zm7 0zm21 0zm15 0zm23 0zm1 0zm2 0zm1 0zm1 0zm10 0zm-83 1zm1 0zm0 0zm12 0zm4 0zm14 0zm15 0zm25 0zm28 0zm3 0zm-102 1zm11 0zm0 0zm1 0zm3 0zm2 0zm2 0zm6 0zm5 0zm3 0zm36 0zm-69 1zm3 0zm3 0zm4 0zm5 0zm5 0zm28 0zm4 0zm1 0zm2 0zm11 0zm10 0zm1 0zm10 0zm7 0zm9 0zm-102 1zm1 0zm1 0zm1 0zm3 0zm1 0zm3 0zm9 0zm22 0zm0 0zm5 0zm7 0zm45 0zm-101 1zm4 0zm10 0zm0 0zm55 0zm23 0zm3 0zm5 0zm-110 1zm10 0zm7 0zm5 0zm1 0zm4 0zm2 0zm85 0zm9 0zm-108 1zm6 0zm2 0zm8 0zm0 0zm3 0zm25 0zm13 0zm4 0zm2 0zm6 0zm15 0zm-92 1zm13 0zm1 0zm5 0zm0 0zm1 0zm1 0zm3 0zm5 0zm1 0zm1 0zm0 0zm1 0zm4 0zm25 0zm8 0zm27 0zm9 0zm-109 1zm6 0zm1 0zm3 0zm1 0zm2 0zm0 0zm3 0zm3 0zm2 0zm0 0zm3 0zm26 0zm18 0zm-59 1zm1 0zm2 0zm4 0zm2 0zm0 0zm1 0zm2 0zm1 0zm2 0zm2 0zm2 0zm8 0zm5 0zm14 0zm8 0zm4 0zm25 0zm18 0zm13 0zm-111 1zm1 0zm1 0zm0 0zm7 0zm1 0zm0 0zm3 0zm7 0zm10 0zm6 0zm34 0zm8 0zm5 0zm6 0zm13 0zm1 0zm6 0zm3 0zm-121 1zm1 0zm2 0zm1 0zm2 0zm2 0zm3 0zm3 0zm0 0zm2 0zm1 0zm1 0zm0 0zm1 0zm0 0zm5 0zm0 0zm0 0zm1 0zm0 0zm2 0zm0 0zm3 0zm14 0zm14 0zm43 0zm19 0zm-129 1zm3 0zm1 0zm2 0zm3 0zm8 0zm0 0zm1 0zm5 0zm0 0zm0 0zm3 0zm1 0zm0 0zm5 0zm1 0zm3 0zm1 0zm1 0zm10 0zm2 0zm1 0zm9 0zm17 0zm-60 1zm1 0zm2 0zm1 0zm0 0zm2 0zm2 0zm2 0zm3 0zm0 0zm1 0zm2 0zm1 0zm2 0zm0 0zm2 0zm1 0zm23 0zm5 0zm26 0zm8 0zm8 0zm-92 1zm2 0zm1 0zm0 0zm1 0zm1 0zm8 0zm5 0zm1 0zm1 0zm1 0zm1 0zm4 0zm3 0zm1 0zm8 0zm15 0zm9 0zm9 0zm30 0zm8 0zm-129 1zm7 0zm0 0zm9 0zm3 0zm0 0zm16 0zm1 0zm2 0zm1 0zm1 0zm0 0zm1 0zm2 0zm1 0zm0 0zm4 0zm5 0zm4 0zm2 0zm8 0zm48 0zm13 0zm-131 1zm7 0zm1 0zm3 0zm0 0zm0 0zm2 0zm1 0zm2 0zm2 0zm1 0zm22 0zm0 0zm2 0zm8 0zm1 0zm1 0zm1 0zm1 0zm19 0zm29 0zm10 0zm3 0zm2 0zm4 0zm-111 1zm20 0zm11 0zm1 0zm1 0zm0 0zm1 0zm1 0zm0 0zm2 0zm3 0zm7 0zm1 0zm24 0zm4 0zm10 0zm28 0zm4 0zm4 0zm-127 1zm10 0zm3 0zm1 0zm0 0zm20 0zm4 0zm0 0zm2 0zm0 0zm4 0zm1 0zm2 0zm14 0zm1 0zm5 0zm4 0zm11 0zm0 0zm39 0zm-119 1zm39 0zm0 0zm3 0zm0 0zm7 0zm1 0zm1 0zm5 0zm13 0zm25 0zm15 0zm1 0zm10 0zm-120 1zm9 0zm25 0zm3 0zm1 0zm2 0zm2 0zm3 0zm3 0zm8 0zm2 0zm2 0zm4 0zm2 0zm7 0zm2 0zm0 0zm2 0zm6 0zm10 0zm2 0zm27 0zm0 0zm3 0zm-124 1zm2 0zm2 0zm1 0zm2 0zm11 0zm15 0zm2 0zm3 0zm1 0zm1 0zm11 0zm0 0zm0 0zm3 0zm5 0zm5 0zm5 0zm13 0zm33 0zm1 0zm-116 1zm4 0zm27 0zm3 0zm1 0zm3 0zm3 0zm4 0zm0 0zm1 0zm0 0zm0 0zm1 0zm1 0zm1 0zm1 0zm24 0zm11 0zm33 0zm7 0zm-129 1zm3 0zm5 0zm0 0zm1 0zm1 0zm0 0zm28 0zm0 0zm5 0zm1 0zm4 0zm2 0zm2 0zm4 0zm0 0zm1 0zm2 0zm0 0zm1 0zm4 0zm7 0zm33 0zm8 0zm-109 1zm4 0zm0 0zm0 0zm1 0zm35 0zm1 0zm0 0zm1 0zm5 0zm0 0zm5 0zm1 0zm1 0zm0 0zm2 0zm2 0zm0 0zm2 0zm2 0zm6 0zm3 0zm5 0zm11 0zm4 0zm7 0zm4 0zm19 0zm3 0zm5 0zm5 0zm-134 1zm3 0zm2 0zm18 0zm16 0zm1 0zm1 0zm0 0zm3 0zm1 0zm3 0zm0 0zm7 0zm0 0zm1 0zm2 0zm7 0zm20 0zm20 0zm10 0zm0 0zm2 0zm1 0zm-121 1zm2 0zm1 0zm4 0zm1 0zm26 0zm10 0zm1 0zm0 0zm3 0zm1 0zm1 0zm1 0zm3 0zm4 0zm1 0zm2 0zm0 0zm3 0zm10 0zm0 0zm5 0zm4 0zm1 0zm31 0zm2 0zm4 0zm2 0zm13 0zm-129 1zm1 0zm0 0zm1 0zm5 0zm24 0zm7 0zm2 0zm2 0zm0 0zm1 0zm2 0zm1 0zm3 0zm2 0zm3 0zm1 0zm1 0zm1 0zm2 0zm1 0zm2 0zm14 0zm39 0zm1 0zm-118 1zm1 0zm0 0zm0 0zm0 0zm2 0zm27 0zm9 0zm3 0zm1 0zm0 0zm1 0zm1 0zm1 0zm5 0zm4 0zm6 0zm10 0zm6 0zm17 0zm1 0zm5 0zm2 0zm7 0zm0 0zm7 0zm5 0zm1 0zm-128 1zm2 0zm1 0zm3 0zm2 0zm0 0zm1 0zm23 0zm2 0zm2 0zm4 0zm10 0zm0 0zm0 0zm2 0zm2 0zm2 0zm0 0zm0 0zm0 0zm1 0zm1 0zm0 0zm1 0zm0 0zm1 0zm1 0zm3 0zm4 0zm6 0zm4 0zm33 0zm1 0zm5 0zm1 0zm4 0zm3 0zm3 0zm2 0zm3 0zm-130 1zm5 0zm29 0zm5 0zm0 0zm4 0zm1 0zm3 0zm2 0zm0 0zm2 0zm1 0zm5 0zm1 0zm2 0zm3 0zm4 0zm1 0zm1 0zm2 0zm7 0zm4 0zm3 0zm6 0zm24 0zm5 0zm7 0zm2 0zm2 0zm-135 1zm3 0zm2 0zm1 0zm1 0zm2 0zm23 0zm10 0zm2 0zm3 0zm1 0zm0 0zm2 0zm1 0zm1 0zm1 0zm1 0zm10 0zm1 0zm3 0zm1 0zm0 0zm3 0zm15 0zm3 0zm15 0zm4 0zm3 0zm9 0zm3 0zm1 0zm4 0zm9 0zm-135 1zm2 0zm3 0zm27 0zm11 0zm1 0zm0 0zm2 0zm0 0zm3 0zm0 0zm1 0zm0 0zm1 0zm1 0zm5 0zm1 0zm0 0zm1 0zm7 0zm8 0zm8 0zm0 0zm2 0zm2 0zm14 0zm13 0zm5 0zm3 0zm2 0zm1 0zm3 0zm5 0zm-126 1zm20 0zm7 0zm4 0zm6 0zm4 0zm0 0zm0 0zm1 0zm1 0zm2 0zm2 0zm4 0zm2 0zm2 0zm16 0zm1 0zm9 0zm13 0zm7 0zm6 0zm2 0zm1 0zm0 0zm4 0zm2 0zm2 0zm0 0zm1 0zm3 0zm1 0zm-125 1zm0 0zm0 0zm0 0zm1 0zm1 0zm1 0zm25 0zm12 0zm0 0zm1 0zm0 0zm0 0zm1 0zm1 0zm5 0zm2 0zm1 0zm2 0zm1 0zm3 0zm4 0zm3 0zm6 0zm11 0zm13 0zm8 0zm1 0zm7 0zm3 0zm1 0zm4 0zm1 0zm3 0zm1 0zm-123 1zm3 0zm37 0zm0 0zm0 0zm3 0zm1 0zm1 0zm0 0zm2 0zm0 0zm4 0zm12 0zm32 0zm4 0zm21 0zm7 0zm-125 1zm0 0zm1 0zm36 0zm2 0zm0 0zm1 0zm1 0zm1 0zm1 0zm0 0zm5 0zm11 0zm2 0zm20 0zm7 0zm14 0zm5 0zm2 0zm1 0zm0 0zm3 0zm11 0zm-132 1zm6 0zm1 0zm2 0zm1 0zm35 0zm2 0zm0 0zm2 0zm1 0zm0 0zm2 0zm5 0zm0 0zm10 0zm1 0zm15 0zm5 0zm8 0zm21 0zm1 0zm0 0zm2 0zm5 0zm1 0zm5 0zm-126 1zm42 0zm1 0zm1 0zm0 0zm1 0zm2 0zm2 0zm5 0zm5 0zm7 0zm15 0zm27 0zm1 0zm4 0zm2 0zm2 0zm0 0zm3 0zm0 0zm11 0zm1 0zm-134 1zm4 0zm0 0zm1 0zm3 0zm34 0zm3 0zm4 0zm2 0zm22 0zm9 0zm25 0zm6 0zm10 0zm4 0zm0 0zm1 0zm-124 1zm0 0zm1 0zm0 0zm2 0zm33 0zm1 0zm4 0zm0 0zm1 0zm1 0zm3 0zm3 0zm6 0zm4 0zm14 0zm20 0zm9 0zm5 0zm6 0zm0 0zm6 0zm-128 1zm6 0zm4 0zm0 0zm0 0zm3 0zm23 0zm12 0zm0 0zm0 0zm1 0zm6 0zm1 0zm6 0zm2 0zm3 0zm14 0zm18 0zm10 0zm7 0zm2 0zm3 0zm1 0zm1 0zm8 0zm3 0zm-126 1zm6 0zm25 0zm6 0zm2 0zm4 0zm1 0zm5 0zm5 0zm7 0zm3 0zm44 0zm5 0zm1 0zm0 0zm5 0zm4 0zm-122 1zm2 0zm29 0zm8 0zm2 0zm1 0zm0 0zm17 0zm18 0zm10 0zm9 0zm8 0zm8 0zm3 0zm8 0zm4 0zm2 0zm-129 1zm3 0zm2 0zm1 0zm1 0zm26 0zm0 0zm1 0zm4 0zm0 0zm1 0zm6 0zm12 0zm8 0zm38 0zm1 0zm1 0zm8 0zm2 0zm8 0zm-122 1zm0 0zm4 0zm0 0zm33 0zm0 0zm0 0zm2 0zm3 0zm12 0zm33 0zm6 0zm23 0zm1 0zm2 0zm-119 1zm1 0zm3 0zm26 0zm1 0zm2 0zm3 0zm1 0zm7 0zm13 0zm3 0zm7 0zm25 0zm6 0zm15 0zm1 0zm2 0zm-120 1zm5 0zm1 0zm1 0zm1 0zm1 0zm2 0zm2 0zm1 0zm1 0zm1 0zm21 0zm2 0zm2 0zm9 0zm18 0zm29 0zm2 0zm7 0zm6 0zm1 0zm11 0zm2 0zm1 0zm-119 1zm1 0zm1 0zm3 0zm2 0zm0 0zm1 0zm14 0zm3 0zm0 0zm4 0zm7 0zm47 0zm10 0zm10 0zm2 0zm1 0zm1 0zm8 0zm3 0zm-120 1zm7 0zm1 0zm0 0zm2 0zm0 0zm1 0zm1 0zm1 0zm4 0zm3 0zm0 0zm0 0zm1 0zm1 0zm0 0zm2 0zm1 0zm1 0zm8 0zm3 0zm3 0zm51 0zm1 0zm7 0zm4 0zm2 0zm11 0zm6 0zm1 0zm-130 1zm4 0zm8 0zm2 0zm3 0zm1 0zm0 0zm3 0zm0 0zm0 0zm4 0zm2 0zm2 0zm2 0zm3 0zm2 0zm68 0zm6 0zm1 0zm1 0zm4 0zm1 0zm3 0zm5 0zm3 0zm-121 1zm3 0zm0 0zm3 0zm0 0zm0 0zm0 0zm1 0zm2 0zm0 0zm4 0zm1 0zm0 0zm0 0zm2 0zm2 0zm2 0zm0 0zm1 0zm1 0zm1 0zm0 0zm1 0zm3 0zm0 0zm78 0zm3 0zm3 0zm0 0zm6 0zm1 0zm-126 1zm4 0zm4 0zm1 0zm5 0zm3 0zm0 0zm5 0zm1 0zm4 0zm0 0zm6 0zm11 0zm43 0zm14 0zm6 0zm2 0zm1 0zm0 0zm2 0zm2 0zm1 0zm2 0zm6 0zm2 0zm-122 1zm9 0zm5 0zm1 0zm0 0zm1 0zm1 0zm0 0zm1 0zm7 0zm0 0zm1 0zm7 0zm4 0zm6 0zm2 0zm51 0zm8 0zm17 0zm-115 1zm0 0zm3 0zm2 0zm0 0zm1 0zm0 0zm1 0zm9 0zm5 0zm4 0zm0 0zm3 0zm5 0zm74 0zm0 0zm3 0zm4 0zm0 0zm1 0zm4 0zm2 0zm-117 1zm2 0zm1 0zm2 0zm3 0zm2 0zm0 0zm3 0zm12 0zm0 0zm80 0zm-109 1zm4 0zm12 0zm1 0zm4 0zm2 0zm3 0zm9 0zm43 0zm26 0zm5 0zm0 0zm2 0zm7 0zm0 0zm-106 1zm0 0zm5 0zm2 0zm14 0zm2 0zm0 0zm69 0zm17 0zm-115 1zm9 0zm1 0zm90 0zm-88 1zm6 0zm69 0zm1 0zm10 0zm0 0zm1 0zm9 0zm5 0zm-31 1zm10 0zm6 0zm4 0zm2 0zm7 0zm-86 1zm58 0zm7 0zm22 0zm-33 1zm4 0zm28 0zm-12 1zm0 0z"/></defs>
<g fill="none" stroke="#2020ff" stroke-linecap="square"><use href="#dp6" stroke-width="2.4" stroke-opacity="0.22" filter="url(#sb)"/><use href="#dp6" stroke-width="1.2" stroke-opacity="0.55"/></g>
<ellipse cx="60.2" cy="486.2" rx="14" ry="17" fill="url(#gHaze)"/>
<ellipse cx="61.2" cy="522.6" rx="15" ry="14" fill="url(#gHaze)"/>
<ellipse cx="60.2" cy="486.2" rx="11" ry="13.2" fill="url(#gCool)"/>
<ellipse cx="61.2" cy="522.6" rx="11" ry="10.8" fill="url(#gHot)"/>
<polygon points="109,505.4 115.6,517 116.4,538.8 100,539 93.4,533 95.6,514.4" fill="none" stroke="#555" stroke-width="0.7"/>
<path d="M44.4 468.6h-1.6M44.4 539.4v1.6M44.4 471.04h-0.9M46.9 539.4v0.9M44.4 473.48h-0.9M49.41 539.4v0.9M44.4 475.92h-0.9M51.91 539.4v0.9M44.4 478.37h-0.9M54.41 539.4v0.9M44.4 480.81h-0.9M56.92 539.4v0.9M44.4 483.25h-0.9M59.42 539.4v0.9M44.4 485.69h-1.6M61.92 539.4v1.6M44.4 488.13h-0.9M64.43 539.4v0.9M44.4 490.57h-0.9M66.93 539.4v0.9M44.4 493.01h-0.9M69.43 539.4v0.9M44.4 495.46h-0.9M71.94 539.4v0.9M44.4 497.9h-0.9M74.44 539.4v0.9M44.4 500.34h-0.9M76.94 539.4v0.9M44.4 502.78h-1.6M79.45 539.4v1.6M44.4 505.22h-0.9M81.95 539.4v0.9M44.4 507.66h-0.9M84.46 539.4v0.9M44.4 510.1h-0.9M86.96 539.4v0.9M44.4 512.54h-0.9M89.46 539.4v0.9M44.4 514.99h-0.9M91.97 539.4v0.9M44.4 517.43h-0.9M94.47 539.4v0.9M44.4 519.87h-1.6M96.97 539.4v1.6M44.4 522.31h-0.9M99.48 539.4v0.9M44.4 524.75h-0.9M101.98 539.4v0.9M44.4 527.19h-0.9M104.48 539.4v0.9M44.4 529.63h-0.9M106.99 539.4v0.9M44.4 532.08h-0.9M109.49 539.4v0.9M44.4 534.52h-0.9M111.99 539.4v0.9M44.4 536.96h-1.6M114.5 539.4v1.6M44.4 539.4h-0.9M117 539.4v0.9" fill="none" stroke="#666" stroke-width="0.3"/>
<text x="61.2" y="545.2" font-size="3.6" text-anchor="middle" fill="#444">0</text>
<text x="81.06" y="545.2" font-size="3.6" text-anchor="middle" fill="#444">10<tspan font-size="2" dy="-1.2">4</tspan></text>
<text x="101.03" y="545.2" font-size="3.6" text-anchor="middle" fill="#444">10<tspan font-size="2" dy="-1.2">5</tspan></text>
<text x="41" y="474.97" font-size="3.6" text-anchor="middle" transform="rotate(-90 41 474.97)" fill="#444">10<tspan font-size="2" dy="-1.2">5</tspan></text>
<text x="41" y="497.63" font-size="3.6" text-anchor="middle" transform="rotate(-90 41 497.63)" fill="#444">10<tspan font-size="2" dy="-1.2">4</tspan></text>
<text x="41" y="527.6" font-size="3.6" text-anchor="middle" transform="rotate(-90 41 527.6)" fill="#444">0</text>
<path d="M30.8 369V551H114" fill="none" stroke="#000" stroke-width="1.4"/>
<polygon points="30.8,363.4 27.7,369.6 33.9,369.6"/>
<polygon points="120.2,551 114,547.9 114,554.1"/>
<text x="15.1" y="405.8" font-size="9.8" font-weight="bold" text-anchor="middle" textLength="41.5" lengthAdjust="spacingAndGlyphs" transform="rotate(-90 15.1 405.8)">Wild-type</text>
<text x="15.1" y="503" font-size="9.8" font-weight="bold" text-anchor="middle" textLength="34" lengthAdjust="spacingAndGlyphs" transform="rotate(-90 15.1 503)">p35 k/o</text>
<text x="27.6" y="456" font-size="9.8" font-weight="bold" text-anchor="middle" textLength="16" lengthAdjust="spacingAndGlyphs" transform="rotate(-90 27.6 456)">CD3</text>
<text x="80" y="560.5" font-size="9.8" font-weight="bold" text-anchor="middle" textLength="26" lengthAdjust="spacingAndGlyphs">NK1.1</text>
<rect x="151.6" y="370" width="71.6" height="71.4" fill="none" stroke="#9c9c9c" stroke-width="0.6"/>
<line x1="151.6" y1="370" x2="151.6" y2="441.4" stroke="#444" stroke-width="0.7"/>
<line x1="151.6" y1="441.4" x2="223.2" y2="441.4" stroke="#444" stroke-width="0.7"/>
<path d="M151.9 440.9L152.21 440.9L152.52 440.9L152.83 440.9L153.14 440.9L153.45 440.9L153.76 440.9L154.07 440.9L154.38 440.9L154.69 440.9L155 440.9L155.31 440.9L155.62 440.9L155.93 440.9L156.24 440.9L156.55 440.9L156.86 440.9L157.17 440.9L157.48 440.9L157.79 440.9L158.1 440.9L158.41 440.9L158.72 440.9L159.03 440.9L159.34 440.9L159.65 440.9L159.96 440.9L160.27 440.9L160.58 440.9L160.89 440.9L161.2 440.9L161.51 440.9L161.82 440.9L162.13 440.9L162.44 440.9L162.75 440.9L163.06 440.9L163.37 440.9L163.68 440.9L163.99 440.9L164.3 440.9L164.61 440.9L164.92 440.9L165.23 440.9L165.54 440.9L165.85 440.9L166.16 440.9L166.47 440.9L166.78 440.9L167.09 440.9L167.4 440.9L167.71 440.7L168.02 439.65L168.33 440.7L168.64 440.9L168.95 440.9L169.26 440.9L169.57 440.9L169.88 440.7L170.19 439.65L170.5 440.51L170.81 439.65L171.12 440.7L171.43 440.7L171.74 439.65L172.05 440.51L172.36 439.46L172.67 439.06L172.98 438.01L173.29 438.67L173.6 436.37L173.91 436.37L174.22 438.87L174.53 439.46L174.84 440.31L175.15 438.21L175.46 438.28L175.77 434.27L176.08 437.49L176.39 432.24L176.7 432.31L177.01 431.06L177.32 430.21L177.63 433.95L177.94 434.8L178.25 428.76L178.56 428.37L178.87 430.54L179.18 421.94L179.49 424.96L179.8 423.45L180.11 423.91L180.42 421.81L180.73 421.88L181.04 416.5L181.35 412.36L181.66 412.5L181.97 402.06L182.28 402.79L182.59 403.38L182.9 403.64L183.21 399.38L183.52 408.43L183.83 403.7L184.14 407.18L184.45 398.39L184.76 396.88L185.07 390.98L185.38 399.7L185.69 407.18L186 401.02L186.31 407.18L186.62 402.06L186.93 405.15L187.24 395.05L187.56 401.41L187.87 399.51L188.18 394.32L188.49 394.98L188.8 395.05L189.11 387.3L189.42 392.29L189.73 403.38L190.04 412.76L190.35 403.05L190.66 407.38L190.97 402.06L191.28 407.12L191.59 407.51L191.9 404.75L192.21 407.84L192.52 396.36L192.83 417.48L193.14 420.43L193.45 415.84L193.76 417.35L194.07 416.3L194.38 416.63L194.69 426.86L195 424.83L195.31 430.93L195.62 427.58L195.93 423.98L196.24 435.26L196.55 435.13L196.86 436.24L197.17 430.8L197.48 432.9L197.79 436.83L198.1 436.77L198.41 439.72L198.72 437.16L199.03 440.11L199.34 439.65L199.65 440.31L199.96 438.21L200.27 439.06L200.58 439.46L200.89 440.51L201.2 439.65L201.51 440.7L201.82 440.9L202.13 440.9L202.44 440.9L202.75 440.9L203.06 440.9L203.37 440.9L203.68 440.9L203.99 440.9L204.3 440.9L204.61 440.9L204.92 440.9L205.23 440.9L205.54 440.9L205.85 440.9L206.16 440.9L206.47 440.9L206.78 440.9L207.09 440.9L207.4 440.9L207.71 440.9L208.02 440.9L208.33 440.9L208.64 440.9L208.95 440.9L209.26 440.9L209.57 440.9L209.88 440.9L210.19 440.9L210.5 440.9L210.81 440.9L211.12 440.9L211.43 440.9L211.74 440.9L212.05 440.9L212.36 440.9L212.67 440.9L212.98 440.9L213.29 440.9L213.6 440.9L213.91 440.9L214.22 440.9L214.53 440.9L214.84 440.9L215.15 440.9L215.46 440.9L215.77 440.9L216.08 440.9L216.39 440.9L216.7 440.9L217.01 440.9L217.32 440.9L217.63 440.9L217.94 440.9L218.25 440.9L218.56 440.9L218.87 440.9L219.18 440.9L219.49 440.9L219.8 440.9L220.11 440.9L220.42 440.9L220.73 440.9L221.04 440.9L221.35 440.9L221.66 440.9L221.97 440.9L222.28 440.9L222.59 440.9L222.9 440.9" fill="none" stroke="#ff8a10" stroke-width="0.62" stroke-linejoin="round"/>
<path d="M151.9 440.9L152.21 440.9L152.52 440.9L152.83 440.9L153.14 440.9L153.45 440.9L153.76 440.9L154.07 440.9L154.38 440.9L154.69 440.9L155 440.9L155.31 440.9L155.62 440.9L155.93 440.9L156.24 440.9L156.55 440.9L156.86 440.9L157.17 440.9L157.48 440.9L157.79 440.9L158.1 440.9L158.41 440.9L158.72 440.9L159.03 440.9L159.34 440.9L159.65 440.9L159.96 440.9L160.27 440.9L160.58 440.9L160.89 440.9L161.2 440.9L161.51 440.9L161.82 440.9L162.13 440.9L162.44 440.9L162.75 440.9L163.06 440.9L163.37 440.9L163.68 440.9L163.99 440.9L164.3 440.9L164.61 440.9L164.92 440.9L165.23 440.9L165.54 440.9L165.85 440.9L166.16 440.9L166.47 440.9L166.78 440.9L167.09 440.9L167.4 440.9L167.71 440.9L168.02 440.9L168.33 440.9L168.64 440.9L168.95 440.9L169.26 440.9L169.57 440.9L169.88 440.9L170.19 440.9L170.5 440.9L170.81 440.9L171.12 440.7L171.43 439.65L171.74 440.51L172.05 439.65L172.36 440.7L172.67 440.7L172.98 439.46L173.29 439.46L173.6 440.7L173.91 440.7L174.22 438.87L174.53 435.32L174.84 437.62L175.15 439.92L175.46 437.16L175.77 439.72L176.08 436.77L176.39 437.42L176.7 436.83L177.01 432.44L177.32 435.59L177.63 436.64L177.94 431.85L178.25 431.65L178.56 435L178.87 432.9L179.18 431.85L179.49 434.01L179.8 425.09L180.11 419.91L180.42 426.99L180.73 429.88L181.04 424.3L181.35 417.68L181.66 418.79L181.97 416.89L182.28 415.78L182.59 403.9L182.9 405.21L183.21 411.18L183.52 414.14L183.83 403.77L184.14 396.95L184.45 404.36L184.76 417.09L185.07 407.97L185.38 413.48L185.69 414.66L186 413.28L186.31 404.56L186.62 404.16L186.93 409.02L187.24 401.67L187.56 401.61L187.87 395.7L188.18 402.2L188.49 405.02L188.8 408.69L189.11 412.36L189.42 398L189.73 415.05L190.04 411.31L190.35 413.81L190.66 421.29L190.97 419.78L191.28 417.74L191.59 415.45L191.9 419.51L192.21 429.81L192.52 417.94L192.83 429.94L193.14 429.62L193.45 428.17L193.76 429.22L194.07 429.22L194.38 428.76L194.69 432.57L195 428.11L195.31 433.95L195.62 438.28L195.93 436.57L196.24 437.42L196.55 437.62L196.86 437.82L197.17 438.47L197.48 435.52L197.79 438.67L198.1 439.06L198.41 437.82L198.72 437.62L199.03 437.82L199.34 439.26L199.65 440.7L199.96 440.9L200.27 440.9L200.58 440.7L200.89 439.65L201.2 440.7L201.51 440.9L201.82 440.9L202.13 440.9L202.44 440.9L202.75 440.9L203.06 440.9L203.37 440.9L203.68 440.9L203.99 440.9L204.3 440.9L204.61 440.9L204.92 440.9L205.23 440.9L205.54 440.9L205.85 440.9L206.16 440.9L206.47 440.9L206.78 440.9L207.09 440.9L207.4 440.9L207.71 440.9L208.02 440.9L208.33 440.9L208.64 440.9L208.95 440.9L209.26 440.9L209.57 440.9L209.88 440.9L210.19 440.9L210.5 440.9L210.81 440.9L211.12 440.9L211.43 440.9L211.74 440.9L212.05 440.9L212.36 440.9L212.67 440.9L212.98 440.9L213.29 440.9L213.6 440.9L213.91 440.9L214.22 440.9L214.53 440.9L214.84 440.9L215.15 440.9L215.46 440.9L215.77 440.9L216.08 440.9L216.39 440.9L216.7 440.9L217.01 440.9L217.32 440.9L217.63 440.9L217.94 440.9L218.25 440.9L218.56 440.9L218.87 440.9L219.18 440.9L219.49 440.9L219.8 440.9L220.11 440.9L220.42 440.9L220.73 440.9L221.04 440.9L221.35 440.9L221.66 440.9L221.97 440.9L222.28 440.9L222.59 440.9L222.9 440.9" fill="none" stroke="#1a1a1a" stroke-width="0.42" stroke-linejoin="round"/>
<line x1="144" y1="451.3" x2="224" y2="451.3" stroke="#000" stroke-width="1.5"/>
<polygon points="229,451.3 222.6,448.1 222.6,454.5"/>
<text x="186" y="460.7" font-size="9.8" font-weight="bold" text-anchor="middle" textLength="30" lengthAdjust="spacingAndGlyphs">NKG2D</text>
<text x="152" y="447.2" font-size="3.1" text-anchor="middle" fill="#333">10<tspan font-size="2" dy="-1.2">2</tspan></text>
<text x="169.75" y="447.2" font-size="3.1" text-anchor="middle" fill="#333">10<tspan font-size="2" dy="-1.2">3</tspan></text>
<text x="187.5" y="447.2" font-size="3.1" text-anchor="middle" fill="#333">10<tspan font-size="2" dy="-1.2">4</tspan></text>
<text x="205.25" y="447.2" font-size="3.1" text-anchor="middle" fill="#333">10<tspan font-size="2" dy="-1.2">5</tspan></text>
<text x="223" y="447.2" font-size="3.1" text-anchor="middle" fill="#333">10<tspan font-size="2" dy="-1.2">6</tspan></text>
<text x="148.4" y="441" font-size="3.1" text-anchor="middle" transform="rotate(-90 148.4 441)" fill="#333">0</text>
<text x="148.4" y="416.5" font-size="3.1" text-anchor="middle" transform="rotate(-90 148.4 416.5)" fill="#333">20</text>
<text x="148.4" y="392" font-size="3.1" text-anchor="middle" transform="rotate(-90 148.4 392)" fill="#333">40</text>
<path d="M152 441.4v1.8M169.75 441.4v1.8M187.5 441.4v1.8M205.25 441.4v1.8M223 441.4v1.8M157.32 441.4v1M160.52 441.4v1M162.65 441.4v1M164.43 441.4v1M165.84 441.4v1M167.09 441.4v1M167.97 441.4v1M168.86 441.4v1M175.07 441.4v1M178.27 441.4v1M180.4 441.4v1M182.18 441.4v1M183.59 441.4v1M184.84 441.4v1M185.72 441.4v1M186.61 441.4v1M192.82 441.4v1M196.02 441.4v1M198.15 441.4v1M199.93 441.4v1M201.34 441.4v1M202.59 441.4v1M203.47 441.4v1M204.36 441.4v1M210.57 441.4v1M213.77 441.4v1M215.9 441.4v1M217.68 441.4v1M219.09 441.4v1M220.34 441.4v1M221.22 441.4v1M222.11 441.4v1M151.6 370h-0.9M151.6 372.38h-0.9M151.6 374.76h-0.9M151.6 377.14h-0.9M151.6 379.52h-0.9M151.6 381.9h-0.9M151.6 384.28h-0.9M151.6 386.66h-0.9M151.6 389.04h-0.9M151.6 391.42h-0.9M151.6 393.8h-0.9M151.6 396.18h-0.9M151.6 398.56h-0.9M151.6 400.94h-0.9M151.6 403.32h-0.9M151.6 405.7h-0.9M151.6 408.08h-0.9M151.6 410.46h-0.9M151.6 412.84h-0.9M151.6 415.22h-0.9M151.6 417.6h-0.9M151.6 419.98h-0.9M151.6 422.36h-0.9M151.6 424.74h-0.9M151.6 427.12h-0.9M151.6 429.5h-0.9M151.6 431.88h-0.9M151.6 434.26h-0.9M151.6 436.64h-0.9M151.6 439.02h-0.9M151.6 441.4h-0.9M151.6 441h-1.8M151.6 416.5h-1.8M151.6 392h-1.8" fill="none" stroke="#555" stroke-width="0.35"/>
<text x="142.6" y="406.2" font-size="9.8" font-weight="bold" text-anchor="middle" textLength="24" lengthAdjust="spacingAndGlyphs" transform="rotate(-90 142.6 406.2)">Count</text>
<rect x="244.4" y="369.6" width="71.2" height="71" fill="none" stroke="#9c9c9c" stroke-width="0.6"/>
<line x1="244.4" y1="369.6" x2="244.4" y2="440.6" stroke="#444" stroke-width="0.7"/>
<line x1="244.4" y1="440.6" x2="315.6" y2="440.6" stroke="#444" stroke-width="0.7"/>
<path d="M244.7 440.1L245.01 440.1L245.32 440.1L245.62 440.1L245.93 440.1L246.24 439.67L246.55 437.36L246.86 439.24L247.17 437.15L247.47 438.3L247.78 439.67L248.09 438.73L248.4 439.88L248.71 440.1L249.02 440.1L249.32 439.88L249.63 438.73L249.94 439.67L250.25 438.73L250.56 439.88L250.87 440.1L251.17 440.1L251.48 439.67L251.79 437.36L252.1 439.67L252.41 440.1L252.72 439.88L253.02 438.52L253.33 438.08L253.64 437.15L253.95 439.45L254.26 438.73L254.57 439.67L254.87 438.73L255.18 439.45L255.49 436.93L255.8 436.72L256.11 438.08L256.42 438.52L256.72 439.88L257.03 439.88L257.34 438.52L257.65 437.87L257.96 435.78L258.27 438.8L258.57 435.56L258.88 436.5L259.19 438.3L259.5 439.67L259.81 438.73L260.11 439.45L260.42 437.15L260.73 438.3L261.04 439.88L261.35 439.88L261.66 438.73L261.96 439.67L262.27 438.52L262.58 438.3L262.89 438.52L263.2 439.67L263.51 438.3L263.81 436.72L264.12 436.5L264.43 436.28L264.74 434.92L265.05 435.13L265.36 438.08L265.66 439.88L265.97 440.1L266.28 439.67L266.59 437.36L266.9 439.45L267.21 438.3L267.51 437.15L267.82 439.45L268.13 438.52L268.44 438.52L268.75 439.67L269.06 438.52L269.36 438.3L269.67 438.52L269.98 439.67L270.29 438.52L270.6 438.3L270.91 438.52L271.21 439.88L271.52 439.88L271.83 438.73L272.14 439.45L272.45 437.15L272.76 438.08L273.06 438.52L273.37 439.88L273.68 439.88L273.99 438.3L274.3 437.15L274.6 439.67L274.91 439.88L275.22 438.52L275.53 437.65L275.84 433.55L276.15 431.82L276.45 426.06L276.76 431.39L277.07 428.22L277.38 418.43L277.69 419.8L278 428.29L278.3 420.95L278.61 415.76L278.92 414.11L279.23 400.14L279.54 402.59L279.85 401.08L280.15 410.51L280.46 403.96L280.77 385.96L281.08 387.04L281.39 387.18L281.7 392.87L282 394.31L282.31 382.79L282.62 392.44L282.93 398.99L283.24 395.32L283.55 393.23L283.85 401.22L284.16 404.75L284.47 410.65L284.78 413.75L285.09 418.79L285.4 416.2L285.7 420.73L286.01 427.57L286.32 425.2L286.63 428.65L286.94 429.73L287.24 432.9L287.55 436.5L287.86 439.45L288.17 438.52L288.48 438.3L288.79 438.3L289.09 438.52L289.4 439.67L289.71 438.73L290.02 439.88L290.33 439.88L290.64 438.73L290.94 439.88L291.25 439.88L291.56 438.73L291.87 439.88L292.18 440.1L292.49 440.1L292.79 440.1L293.1 440.1L293.41 440.1L293.72 440.1L294.03 440.1L294.34 440.1L294.64 440.1L294.95 440.1L295.26 440.1L295.57 440.1L295.88 440.1L296.19 440.1L296.49 440.1L296.8 440.1L297.11 440.1L297.42 440.1L297.73 440.1L298.04 440.1L298.34 440.1L298.65 440.1L298.96 440.1L299.27 440.1L299.58 440.1L299.89 440.1L300.19 440.1L300.5 440.1L300.81 440.1L301.12 440.1L301.43 440.1L301.73 440.1L302.04 440.1L302.35 440.1L302.66 440.1L302.97 440.1L303.28 440.1L303.58 440.1L303.89 440.1L304.2 440.1L304.51 440.1L304.82 440.1L305.13 440.1L305.43 440.1L305.74 440.1L306.05 440.1L306.36 440.1L306.67 440.1L306.98 440.1L307.28 440.1L307.59 440.1L307.9 440.1L308.21 440.1L308.52 440.1L308.83 440.1L309.13 440.1L309.44 440.1L309.75 440.1L310.06 440.1L310.37 440.1L310.68 440.1L310.98 440.1L311.29 440.1L311.6 440.1L311.91 440.1L312.22 440.1L312.53 440.1L312.83 440.1L313.14 440.1L313.45 440.1L313.76 440.1L314.07 440.1L314.38 440.1L314.68 440.1L314.99 440.1L315.3 440.1" fill="none" stroke="#ff8a10" stroke-width="0.62" stroke-linejoin="round"/>
<path d="M244.7 440.1L245.01 440.1L245.32 439.88L245.62 438.73L245.93 439.88L246.24 440.1L246.55 440.1L246.86 440.1L247.17 440.1L247.47 440.1L247.78 439.88L248.09 438.73L248.4 439.88L248.71 440.1L249.02 439.88L249.32 438.52L249.63 437.65L249.94 434.2L250.25 437.65L250.56 438.52L250.87 439.88L251.17 440.1L251.48 439.88L251.79 438.3L252.1 436.93L252.41 438.3L252.72 439.88L253.02 440.1L253.33 439.88L253.64 438.73L253.95 439.45L254.26 436.93L254.57 436.5L254.87 436.5L255.18 436.93L255.49 439.45L255.8 438.73L256.11 439.88L256.42 439.88L256.72 438.52L257.03 438.08L257.34 437.15L257.65 439.67L257.96 439.88L258.27 438.73L258.57 439.88L258.88 439.88L259.19 438.3L259.5 436.93L259.81 438.08L260.11 438.3L260.42 438.52L260.73 439.88L261.04 439.88L261.35 438.52L261.66 438.52L261.96 439.24L262.27 436L262.58 439.45L262.89 440.1L263.2 439.67L263.51 437.15L263.81 438.08L264.12 438.52L264.43 439.88L264.74 440.1L265.05 440.1L265.36 440.1L265.66 440.1L265.97 439.88L266.28 438.08L266.59 435.56L266.9 437.65L267.21 437.15L267.51 439.24L267.82 437.36L268.13 439.45L268.44 438.52L268.75 438.3L269.06 437.87L269.36 435.78L269.67 439.45L269.98 440.1L270.29 439.88L270.6 438.73L270.91 439.45L271.21 437.15L271.52 438.3L271.83 439.67L272.14 438.52L272.45 438.52L272.76 439.88L273.06 439.88L273.37 438.73L273.68 439.67L273.99 438.73L274.3 439.24L274.6 436L274.91 439.24L275.22 438.3L275.53 436.93L275.84 437.22L276.15 432.61L276.45 436.07L276.76 437.87L277.07 436.07L277.38 432.4L277.69 435.2L278 432.61L278.3 436.14L278.61 429.23L278.92 430.02L279.23 425.7L279.54 420.3L279.85 416.84L280.15 422.46L280.46 411.66L280.77 411.52L281.08 414.47L281.39 414.04L281.7 408.56L282 407.7L282.31 408.56L282.62 414.04L282.93 415.12L283.24 418L283.55 426.92L283.85 421.02L284.16 409.36L284.47 417.85L284.78 425.7L285.09 431.6L285.4 429.95L285.7 431.75L286.01 436.79L286.32 433.98L286.63 436.28L286.94 438.08L287.24 438.52L287.55 439.88L287.86 439.88L288.17 438.73L288.48 439.88L288.79 440.1L289.09 440.1L289.4 440.1L289.71 440.1L290.02 440.1L290.33 440.1L290.64 439.88L290.94 438.73L291.25 439.88L291.56 440.1L291.87 440.1L292.18 440.1L292.49 440.1L292.79 440.1L293.1 440.1L293.41 440.1L293.72 440.1L294.03 440.1L294.34 440.1L294.64 440.1L294.95 440.1L295.26 440.1L295.57 440.1L295.88 440.1L296.19 440.1L296.49 440.1L296.8 440.1L297.11 440.1L297.42 440.1L297.73 440.1L298.04 439.88L298.34 438.52L298.65 438.52L298.96 439.88L299.27 440.1L299.58 440.1L299.89 440.1L300.19 440.1L300.5 440.1L300.81 440.1L301.12 440.1L301.43 440.1L301.73 440.1L302.04 440.1L302.35 440.1L302.66 440.1L302.97 440.1L303.28 440.1L303.58 440.1L303.89 440.1L304.2 440.1L304.51 440.1L304.82 440.1L305.13 440.1L305.43 440.1L305.74 440.1L306.05 440.1L306.36 440.1L306.67 440.1L306.98 440.1L307.28 440.1L307.59 440.1L307.9 440.1L308.21 440.1L308.52 440.1L308.83 440.1L309.13 440.1L309.44 440.1L309.75 440.1L310.06 440.1L310.37 440.1L310.68 440.1L310.98 440.1L311.29 440.1L311.6 440.1L311.91 440.1L312.22 440.1L312.53 440.1L312.83 440.1L313.14 440.1L313.45 440.1L313.76 440.1L314.07 440.1L314.38 440.1L314.68 440.1L314.99 440.1L315.3 440.1" fill="none" stroke="#1a1a1a" stroke-width="0.42" stroke-linejoin="round"/>
<line x1="236" y1="451.3" x2="316" y2="451.3" stroke="#000" stroke-width="1.5"/>
<polygon points="321,451.3 314.6,448.1 314.6,454.5"/>
<text x="281" y="460.7" font-size="9.8" font-weight="bold" text-anchor="middle" textLength="16" lengthAdjust="spacingAndGlyphs">2B4</text>
<text x="244.8" y="446.4" font-size="3.1" text-anchor="middle" fill="#333">10<tspan font-size="2" dy="-1.2">2</tspan></text>
<text x="262.45" y="446.4" font-size="3.1" text-anchor="middle" fill="#333">10<tspan font-size="2" dy="-1.2">3</tspan></text>
<text x="280.1" y="446.4" font-size="3.1" text-anchor="middle" fill="#333">10<tspan font-size="2" dy="-1.2">4</tspan></text>
<text x="297.75" y="446.4" font-size="3.1" text-anchor="middle" fill="#333">10<tspan font-size="2" dy="-1.2">5</tspan></text>
<text x="315.4" y="446.4" font-size="3.1" text-anchor="middle" fill="#333">10<tspan font-size="2" dy="-1.2">6</tspan></text>
<text x="241.2" y="440" font-size="3.1" text-anchor="middle" transform="rotate(-90 241.2 440)" fill="#333">0</text>
<text x="241.2" y="413" font-size="3.1" text-anchor="middle" transform="rotate(-90 241.2 413)" fill="#333">20</text>
<text x="241.2" y="386.6" font-size="3.1" text-anchor="middle" transform="rotate(-90 241.2 386.6)" fill="#333">40</text>
<path d="M244.8 440.6v1.8M262.45 440.6v1.8M280.1 440.6v1.8M297.75 440.6v1.8M315.4 440.6v1.8M250.09 440.6v1M253.27 440.6v1M255.39 440.6v1M257.15 440.6v1M258.57 440.6v1M259.8 440.6v1M260.69 440.6v1M261.57 440.6v1M267.75 440.6v1M270.92 440.6v1M273.04 440.6v1M274.81 440.6v1M276.22 440.6v1M277.45 440.6v1M278.34 440.6v1M279.22 440.6v1M285.4 440.6v1M288.57 440.6v1M290.69 440.6v1M292.45 440.6v1M293.87 440.6v1M295.1 440.6v1M295.99 440.6v1M296.87 440.6v1M303.05 440.6v1M306.22 440.6v1M308.34 440.6v1M310.1 440.6v1M311.52 440.6v1M312.75 440.6v1M313.63 440.6v1M314.52 440.6v1M244.4 369.6h-0.9M244.4 371.97h-0.9M244.4 374.33h-0.9M244.4 376.7h-0.9M244.4 379.07h-0.9M244.4 381.43h-0.9M244.4 383.8h-0.9M244.4 386.17h-0.9M244.4 388.53h-0.9M244.4 390.9h-0.9M244.4 393.27h-0.9M244.4 395.63h-0.9M244.4 398h-0.9M244.4 400.37h-0.9M244.4 402.73h-0.9M244.4 405.1h-0.9M244.4 407.47h-0.9M244.4 409.83h-0.9M244.4 412.2h-0.9M244.4 414.57h-0.9M244.4 416.93h-0.9M244.4 419.3h-0.9M244.4 421.67h-0.9M244.4 424.03h-0.9M244.4 426.4h-0.9M244.4 428.77h-0.9M244.4 431.13h-0.9M244.4 433.5h-0.9M244.4 435.87h-0.9M244.4 438.23h-0.9M244.4 440.6h-0.9M244.4 440h-1.8M244.4 413h-1.8M244.4 386.6h-1.8" fill="none" stroke="#555" stroke-width="0.35"/>
<rect x="336.4" y="370" width="71.2" height="71.4" fill="none" stroke="#9c9c9c" stroke-width="0.6"/>
<line x1="336.4" y1="370" x2="336.4" y2="441.4" stroke="#444" stroke-width="0.7"/>
<line x1="336.4" y1="441.4" x2="407.6" y2="441.4" stroke="#444" stroke-width="0.7"/>
<path d="M336.7 440.9L337.01 440.9L337.32 440.9L337.62 440.65L337.93 439.32L338.24 440.65L338.55 440.9L338.86 440.65L339.17 439.32L339.47 440.15L339.78 437.49L340.09 438.57L340.4 438.32L340.71 435.16L341.02 434.91L341.32 436.24L341.63 434.91L341.94 434.91L342.25 434.74L342.56 425.18L342.87 430.08L343.17 422.93L343.48 418.52L343.79 417.02L344.1 410.7L344.41 408.7L344.72 402.13L345.02 399.55L345.33 398.55L345.64 392.06L345.95 383.24L346.26 399.72L346.57 398.72L346.87 401.71L347.18 394.39L347.49 383.08L347.8 385.82L348.11 386.99L348.42 399.88L348.72 406.54L349.03 415.27L349.34 407.37L349.65 397.14L349.96 398.05L350.27 393.56L350.57 391.48L350.88 393.81L351.19 400.63L351.5 404.96L351.81 415.52L352.11 412.78L352.42 412.61L352.73 407.54L353.04 413.11L353.35 416.94L353.66 425.59L353.96 429.25L354.27 425.26L354.58 424.84L354.89 418.44L355.2 425.09L355.51 426.84L355.81 429.25L356.12 424.76L356.43 423.18L356.74 426.67L357.05 423.34L357.36 435.82L357.66 432.83L357.97 430.17L358.28 436.32L358.59 429.17L358.9 426.01L359.21 431.66L359.51 422.6L359.82 427.09L360.13 436.32L360.44 431.25L360.75 429.17L361.06 432.58L361.36 435.24L361.67 429.67L361.98 430.5L362.29 431.33L362.6 426.51L362.91 433.66L363.21 436.74L363.52 438.82L363.83 440.15L364.14 436.99L364.45 434.91L364.76 434.16L365.06 431.25L365.37 431.33L365.68 426.01L365.99 430.5L366.3 434.99L366.6 429.42L366.91 429.92L367.22 438.65L367.53 435.41L367.84 433.91L368.15 429.67L368.45 431.83L368.76 431.5L369.07 435.74L369.38 434.91L369.69 434.66L370 435.16L370.3 438.32L370.61 438.32L370.92 433.16L371.23 422.26L371.54 433.5L371.85 429.17L372.15 427.59L372.46 433.41L372.77 432.83L373.08 432.33L373.39 430L373.7 426.76L374 437.07L374.31 438.32L374.62 434.41L374.93 429.17L375.24 429.42L375.55 434.99L375.85 432L376.16 434.99L376.47 429.92L376.78 432.08L377.09 432.08L377.4 430.17L377.7 436.82L378.01 431.33L378.32 419.68L378.63 428.25L378.94 426.84L379.24 426.84L379.55 429.75L379.86 428.67L380.17 428.42L380.48 428.92L380.79 430.83L381.09 424.43L381.4 429.25L381.71 427.92L382.02 422.93L382.33 422.68L382.64 425.84L382.94 425.34L383.25 418.52L383.56 413.86L383.87 412.45L384.18 425.92L384.49 426.09L384.79 422.43L385.1 419.6L385.41 415.11L385.72 418.02L386.03 421.43L386.34 421.35L386.64 426.92L386.95 425.26L387.26 426.92L387.57 421.85L387.88 425.34L388.19 425.26L388.49 428.75L388.8 423.68L389.11 425.84L389.42 425.84L389.73 421.93L390.04 417.94L390.34 425.84L390.65 430.83L390.96 426.51L391.27 431.91L391.58 424.18L391.89 425.09L392.19 422.1L392.5 428.75L392.81 426.59L393.12 424.76L393.43 426.34L393.73 427.42L394.04 423.68L394.35 428.42L394.66 433.41L394.97 431.75L395.28 436.24L395.58 438.32L395.89 437.24L396.2 438.82L396.51 440.65L396.82 440.15L397.13 435.66L397.43 436.24L397.74 434.41L398.05 432.25L398.36 439.65L398.67 440.65L398.98 439.32L399.28 440.15L399.59 437.24L399.9 437.24L400.21 439.9L400.52 437.74L400.83 440.4L401.13 440.9L401.44 440.65L401.75 439.32L402.06 440.65L402.37 440.4L402.68 437.74L402.98 440.4L403.29 440.9L403.6 440.9L403.91 440.9L404.22 440.9L404.53 440.9L404.83 440.65L405.14 439.07L405.45 439.07L405.76 440.65L406.07 440.65L406.38 439.32L406.68 440.65L406.99 440.65L407.3 439.32" fill="none" stroke="#ff8a10" stroke-width="0.62" stroke-linejoin="round"/>
<path d="M336.7 440.9L337.01 440.9L337.32 440.9L337.62 440.9L337.93 440.9L338.24 440.65L338.55 439.32L338.86 440.4L339.17 438.82L339.47 437.24L339.78 438.82L340.09 440.4L340.4 439.32L340.71 440.65L341.02 440.65L341.32 439.07L341.63 437.32L341.94 428.59L342.25 431.33L342.56 427.17L342.87 416.61L343.17 421.18L343.48 423.18L343.79 428L344.1 419.77L344.41 418.6L344.72 410.7L345.02 406.87L345.33 402.79L345.64 417.6L345.95 418.35L346.26 406.29L346.57 400.22L346.87 410.12L347.18 403.54L347.49 416.86L347.8 413.36L348.11 404.46L348.42 403.88L348.72 415.61L349.03 405.12L349.34 412.11L349.65 412.28L349.96 414.61L350.27 420.68L350.57 419.02L350.88 419.43L351.19 407.7L351.5 419.85L351.81 432.91L352.11 432.41L352.42 418.44L352.73 418.52L353.04 424.26L353.35 430L353.66 432.33L353.96 432.08L354.27 429.67L354.58 433.91L354.89 434.16L355.2 431.75L355.51 436.49L355.81 439.65L356.12 436.16L356.43 439.65L356.74 437.74L357.05 440.4L357.36 440.65L357.66 439.32L357.97 440.4L358.28 438.57L358.59 435.16L358.9 434.91L359.21 436.74L359.51 438.57L359.82 438.32L360.13 435.91L360.44 439.4L360.75 435.66L361.06 436.49L361.36 436.49L361.67 435.41L361.98 438.57L362.29 440.15L362.6 436.99L362.91 435.41L363.21 437.82L363.52 435.66L363.83 438.32L364.14 438.32L364.45 435.41L364.76 436.74L365.06 438.07L365.37 435.66L365.68 437.32L365.99 431.75L366.3 433.33L366.6 438.9L366.91 433.83L367.22 434.91L367.53 438.07L367.84 437.49L368.15 439.9L368.45 436.99L368.76 434.91L369.07 435.16L369.38 438.32L369.69 439.07L370 440.65L370.3 440.15L370.61 435.91L370.92 438.32L371.23 439.07L371.54 440.65L371.85 439.9L372.15 434.58L372.46 439.9L372.77 440.4L373.08 436.99L373.39 434.91L373.7 434.91L374 436.99L374.31 439.9L374.62 437.24L374.93 436.74L375.24 436.49L375.55 435.41L375.85 438.07L376.16 437.49L376.47 439.4L376.78 434.33L377.09 437.32L377.4 433.33L377.7 433.08L378.01 436.49L378.32 438.32L378.63 436.99L378.94 436.74L379.24 436.99L379.55 437.32L379.86 429.67L380.17 429.42L380.48 435.74L380.79 435.24L381.09 426.51L381.4 429L381.71 425.76L382.02 429.5L382.33 427.92L382.64 423.43L382.94 424.34L383.25 416.61L383.56 424.26L383.87 432.66L384.18 429.67L384.49 431.08L384.79 424.51L385.1 420.02L385.41 425.92L385.72 419.52L386.03 419.85L386.34 420.85L386.64 426.09L386.95 429.25L387.26 425.26L387.57 425.84L387.88 425.01L388.19 425.92L388.49 415.77L388.8 426.92L389.11 431.33L389.42 427.84L389.73 430.58L390.04 424.68L390.34 429.83L390.65 421.85L390.96 423.68L391.27 433.74L391.58 428.59L391.89 432.16L392.19 424.93L392.5 430.33L392.81 425.76L393.12 428.17L393.43 431.25L393.73 437.57L394.04 436.99L394.35 436.49L394.66 434.66L394.97 433.08L395.28 434.66L395.58 435.99L395.89 433.83L396.2 438.07L396.51 438.82L396.82 438.82L397.13 439.07L397.43 439.9L397.74 435.66L398.05 436.74L398.36 438.82L398.67 440.4L398.98 439.07L399.28 438.82L399.59 439.07L399.9 440.65L400.21 440.9L400.52 440.65L400.83 439.32L401.13 440.65L401.44 440.9L401.75 440.9L402.06 440.9L402.37 440.9L402.68 440.9L402.98 440.9L403.29 440.9L403.6 440.9L403.91 440.9L404.22 440.9L404.53 440.9L404.83 440.9L405.14 440.9L405.45 440.9L405.76 440.9L406.07 440.9L406.38 440.9L406.68 440.9L406.99 440.9L407.3 440.9" fill="none" stroke="#1a1a1a" stroke-width="0.42" stroke-linejoin="round"/>
<line x1="330" y1="451.3" x2="409.4" y2="451.3" stroke="#000" stroke-width="1.5"/>
<polygon points="414.4,451.3 408,448.1 408,454.5"/>
<text x="373.5" y="460.7" font-size="9.8" font-weight="bold" text-anchor="middle" textLength="21" lengthAdjust="spacingAndGlyphs">LY6C</text>
<text x="344.23" y="447.2" font-size="3.1" text-anchor="middle" fill="#333">0</text>
<text x="353.49" y="447.2" font-size="3.1" text-anchor="middle" fill="#333">10<tspan font-size="2" dy="-1.2">3</tspan></text>
<text x="372.71" y="447.2" font-size="3.1" text-anchor="middle" fill="#333">10<tspan font-size="2" dy="-1.2">4</tspan></text>
<text x="393.36" y="447.2" font-size="3.1" text-anchor="middle" fill="#333">10<tspan font-size="2" dy="-1.2">5</tspan></text>
<text x="333.2" y="441" font-size="3.1" text-anchor="middle" transform="rotate(-90 333.2 441)" fill="#333">0</text>
<text x="333.2" y="410" font-size="3.1" text-anchor="middle" transform="rotate(-90 333.2 410)" fill="#333">20</text>
<text x="333.2" y="379" font-size="3.1" text-anchor="middle" transform="rotate(-90 333.2 379)" fill="#333">40</text>
<path d="M344.23 441.4v1.8M353.49 441.4v1.8M372.71 441.4v1.8M393.36 441.4v1.8M347.01 441.4v1M348.67 441.4v1M349.79 441.4v1M350.71 441.4v1M351.45 441.4v1M352.1 441.4v1M352.56 441.4v1M353.03 441.4v1M359.26 441.4v1M362.72 441.4v1M365.02 441.4v1M366.94 441.4v1M368.48 441.4v1M369.83 441.4v1M370.79 441.4v1M371.75 441.4v1M378.91 441.4v1M382.62 441.4v1M385.1 441.4v1M387.17 441.4v1M388.82 441.4v1M390.26 441.4v1M391.3 441.4v1M392.33 441.4v1M336.4 370h-0.9M336.4 372.38h-0.9M336.4 374.76h-0.9M336.4 377.14h-0.9M336.4 379.52h-0.9M336.4 381.9h-0.9M336.4 384.28h-0.9M336.4 386.66h-0.9M336.4 389.04h-0.9M336.4 391.42h-0.9M336.4 393.8h-0.9M336.4 396.18h-0.9M336.4 398.56h-0.9M336.4 400.94h-0.9M336.4 403.32h-0.9M336.4 405.7h-0.9M336.4 408.08h-0.9M336.4 410.46h-0.9M336.4 412.84h-0.9M336.4 415.22h-0.9M336.4 417.6h-0.9M336.4 419.98h-0.9M336.4 422.36h-0.9M336.4 424.74h-0.9M336.4 427.12h-0.9M336.4 429.5h-0.9M336.4 431.88h-0.9M336.4 434.26h-0.9M336.4 436.64h-0.9M336.4 439.02h-0.9M336.4 441.4h-0.9M336.4 441h-1.8M336.4 410h-1.8M336.4 379h-1.8" fill="none" stroke="#555" stroke-width="0.35"/>
<rect x="151.6" y="468.6" width="71.6" height="70.8" fill="none" stroke="#9c9c9c" stroke-width="0.6"/>
<line x1="151.6" y1="468.6" x2="151.6" y2="539.4" stroke="#444" stroke-width="0.7"/>
<line x1="151.6" y1="539.4" x2="223.2" y2="539.4" stroke="#444" stroke-width="0.7"/>
<path d="M151.9 538.9L152.21 538.9L152.52 538.9L152.83 538.9L153.14 538.9L153.45 538.9L153.76 538.9L154.07 538.9L154.38 538.9L154.69 538.9L155 538.9L155.31 538.9L155.62 538.9L155.93 538.9L156.24 538.9L156.55 538.9L156.86 538.9L157.17 538.9L157.48 538.9L157.79 538.9L158.1 538.9L158.41 538.9L158.72 538.9L159.03 538.9L159.34 538.9L159.65 538.9L159.96 538.9L160.27 538.9L160.58 538.9L160.89 538.9L161.2 538.9L161.51 538.9L161.82 538.9L162.13 538.9L162.44 538.9L162.75 538.9L163.06 538.9L163.37 538.9L163.68 538.9L163.99 538.9L164.3 538.9L164.61 538.9L164.92 538.9L165.23 538.9L165.54 538.9L165.85 538.9L166.16 538.9L166.47 538.9L166.78 538.9L167.09 538.9L167.4 538.9L167.71 538.9L168.02 538.9L168.33 538.43L168.64 535.95L168.95 538.43L169.26 538.9L169.57 538.9L169.88 538.9L170.19 538.9L170.5 538.9L170.81 538.9L171.12 538.74L171.43 537.92L171.74 538.59L172.05 537.92L172.36 538.74L172.67 538.9L172.98 538.43L173.29 535.49L173.6 535.18L173.91 536.16L174.22 536L174.53 534.19L174.84 535.18L175.15 536.83L175.46 533.57L175.77 529.79L176.08 533.11L176.39 533.73L176.7 533.42L177.01 531.45L177.32 531.14L177.63 531.3L177.94 531.97L178.25 531.09L178.56 535.43L178.87 527.88L179.18 523.17L179.49 525.5L179.8 526.59L180.11 530.52L180.42 530.67L180.73 528.04L181.04 528.76L181.35 524.62L181.66 526.79L181.97 526.95L182.28 525.29L182.59 527.26L182.9 529.38L183.21 528.55L183.52 527.1L183.83 524.98L184.14 525.14L184.45 528.24L184.76 528.76L185.07 524.26L185.38 531.04L185.69 531.14L186 530.62L186.31 534.24L186.62 533.73L186.93 532.74L187.24 534.04L187.56 536.21L187.87 531.55L188.18 535.69L188.49 537.3L188.8 536.62L189.11 537.14L189.42 535.18L189.73 534.35L190.04 536.37L190.35 532.54L190.66 535.38L190.97 534.5L191.28 536.21L191.59 531.71L191.9 536.37L192.21 535.33L192.52 535.33L192.83 536.99L193.14 535.8L193.45 538.12L193.76 536.62L194.07 535.69L194.38 532.38L194.69 535.38L195 534.35L195.31 535.69L195.62 534.35L195.93 536L196.24 536L196.55 533.88L196.86 532.59L197.17 532.12L197.48 530.47L197.79 531.04L198.1 524.31L198.41 523.33L198.72 529.59L199.03 526.64L199.34 518.52L199.65 512.98L199.96 515.78L200.27 518.62L200.58 509.57L200.89 509.93L201.2 513.65L201.51 500.15L201.82 499.17L202.13 495.39L202.44 493.63L202.75 493.12L203.06 496.12L203.37 492.29L203.68 494.31L203.99 492.7L204.3 485.82L204.61 485.25L204.92 481.84L205.23 480.7L205.54 499.01L205.85 493.63L206.16 505.53L206.47 505.01L206.78 495.91L207.09 506.31L207.4 509.67L207.71 507.96L208.02 514.48L208.33 523.38L208.64 531.19L208.95 530.98L209.26 529.02L209.57 529.69L209.88 530.16L210.19 532.28L210.5 533.88L210.81 535.85L211.12 535.49L211.43 537.14L211.74 536.62L212.05 537.45L212.36 537.76L212.67 538.74L212.98 538.9L213.29 538.9L213.6 538.9L213.91 538.9L214.22 538.9L214.53 538.9L214.84 538.9L215.15 538.9L215.46 538.9L215.77 538.9L216.08 538.9L216.39 538.9L216.7 538.9L217.01 538.9L217.32 538.9L217.63 538.9L217.94 538.9L218.25 538.9L218.56 538.9L218.87 538.9L219.18 538.9L219.49 538.9L219.8 538.9L220.11 538.9L220.42 538.9L220.73 538.9L221.04 538.9L221.35 538.9L221.66 538.9L221.97 538.9L222.28 538.9L222.59 538.9L222.9 538.9" fill="none" stroke="#ff8a10" stroke-width="0.62" stroke-linejoin="round"/>
<path d="M151.9 538.9L152.21 538.9L152.52 538.9L152.83 538.9L153.14 538.9L153.45 538.9L153.76 538.9L154.07 538.9L154.38 538.9L154.69 538.9L155 538.9L155.31 538.9L155.62 538.9L155.93 538.9L156.24 538.9L156.55 538.9L156.86 538.9L157.17 538.9L157.48 538.9L157.79 538.9L158.1 538.9L158.41 538.9L158.72 538.9L159.03 538.9L159.34 538.9L159.65 538.9L159.96 538.9L160.27 538.9L160.58 538.9L160.89 538.9L161.2 538.9L161.51 538.9L161.82 538.9L162.13 538.9L162.44 538.9L162.75 538.9L163.06 538.9L163.37 538.9L163.68 538.9L163.99 538.9L164.3 538.9L164.61 538.9L164.92 538.9L165.23 538.9L165.54 538.9L165.85 538.9L166.16 538.9L166.47 538.9L166.78 538.9L167.09 538.9L167.4 538.9L167.71 538.9L168.02 538.9L168.33 538.9L168.64 538.9L168.95 538.9L169.26 538.9L169.57 538.9L169.88 538.9L170.19 538.9L170.5 538.9L170.81 538.43L171.12 535.95L171.43 538.43L171.74 538.74L172.05 537.76L172.36 537.45L172.67 536.62L172.98 537.3L173.29 536.47L173.6 536.47L173.91 537.14L174.22 535.64L174.53 537.14L174.84 536.31L175.15 534.4L175.46 529.95L175.77 533.26L176.08 535.02L176.39 535.85L176.7 534.04L177.01 533.57L177.32 531.66L177.63 526.54L177.94 531.35L178.25 531.76L178.56 534.4L178.87 533.57L179.18 531.45L179.49 531.3L179.8 531.5L180.11 527.21L180.42 529.54L180.73 531.3L181.04 533.11L181.35 531.3L181.66 530.16L181.97 529.9L182.28 523.48L182.59 524.36L182.9 524.67L183.21 525.91L183.52 532.85L183.83 528.81L184.14 531.35L184.45 528.71L184.76 527.36L185.07 533.47L185.38 531.61L185.69 531.14L186 530.21L186.31 525.09L186.62 529.23L186.93 531.45L187.24 533.47L187.56 527.36L187.87 528.55L188.18 531.3L188.49 534.55L188.8 534.55L189.11 532.23L189.42 535.54L189.73 535.64L190.04 537.97L190.35 535.64L190.66 536.31L190.97 536.99L191.28 534.66L191.59 536.83L191.9 535.33L192.21 535.02L192.52 535.18L192.83 536.16L193.14 536.62L193.45 538.28L193.76 536.62L194.07 535.85L194.38 533.52L194.69 536.83L195 536L195.31 533.36L195.62 535.69L195.93 534.55L196.24 531.09L196.55 534.24L196.86 533.57L197.17 531.76L197.48 533.26L197.79 532.43L198.1 530.36L198.41 524L198.72 522.03L199.03 527L199.34 523.85L199.65 521L199.96 514.22L200.27 520.53L200.58 519.19L200.89 514.48L201.2 510.91L201.51 509.98L201.82 506.26L202.13 500.72L202.44 498.19L202.75 492.96L203.06 491.82L203.37 496.69L203.68 502.32L203.99 492.7L204.3 497.88L204.61 499.48L204.92 497.15L205.23 500.72L205.54 507.6L205.85 505.27L206.16 503.72L206.47 513.81L206.78 507.81L207.09 507.34L207.4 511.95L207.71 511.38L208.02 515.78L208.33 521.78L208.64 526.28L208.95 530.11L209.26 521.98L209.57 527.1L209.88 532.49L210.19 530.62L210.5 532.43L210.81 535.18L211.12 538.12L211.43 536.62L211.74 536.62L212.05 538.28L212.36 536.78L212.67 537.45L212.98 537.76L213.29 538.59L213.6 537.92L213.91 538.74L214.22 538.9L214.53 538.9L214.84 538.9L215.15 538.9L215.46 538.9L215.77 538.9L216.08 538.9L216.39 538.9L216.7 538.9L217.01 538.9L217.32 538.9L217.63 538.9L217.94 538.9L218.25 538.9L218.56 538.9L218.87 538.9L219.18 538.9L219.49 538.9L219.8 538.9L220.11 538.9L220.42 538.9L220.73 538.9L221.04 538.9L221.35 538.9L221.66 538.9L221.97 538.9L222.28 538.9L222.59 538.9L222.9 538.9" fill="none" stroke="#1a1a1a" stroke-width="0.42" stroke-linejoin="round"/>
<line x1="144" y1="551.4" x2="224" y2="551.4" stroke="#000" stroke-width="1.5"/>
<polygon points="229,551.4 222.6,548.2 222.6,554.6"/>
<text x="186.4" y="561.2" font-size="9.8" font-weight="bold" text-anchor="middle" textLength="28" lengthAdjust="spacingAndGlyphs">NKp46</text>
<text x="152" y="545.2" font-size="3.1" text-anchor="middle" fill="#333">10<tspan font-size="2" dy="-1.2">2</tspan></text>
<text x="169.75" y="545.2" font-size="3.1" text-anchor="middle" fill="#333">10<tspan font-size="2" dy="-1.2">3</tspan></text>
<text x="187.5" y="545.2" font-size="3.1" text-anchor="middle" fill="#333">10<tspan font-size="2" dy="-1.2">4</tspan></text>
<text x="205.25" y="545.2" font-size="3.1" text-anchor="middle" fill="#333">10<tspan font-size="2" dy="-1.2">5</tspan></text>
<text x="223" y="545.2" font-size="3.1" text-anchor="middle" fill="#333">10<tspan font-size="2" dy="-1.2">6</tspan></text>
<text x="148.4" y="539" font-size="3.1" text-anchor="middle" transform="rotate(-90 148.4 539)" fill="#333">0</text>
<text x="148.4" y="519.5" font-size="3.1" text-anchor="middle" transform="rotate(-90 148.4 519.5)" fill="#333">20</text>
<text x="148.4" y="500" font-size="3.1" text-anchor="middle" transform="rotate(-90 148.4 500)" fill="#333">40</text>
<text x="148.4" y="481" font-size="3.1" text-anchor="middle" transform="rotate(-90 148.4 481)" fill="#333">60</text>
<path d="M152 539.4v1.8M169.75 539.4v1.8M187.5 539.4v1.8M205.25 539.4v1.8M223 539.4v1.8M157.32 539.4v1M160.52 539.4v1M162.65 539.4v1M164.43 539.4v1M165.84 539.4v1M167.09 539.4v1M167.97 539.4v1M168.86 539.4v1M175.07 539.4v1M178.27 539.4v1M180.4 539.4v1M182.18 539.4v1M183.59 539.4v1M184.84 539.4v1M185.72 539.4v1M186.61 539.4v1M192.82 539.4v1M196.02 539.4v1M198.15 539.4v1M199.93 539.4v1M201.34 539.4v1M202.59 539.4v1M203.47 539.4v1M204.36 539.4v1M210.57 539.4v1M213.77 539.4v1M215.9 539.4v1M217.68 539.4v1M219.09 539.4v1M220.34 539.4v1M221.22 539.4v1M222.11 539.4v1M151.6 468.6h-0.9M151.6 470.96h-0.9M151.6 473.32h-0.9M151.6 475.68h-0.9M151.6 478.04h-0.9M151.6 480.4h-0.9M151.6 482.76h-0.9M151.6 485.12h-0.9M151.6 487.48h-0.9M151.6 489.84h-0.9M151.6 492.2h-0.9M151.6 494.56h-0.9M151.6 496.92h-0.9M151.6 499.28h-0.9M151.6 501.64h-0.9M151.6 504h-0.9M151.6 506.36h-0.9M151.6 508.72h-0.9M151.6 511.08h-0.9M151.6 513.44h-0.9M151.6 515.8h-0.9M151.6 518.16h-0.9M151.6 520.52h-0.9M151.6 522.88h-0.9M151.6 525.24h-0.9M151.6 527.6h-0.9M151.6 529.96h-0.9M151.6 532.32h-0.9M151.6 534.68h-0.9M151.6 537.04h-0.9M151.6 539.4h-0.9M151.6 539h-1.8M151.6 519.5h-1.8M151.6 500h-1.8M151.6 481h-1.8" fill="none" stroke="#555" stroke-width="0.35"/>
<text x="142.6" y="504.5" font-size="9.8" font-weight="bold" text-anchor="middle" textLength="24" lengthAdjust="spacingAndGlyphs" transform="rotate(-90 142.6 504.5)">Count</text>
<rect x="244.4" y="468.6" width="72.6" height="71.4" fill="none" stroke="#9c9c9c" stroke-width="0.6"/>
<line x1="244.4" y1="468.6" x2="244.4" y2="540" stroke="#444" stroke-width="0.7"/>
<line x1="244.4" y1="540" x2="317" y2="540" stroke="#444" stroke-width="0.7"/>
<path d="M244.7 539.5L245.01 539.5L245.33 539.5L245.64 539.5L245.96 539.5L246.27 539.5L246.59 539.5L246.9 539.5L247.22 539.5L247.53 539.5L247.84 539.28L248.16 538.08L248.47 539.28L248.79 539.5L249.1 539.5L249.42 539.5L249.73 539.5L250.04 539.05L250.36 536.44L250.67 537.19L250.99 536.44L251.3 538.38L251.62 535.02L251.93 536.74L252.25 534.57L252.56 535.54L252.87 535.32L253.19 532.71L253.5 532.11L253.82 523.07L254.13 525.76L254.45 525.76L254.76 522.18L255.08 526.43L255.39 529.57L255.7 520.24L256.02 525.61L256.33 518.44L256.65 517.32L256.96 516.73L257.28 505.75L257.59 512.32L257.91 504.48L258.22 496.12L258.53 486.49L258.85 485.96L259.16 498.58L259.48 493.43L259.79 496.94L260.11 485.44L260.42 492.24L260.73 490.37L261.05 502.99L261.36 500.75L261.68 499.11L261.99 501.27L262.31 499.33L262.62 502.17L262.94 507.02L263.25 516.28L263.56 512.1L263.88 518.37L264.19 511.72L264.51 506.95L264.82 517.92L265.14 514.26L265.45 513.59L265.77 515.01L266.08 517.47L266.39 530.09L266.71 522.63L267.02 523.82L267.34 530.54L267.65 521.13L267.97 531.66L268.28 531.36L268.6 525.46L268.91 525.46L269.22 531.81L269.54 536.74L269.85 536.21L270.17 537.19L270.48 535.99L270.8 535.32L271.11 532.71L271.42 534.35L271.74 538.38L272.05 535.99L272.37 534.8L272.68 538.83L273 539.28L273.31 537.63L273.63 536.21L273.94 537.63L274.25 539.05L274.57 537.86L274.88 537.86L275.2 538.83L275.51 536.44L275.83 537.19L276.14 536.21L276.46 536.74L276.77 533.38L277.08 536.96L277.4 537.19L277.71 534.57L278.03 535.32L278.34 534.8L278.66 538.6L278.97 536.96L279.29 531.73L279.6 535.09L279.91 535.54L280.23 534.35L280.54 535.99L280.86 538.6L281.17 536.21L281.49 535.99L281.8 536.96L282.11 534.35L282.43 533L282.74 528.45L283.06 534.2L283.37 532.93L283.69 535.32L284 535.77L284.32 535.54L284.63 534.35L284.94 535.09L285.26 532.26L285.57 529.27L285.89 522.63L286.2 525.76L286.52 526.43L286.83 523.97L287.15 510.38L287.46 521.13L287.77 526.66L288.09 529.57L288.4 518.22L288.72 513.74L289.03 522.1L289.35 518.44L289.66 519.49L289.98 514.49L290.29 515.46L290.6 517.4L290.92 512.99L291.23 523.82L291.55 512.55L291.86 512.77L292.18 502.32L292.49 502.39L292.8 505.23L293.12 504.71L293.43 506.87L293.75 505.15L294.06 507.84L294.38 503.21L294.69 513.22L295.01 512.47L295.32 504.26L295.63 498.36L295.95 503.36L296.26 505.9L296.58 505.3L296.89 492.68L297.21 497.61L297.52 491.79L297.84 496.04L298.15 482.75L298.46 503.73L298.78 505.45L299.09 500.75L299.41 498.43L299.72 499.03L300.04 512.55L300.35 511.72L300.67 508.74L300.98 503.88L301.29 517.03L301.61 512.55L301.92 521.36L302.24 522.77L302.55 513.52L302.87 515.23L303.18 518.97L303.49 521.36L303.81 515.68L304.12 513.96L304.44 522.92L304.75 505.9L305.07 516.5L305.38 517.32L305.7 518.22L306.01 525.99L306.32 531.36L306.64 532.26L306.95 533L307.27 527.85L307.58 521.65L307.9 530.02L308.21 529.87L308.53 536.07L308.84 534.12L309.15 532.93L309.47 536.74L309.78 535.99L310.1 536.21L310.41 538.83L310.73 537.63L311.04 536.21L311.36 537.41L311.67 537.41L311.98 535.77L312.3 534.12L312.61 534.35L312.93 537.41L313.24 539.28L313.56 539.5L313.87 539.28L314.18 537.86L314.5 537.86L314.81 539.05L315.13 538.08L315.44 539.28L315.76 539.5L316.07 539.5L316.39 539.5L316.7 539.5" fill="none" stroke="#ff8a10" stroke-width="0.62" stroke-linejoin="round"/>
<path d="M244.7 539.5L245.01 539.5L245.33 539.5L245.64 539.5L245.96 539.5L246.27 539.5L246.59 539.5L246.9 539.5L247.22 539.5L247.53 539.5L247.84 539.5L248.16 539.5L248.47 539.5L248.79 539.5L249.1 539.5L249.42 539.5L249.73 539.5L250.04 539.5L250.36 539.5L250.67 539.05L250.99 536.44L251.3 537.41L251.62 537.86L251.93 539.28L252.25 539.05L252.56 536.66L252.87 537.71L253.19 529.87L253.5 529.27L253.82 525.46L254.13 525.99L254.45 525.91L254.76 532.11L255.08 528.08L255.39 519.94L255.7 509.26L256.02 516.5L256.33 511.95L256.65 509.11L256.96 513.67L257.28 508.51L257.59 498.06L257.91 506.2L258.22 507.09L258.53 501.27L258.85 491.34L259.16 494.48L259.48 499.11L259.79 505.97L260.11 501.72L260.42 494.63L260.73 497.76L261.05 499.33L261.36 504.56L261.68 503.51L261.99 508.96L262.31 508.59L262.62 495.37L262.94 514.71L263.25 513.59L263.56 510.31L263.88 510.83L264.19 509.56L264.51 517.85L264.82 520.16L265.14 515.98L265.45 508.29L265.77 523.07L266.08 522.18L266.39 526.88L266.71 533.97L267.02 530.84L267.34 530.17L267.65 530.61L267.97 533.68L268.28 534.87L268.6 531.73L268.91 536.29L269.22 534.8L269.54 537.19L269.85 537.41L270.17 536.21L270.48 536.96L270.8 534.57L271.11 535.99L271.42 538.6L271.74 536.21L272.05 535.32L272.37 533.38L272.68 538.38L273 537.86L273.31 537.63L273.63 537.63L273.94 537.41L274.25 535.54L274.57 533.38L274.88 538.6L275.2 538.83L275.51 534.8L275.83 535.77L276.14 537.19L276.46 536.21L276.77 537.41L277.08 537.63L277.4 536.74L277.71 531.73L278.03 535.09L278.34 535.77L278.66 534.87L278.97 529.87L279.29 532.78L279.6 530.84L279.91 532.48L280.23 536.51L280.54 534.12L280.86 531.14L281.17 525.16L281.49 532.56L281.8 533.9L282.11 533.68L282.43 532.48L282.74 533.45L283.06 532.03L283.37 530.61L283.69 532.03L284 533.45L284.32 531.59L284.63 527.33L284.94 528.52L285.26 531.81L285.57 533.45L285.89 530.47L286.2 520.24L286.52 527.63L286.83 531.21L287.15 520.68L287.46 527.25L287.77 520.98L288.09 521.88L288.4 511.57L288.72 518.67L289.03 508.51L289.35 520.24L289.66 519.71L289.98 510.75L290.29 508.21L290.6 510.53L290.92 517.17L291.23 513.81L291.55 512.17L291.86 514.11L292.18 510.31L292.49 510.53L292.8 515.53L293.12 511.72L293.43 508.89L293.75 512.02L294.06 508.21L294.38 504.11L294.69 493.36L295.01 505.75L295.32 508.96L295.63 505.68L295.95 501.42L296.26 504.26L296.58 509.63L296.89 513.89L297.21 509.86L297.52 506.35L297.84 505.45L298.15 502.84L298.46 502.69L298.78 496.72L299.09 498.36L299.41 484.62L299.72 504.26L300.04 498.58L300.35 501.2L300.67 509.48L300.98 507.02L301.29 508.74L301.61 505.9L301.92 504.18L302.24 512.32L302.55 506.5L302.87 512.47L303.18 515.46L303.49 518.29L303.81 517.55L304.12 520.53L304.44 530.54L304.75 523.3L305.07 525.84L305.38 517.92L305.7 524.12L306.01 528.15L306.32 521.21L306.64 526.21L306.95 531.36L307.27 531.14L307.58 526.36L307.9 530.91L308.21 530.39L308.53 530.84L308.84 534.65L309.15 533.38L309.47 537.71L309.78 533.38L310.1 535.77L310.41 538.16L310.73 533.6L311.04 536.96L311.36 537.63L311.67 537.86L311.98 539.28L312.3 539.5L312.61 539.5L312.93 539.5L313.24 538.83L313.56 535.24L313.87 538.83L314.18 539.5L314.5 539.28L314.81 538.08L315.13 539.28L315.44 539.28L315.76 538.08L316.07 539.28L316.39 539.5L316.7 539.5" fill="none" stroke="#1a1a1a" stroke-width="0.42" stroke-linejoin="round"/>
<line x1="236" y1="551.4" x2="316" y2="551.4" stroke="#000" stroke-width="1.5"/>
<polygon points="321,551.4 314.6,548.2 314.6,554.6"/>
<text x="279.3" y="561.2" font-size="9.8" font-weight="bold" text-anchor="middle" textLength="29.4" lengthAdjust="spacingAndGlyphs">NKG2A</text>
<text x="253.84" y="545.8" font-size="3.1" text-anchor="middle" fill="#333">-10<tspan font-size="2" dy="-1.2">3</tspan></text>
<text x="262.19" y="545.8" font-size="3.1" text-anchor="middle" fill="#333">0</text>
<text x="271.62" y="545.8" font-size="3.1" text-anchor="middle" fill="#333">10<tspan font-size="2" dy="-1.2">3</tspan></text>
<text x="291.95" y="545.8" font-size="3.1" text-anchor="middle" fill="#333">10<tspan font-size="2" dy="-1.2">4</tspan></text>
<text x="313.37" y="545.8" font-size="3.1" text-anchor="middle" fill="#333">10<tspan font-size="2" dy="-1.2">5</tspan></text>
<text x="241.2" y="539.6" font-size="3.1" text-anchor="middle" transform="rotate(-90 241.2 539.6)" fill="#333">0</text>
<text x="241.2" y="511.6" font-size="3.1" text-anchor="middle" transform="rotate(-90 241.2 511.6)" fill="#333">20</text>
<text x="241.2" y="483.6" font-size="3.1" text-anchor="middle" transform="rotate(-90 241.2 483.6)" fill="#333">40</text>
<path d="M253.84 540v1.8M262.19 540v1.8M271.62 540v1.8M291.95 540v1.8M313.37 540v1.8M256.34 540v1M257.85 540v1M258.85 540v1M259.68 540v1M260.35 540v1M260.93 540v1M261.35 540v1M261.77 540v1M265.02 540v1M266.72 540v1M267.85 540v1M268.79 540v1M269.55 540v1M270.21 540v1M270.68 540v1M271.15 540v1M277.72 540v1M281.38 540v1M283.82 540v1M285.85 540v1M287.48 540v1M288.9 540v1M289.92 540v1M290.94 540v1M298.38 540v1M302.23 540v1M304.8 540v1M306.94 540v1M308.66 540v1M310.16 540v1M311.23 540v1M312.3 540v1M244.4 468.6h-0.9M244.4 470.98h-0.9M244.4 473.36h-0.9M244.4 475.74h-0.9M244.4 478.12h-0.9M244.4 480.5h-0.9M244.4 482.88h-0.9M244.4 485.26h-0.9M244.4 487.64h-0.9M244.4 490.02h-0.9M244.4 492.4h-0.9M244.4 494.78h-0.9M244.4 497.16h-0.9M244.4 499.54h-0.9M244.4 501.92h-0.9M244.4 504.3h-0.9M244.4 506.68h-0.9M244.4 509.06h-0.9M244.4 511.44h-0.9M244.4 513.82h-0.9M244.4 516.2h-0.9M244.4 518.58h-0.9M244.4 520.96h-0.9M244.4 523.34h-0.9M244.4 525.72h-0.9M244.4 528.1h-0.9M244.4 530.48h-0.9M244.4 532.86h-0.9M244.4 535.24h-0.9M244.4 537.62h-0.9M244.4 540h-0.9M244.4 539.6h-1.8M244.4 511.6h-1.8M244.4 483.6h-1.8" fill="none" stroke="#555" stroke-width="0.35"/>
<rect x="336.4" y="468.6" width="72.2" height="71.4" fill="none" stroke="#9c9c9c" stroke-width="0.6"/>
<line x1="336.4" y1="468.6" x2="336.4" y2="540" stroke="#444" stroke-width="0.7"/>
<line x1="336.4" y1="540" x2="408.6" y2="540" stroke="#444" stroke-width="0.7"/>
<path d="M336.7 539.5L337.01 539.5L337.33 539.5L337.64 539.5L337.95 539.5L338.26 539.5L338.58 539.5L338.89 539.5L339.2 539.5L339.51 539.5L339.83 539.5L340.14 539.5L340.45 539.5L340.76 539.5L341.08 539.5L341.39 539.5L341.7 539.5L342.02 539.5L342.33 539.5L342.64 539.5L342.95 539.5L343.27 539.12L343.58 536.72L343.89 536.72L344.2 539.12L344.52 539.5L344.83 539.12L345.14 536.72L345.45 536.72L345.77 539.12L346.08 539.12L346.39 536.72L346.71 536.72L347.02 538.74L347.33 537.1L347.64 538.74L347.96 536.72L348.27 536.34L348.58 536.72L348.89 539.12L349.21 539.5L349.52 539.12L349.83 537.1L350.14 539.12L350.46 539.5L350.77 539.12L351.08 536.34L351.4 533.18L351.71 530.78L352.02 533.18L352.33 535.96L352.65 536.34L352.96 536.34L353.27 536.72L353.58 539.12L353.9 539.12L354.21 536.72L354.52 536.34L354.83 535.96L355.15 532.8L355.46 528L355.77 529.64L356.09 531.16L356.4 537.6L356.71 534.32L357.02 536.34L357.34 538.36L357.65 533.94L357.96 533.18L358.27 533.94L358.59 537.6L358.9 530.78L359.21 528.76L359.52 536.85L359.84 531.16L360.15 531.16L360.46 536.47L360.78 526.73L361.09 532.04L361.4 532.8L361.71 531.54L362.03 537.6L362.34 533.94L362.65 533.18L362.96 533.18L363.28 532.42L363.59 528L363.9 530.02L364.21 532.42L364.53 530.78L364.84 532.42L365.15 530.78L365.47 532.42L365.78 530.78L366.09 533.18L366.4 535.96L366.72 535.2L367.03 529.14L367.34 535.58L367.65 538.74L367.97 536.72L368.28 534.44L368.59 523.57L368.9 529.64L369.22 535.58L369.53 535.58L369.84 531.16L370.16 532.42L370.47 531.16L370.78 535.58L371.09 535.96L371.41 533.56L371.72 533.56L372.03 535.58L372.34 533.56L372.66 533.56L372.97 535.58L373.28 533.56L373.59 533.18L373.91 533.56L374.22 535.96L374.53 535.58L374.84 531.54L375.16 535.2L375.47 533.94L375.78 534.82L376.1 528.38L376.41 530.02L376.72 532.04L377.03 527.24L377.35 525.98L377.66 536.47L377.97 531.54L378.28 532.42L378.6 530.4L378.91 530.4L379.22 531.66L379.53 525.6L379.85 529.26L380.16 531.16L380.47 536.47L380.79 526.73L381.1 532.42L381.41 535.2L381.72 530.78L382.04 530.02L382.35 530.02L382.66 530.02L382.97 529.64L383.29 527.24L383.6 525.34L383.91 517.25L384.22 526.1L384.54 532.04L384.85 530.02L385.16 527.62L385.48 529.64L385.79 529.26L386.1 523.32L386.41 516.5L386.73 522.56L387.04 524.84L387.35 531.28L387.66 527.62L387.98 528L388.29 533.69L388.6 525.98L388.91 528.5L389.23 524.46L389.54 523.7L389.85 523.7L390.17 523.7L390.48 521.42L390.79 509.29L391.1 520.29L391.42 514.6L391.73 509.42L392.04 515.36L392.35 528.12L392.67 529.26L392.98 524.46L393.29 523.32L393.6 521.68L393.92 525.34L394.23 520.54L394.54 517.25L394.86 529.77L395.17 525.22L395.48 526.86L395.79 527.74L396.11 516.87L396.42 521.3L396.73 531.28L397.04 530.02L397.36 528L397.67 531.66L397.98 528.38L398.29 531.28L398.61 526.73L398.92 536.85L399.23 534.32L399.55 536.34L399.86 539.12L400.17 538.74L400.48 533.56L400.8 531.54L401.11 537.98L401.42 536.72L401.73 536.72L402.05 539.12L402.36 539.5L402.67 539.12L402.98 537.1L403.3 539.12L403.61 539.12L403.92 537.1L404.24 539.12L404.55 539.5L404.86 539.5L405.17 539.5L405.49 539.5L405.8 539.5L406.11 539.5L406.42 539.5L406.74 539.5L407.05 539.5L407.36 539.5L407.67 539.5L407.99 539.5L408.3 539.5" fill="none" stroke="#ff8a10" stroke-width="0.62" stroke-linejoin="round"/>
<path d="M336.7 539.5L337.01 539.5L337.33 539.5L337.64 539.5L337.95 539.5L338.26 539.5L338.58 539.12L338.89 536.72L339.2 536.72L339.51 539.12L339.83 539.5L340.14 538.74L340.45 534.7L340.76 538.74L341.08 539.12L341.39 537.1L341.7 539.12L342.02 539.5L342.33 539.5L342.64 539.5L342.95 539.5L343.27 539.12L343.58 537.1L343.89 539.12L344.2 539.5L344.52 539.5L344.83 539.5L345.14 539.5L345.45 539.5L345.77 539.5L346.08 539.5L346.39 539.5L346.71 539.12L347.02 536.72L347.33 536.72L347.64 539.12L347.96 539.12L348.27 537.1L348.58 538.74L348.89 536.72L349.21 536.34L349.52 536.34L349.83 536.72L350.14 539.12L350.46 539.5L350.77 538.74L351.08 534.32L351.4 535.96L351.71 536.72L352.02 539.12L352.33 537.98L352.65 528.76L352.96 530.4L353.27 535.58L353.58 536.34L353.9 536.34L354.21 534.82L354.52 526.35L354.83 532.04L355.15 533.18L355.46 533.94L355.77 537.6L356.09 531.16L356.4 528.88L356.71 522.82L357.02 529.64L357.34 535.58L357.65 535.96L357.96 532.42L358.27 525.98L358.59 532.42L358.9 536.34L359.21 538.74L359.52 536.34L359.84 533.18L360.15 529.64L360.46 525.98L360.78 534.44L361.09 533.18L361.4 530.4L361.71 530.02L362.03 531.16L362.34 537.22L362.65 531.92L362.96 535.58L363.28 535.96L363.59 532.8L363.9 528.76L364.21 534.44L364.53 531.54L364.84 534.82L365.15 531.92L365.47 537.98L365.78 535.58L366.09 528.38L366.4 530.02L366.72 532.8L367.03 532.8L367.34 531.16L367.65 535.96L367.97 537.22L368.28 526.73L368.59 532.04L368.9 533.56L369.22 535.2L369.53 531.54L369.84 535.2L370.16 533.56L370.47 532.04L370.78 526.35L371.09 534.44L371.41 533.18L371.72 530.78L372.03 532.42L372.34 531.54L372.66 537.98L372.97 536.72L373.28 535.58L373.59 531.92L373.91 536.47L374.22 526.73L374.53 532.42L374.84 535.96L375.16 535.58L375.47 530.4L375.78 527.24L376.1 527.24L376.41 530.02L376.72 532.8L377.03 532.04L377.35 525.22L377.66 525.72L377.97 522.44L378.28 528.5L378.6 528.38L378.91 534.06L379.22 527.24L379.53 520.92L379.85 517.76L380.16 517.76L380.47 521.68L380.79 530.9L381.1 527.62L381.41 526.48L381.72 525.6L382.04 534.06L382.35 530.02L382.66 524.46L382.97 524.08L383.29 525.34L383.6 520.03L383.91 528.88L384.22 530.53L384.54 516.5L384.85 516.12L385.16 528.5L385.48 530.9L385.79 520.41L386.1 525.34L386.41 523.32L386.73 518.9L387.04 521.8L387.35 517.25L387.66 526.99L387.98 521.68L388.29 520.92L388.6 522.56L388.91 515.86L389.23 502.59L389.54 511.94L389.85 512.58L390.17 520.54L390.48 528.5L390.79 525.34L391.1 513.71L391.42 514.35L391.73 504.11L392.04 521.93L392.35 515.36L392.67 512.96L392.98 521.05L393.29 514.22L393.6 508.15L393.92 521.05L394.23 518.26L394.54 504.49L394.86 524.21L395.17 531.28L395.48 523.32L395.79 514.85L396.11 526.99L396.42 524.46L396.73 524.08L397.04 526.1L397.36 524.84L397.67 529.26L397.98 529.64L398.29 527.62L398.61 529.64L398.92 531.16L399.23 537.98L399.55 536.34L399.86 534.32L400.17 538.74L400.48 538.74L400.8 533.94L401.11 533.94L401.42 538.36L401.73 537.1L402.05 538.74L402.36 537.1L402.67 539.12L402.98 538.74L403.3 534.7L403.61 538.74L403.92 539.5L404.24 539.5L404.55 539.5L404.86 539.5L405.17 539.5L405.49 539.5L405.8 539.5L406.11 539.5L406.42 539.5L406.74 539.5L407.05 539.5L407.36 539.5L407.67 539.5L407.99 539.5L408.3 539.5" fill="none" stroke="#1a1a1a" stroke-width="0.42" stroke-linejoin="round"/>
<line x1="330" y1="551.4" x2="409.4" y2="551.4" stroke="#000" stroke-width="1.5"/>
<polygon points="414.4,551.4 408,548.2 408,554.6"/>
<text x="371.5" y="561.2" font-size="9.8" font-weight="bold" text-anchor="middle" textLength="53" lengthAdjust="spacingAndGlyphs">LY49C/F/I/H</text>
<text x="340.37" y="545.8" font-size="3.1" text-anchor="middle" fill="#333">0</text>
<text x="360.23" y="545.8" font-size="3.1" text-anchor="middle" fill="#333">10<tspan font-size="2" dy="-1.2">3</tspan></text>
<text x="377.19" y="545.8" font-size="3.1" text-anchor="middle" fill="#333">10<tspan font-size="2" dy="-1.2">4</tspan></text>
<text x="394.16" y="545.8" font-size="3.1" text-anchor="middle" fill="#333">10<tspan font-size="2" dy="-1.2">5</tspan></text>
<text x="333.2" y="539.6" font-size="3.1" text-anchor="middle" transform="rotate(-90 333.2 539.6)" fill="#333">0</text>
<text x="333.2" y="515.4" font-size="3.1" text-anchor="middle" transform="rotate(-90 333.2 515.4)" fill="#333">10</text>
<text x="333.2" y="492" font-size="3.1" text-anchor="middle" transform="rotate(-90 333.2 492)" fill="#333">20</text>
<text x="333.2" y="468.8" font-size="3.1" text-anchor="middle" transform="rotate(-90 333.2 468.8)" fill="#333">30</text>
<path d="M340.37 540v1.8M360.23 540v1.8M377.19 540v1.8M394.16 540v1.8M346.33 540v1M349.9 540v1M352.28 540v1M354.27 540v1M355.86 540v1M357.25 540v1M358.24 540v1M359.23 540v1M365.32 540v1M368.37 540v1M370.41 540v1M372.1 540v1M373.46 540v1M374.65 540v1M375.5 540v1M376.34 540v1M382.28 540v1M385.34 540v1M387.37 540v1M389.07 540v1M390.43 540v1M391.61 540v1M392.46 540v1M393.31 540v1M336.4 468.6h-0.9M336.4 470.98h-0.9M336.4 473.36h-0.9M336.4 475.74h-0.9M336.4 478.12h-0.9M336.4 480.5h-0.9M336.4 482.88h-0.9M336.4 485.26h-0.9M336.4 487.64h-0.9M336.4 490.02h-0.9M336.4 492.4h-0.9M336.4 494.78h-0.9M336.4 497.16h-0.9M336.4 499.54h-0.9M336.4 501.92h-0.9M336.4 504.3h-0.9M336.4 506.68h-0.9M336.4 509.06h-0.9M336.4 511.44h-0.9M336.4 513.82h-0.9M336.4 516.2h-0.9M336.4 518.58h-0.9M336.4 520.96h-0.9M336.4 523.34h-0.9M336.4 525.72h-0.9M336.4 528.1h-0.9M336.4 530.48h-0.9M336.4 532.86h-0.9M336.4 535.24h-0.9M336.4 537.62h-0.9M336.4 540h-0.9M336.4 539.6h-1.8M336.4 515.4h-1.8M336.4 492h-1.8M336.4 468.8h-1.8" fill="none" stroke="#555" stroke-width="0.35"/>
<rect x="425.8" y="437.4" width="12.2" height="11.8" fill="#000"/>
<text x="445" y="447" font-size="9.8" font-weight="bold" textLength="41" lengthAdjust="spacingAndGlyphs">Wild-type</text>
<rect x="425.2" y="464.2" width="12.4" height="11.6" fill="#ff8400"/>
<text x="445" y="474" font-size="9.8" font-weight="bold" textLength="33" lengthAdjust="spacingAndGlyphs">p35 k/o</text>
<line x1="65.8" y1="604.43" x2="65.8" y2="608.84" stroke="#222" stroke-width="0.8"/>
<line x1="63.1" y1="604.43" x2="68.5" y2="604.43" stroke="#222" stroke-width="0.8"/>
<line x1="89.15" y1="597.44" x2="89.15" y2="611.05" stroke="#555" stroke-width="0.8"/>
<line x1="86.45" y1="597.44" x2="91.85" y2="597.44" stroke="#555" stroke-width="0.8"/>
<rect x="58.2" y="608.84" width="15.2" height="52.26" fill="#333333" stroke="#000" stroke-width="1"/>
<rect x="81.4" y="611.05" width="15.5" height="50.05" fill="#a6a6a6" stroke="#000" stroke-width="1"/>
<line x1="49.1" y1="587.5" x2="49.1" y2="661.6" stroke="#000" stroke-width="1"/>
<line x1="45.9" y1="661.1" x2="49.1" y2="661.1" stroke="#000" stroke-width="1"/>
<line x1="45.9" y1="646.38" x2="49.1" y2="646.38" stroke="#000" stroke-width="1"/>
<line x1="45.9" y1="631.66" x2="49.1" y2="631.66" stroke="#000" stroke-width="1"/>
<line x1="45.9" y1="616.94" x2="49.1" y2="616.94" stroke="#000" stroke-width="1"/>
<line x1="45.9" y1="602.22" x2="49.1" y2="602.22" stroke="#000" stroke-width="1"/>
<line x1="45.9" y1="587.5" x2="49.1" y2="587.5" stroke="#000" stroke-width="1"/>
<line x1="47.3" y1="657.42" x2="49.1" y2="657.42" stroke="#000" stroke-width="0.8"/>
<line x1="47.3" y1="653.74" x2="49.1" y2="653.74" stroke="#000" stroke-width="0.8"/>
<line x1="47.3" y1="650.06" x2="49.1" y2="650.06" stroke="#000" stroke-width="0.8"/>
<line x1="47.3" y1="642.7" x2="49.1" y2="642.7" stroke="#000" stroke-width="0.8"/>
<line x1="47.3" y1="639.02" x2="49.1" y2="639.02" stroke="#000" stroke-width="0.8"/>
<line x1="47.3" y1="635.34" x2="49.1" y2="635.34" stroke="#000" stroke-width="0.8"/>
<line x1="47.3" y1="627.98" x2="49.1" y2="627.98" stroke="#000" stroke-width="0.8"/>
<line x1="47.3" y1="624.3" x2="49.1" y2="624.3" stroke="#000" stroke-width="0.8"/>
<line x1="47.3" y1="620.62" x2="49.1" y2="620.62" stroke="#000" stroke-width="0.8"/>
<line x1="47.3" y1="613.26" x2="49.1" y2="613.26" stroke="#000" stroke-width="0.8"/>
<line x1="47.3" y1="609.58" x2="49.1" y2="609.58" stroke="#000" stroke-width="0.8"/>
<line x1="47.3" y1="605.9" x2="49.1" y2="605.9" stroke="#000" stroke-width="0.8"/>
<line x1="47.3" y1="598.54" x2="49.1" y2="598.54" stroke="#000" stroke-width="0.8"/>
<line x1="47.3" y1="594.86" x2="49.1" y2="594.86" stroke="#000" stroke-width="0.8"/>
<line x1="47.3" y1="591.18" x2="49.1" y2="591.18" stroke="#000" stroke-width="0.8"/>
<line x1="48.6" y1="661.1" x2="104.8" y2="661.1" stroke="#000" stroke-width="1"/>
<line x1="65.8" y1="661.1" x2="65.8" y2="663.9" stroke="#000" stroke-width="1"/>
<line x1="89.15" y1="661.1" x2="89.15" y2="663.9" stroke="#000" stroke-width="1"/>
<text x="44.9" y="663.6" font-size="6.9" font-weight="bold" text-anchor="end">0</text>
<text x="44.9" y="648.88" font-size="6.9" font-weight="bold" text-anchor="end">200</text>
<text x="44.9" y="634.16" font-size="6.9" font-weight="bold" text-anchor="end">400</text>
<text x="44.9" y="619.44" font-size="6.9" font-weight="bold" text-anchor="end">600</text>
<text x="44.9" y="604.72" font-size="6.9" font-weight="bold" text-anchor="end">800</text>
<text x="44.9" y="590" font-size="6.9" font-weight="bold" text-anchor="end">1,000</text>
<text x="24" y="623.3" font-size="7.7" font-weight="bold" text-anchor="middle" textLength="84" lengthAdjust="spacingAndGlyphs" transform="rotate(-90 24 623.3)">Concentration (pg/mL)</text>
<text x="65.8" y="672.1" font-size="6.8" font-weight="bold" text-anchor="middle">WT</text>
<text x="89.15" y="672.1" font-size="6.8" font-weight="bold" text-anchor="middle" textLength="23.5" lengthAdjust="spacingAndGlyphs">p35 k/o</text>
<path d="M65.8 599V589.6H89.15V593.8" fill="none" stroke="#000" stroke-width="0.9"/>
<text x="77.48" y="586.2" font-size="6.4" text-anchor="middle" fill="#333">ns</text>
<text x="77.98" y="683.4" font-size="8.2" font-weight="bold" text-anchor="middle" textLength="17" lengthAdjust="spacingAndGlyphs">IFNγ</text>
<line x1="154.15" y1="595.45" x2="154.15" y2="597.8" stroke="#222" stroke-width="0.8"/>
<line x1="151.45" y1="595.45" x2="156.85" y2="595.45" stroke="#222" stroke-width="0.8"/>
<line x1="177.55" y1="591.92" x2="177.55" y2="592.65" stroke="#555" stroke-width="0.8"/>
<line x1="174.85" y1="591.92" x2="180.25" y2="591.92" stroke="#555" stroke-width="0.8"/>
<rect x="146.5" y="597.8" width="15.3" height="63.3" fill="#333333" stroke="#000" stroke-width="1"/>
<rect x="169.8" y="592.65" width="15.5" height="68.45" fill="#a6a6a6" stroke="#000" stroke-width="1"/>
<line x1="135.8" y1="587.5" x2="135.8" y2="661.6" stroke="#000" stroke-width="1"/>
<line x1="132.6" y1="661.1" x2="135.8" y2="661.1" stroke="#000" stroke-width="1"/>
<line x1="132.6" y1="646.38" x2="135.8" y2="646.38" stroke="#000" stroke-width="1"/>
<line x1="132.6" y1="631.66" x2="135.8" y2="631.66" stroke="#000" stroke-width="1"/>
<line x1="132.6" y1="616.94" x2="135.8" y2="616.94" stroke="#000" stroke-width="1"/>
<line x1="132.6" y1="602.22" x2="135.8" y2="602.22" stroke="#000" stroke-width="1"/>
<line x1="132.6" y1="587.5" x2="135.8" y2="587.5" stroke="#000" stroke-width="1"/>
<line x1="134" y1="653.74" x2="135.8" y2="653.74" stroke="#000" stroke-width="0.8"/>
<line x1="134" y1="639.02" x2="135.8" y2="639.02" stroke="#000" stroke-width="0.8"/>
<line x1="134" y1="624.3" x2="135.8" y2="624.3" stroke="#000" stroke-width="0.8"/>
<line x1="134" y1="609.58" x2="135.8" y2="609.58" stroke="#000" stroke-width="0.8"/>
<line x1="134" y1="594.86" x2="135.8" y2="594.86" stroke="#000" stroke-width="0.8"/>
<line x1="135.3" y1="661.1" x2="193.6" y2="661.1" stroke="#000" stroke-width="1"/>
<line x1="154.15" y1="661.1" x2="154.15" y2="663.9" stroke="#000" stroke-width="1"/>
<line x1="177.55" y1="661.1" x2="177.55" y2="663.9" stroke="#000" stroke-width="1"/>
<text x="131.6" y="663.6" font-size="6.9" font-weight="bold" text-anchor="end">0</text>
<text x="131.6" y="648.88" font-size="6.9" font-weight="bold" text-anchor="end">10</text>
<text x="131.6" y="634.16" font-size="6.9" font-weight="bold" text-anchor="end">20</text>
<text x="131.6" y="619.44" font-size="6.9" font-weight="bold" text-anchor="end">30</text>
<text x="131.6" y="604.72" font-size="6.9" font-weight="bold" text-anchor="end">40</text>
<text x="131.6" y="590" font-size="6.9" font-weight="bold" text-anchor="end">50</text>
<text x="122.3" y="623.3" font-size="7.7" font-weight="bold" text-anchor="middle" textLength="84" lengthAdjust="spacingAndGlyphs" transform="rotate(-90 122.3 623.3)">Concentration (pg/mL)</text>
<text x="154.15" y="672.1" font-size="6.8" font-weight="bold" text-anchor="middle">WT</text>
<text x="177.55" y="672.1" font-size="6.8" font-weight="bold" text-anchor="middle" textLength="23.5" lengthAdjust="spacingAndGlyphs">p35 k/o</text>
<path d="M154.15 589.6V582.2H177.55V586.4" fill="none" stroke="#000" stroke-width="0.9"/>
<text x="165.85" y="582.5" font-size="7" font-weight="bold" text-anchor="middle" letter-spacing="0.5">**</text>
<text x="166.35" y="683.4" font-size="8.2" font-weight="bold" text-anchor="middle" textLength="20.6" lengthAdjust="spacingAndGlyphs">TNFα</text>
<line x1="256.95" y1="598.85" x2="256.95" y2="600.38" stroke="#222" stroke-width="0.8"/>
<line x1="254.25" y1="598.85" x2="259.65" y2="598.85" stroke="#222" stroke-width="0.8"/>
<line x1="280.5" y1="620.62" x2="280.5" y2="622.77" stroke="#555" stroke-width="0.8"/>
<line x1="277.8" y1="620.62" x2="283.2" y2="620.62" stroke="#555" stroke-width="0.8"/>
<rect x="249.3" y="600.38" width="15.3" height="60.72" fill="#333333" stroke="#000" stroke-width="1"/>
<rect x="272.7" y="622.77" width="15.6" height="38.33" fill="#a6a6a6" stroke="#000" stroke-width="1"/>
<line x1="240.9" y1="587.5" x2="240.9" y2="661.6" stroke="#000" stroke-width="1"/>
<line x1="237.7" y1="661.1" x2="240.9" y2="661.1" stroke="#000" stroke-width="1"/>
<line x1="237.7" y1="648.83" x2="240.9" y2="648.83" stroke="#000" stroke-width="1"/>
<line x1="237.7" y1="636.57" x2="240.9" y2="636.57" stroke="#000" stroke-width="1"/>
<line x1="237.7" y1="624.3" x2="240.9" y2="624.3" stroke="#000" stroke-width="1"/>
<line x1="237.7" y1="612.03" x2="240.9" y2="612.03" stroke="#000" stroke-width="1"/>
<line x1="237.7" y1="599.77" x2="240.9" y2="599.77" stroke="#000" stroke-width="1"/>
<line x1="237.7" y1="587.5" x2="240.9" y2="587.5" stroke="#000" stroke-width="1"/>
<line x1="239.1" y1="658.03" x2="240.9" y2="658.03" stroke="#000" stroke-width="0.8"/>
<line x1="239.1" y1="654.97" x2="240.9" y2="654.97" stroke="#000" stroke-width="0.8"/>
<line x1="239.1" y1="651.9" x2="240.9" y2="651.9" stroke="#000" stroke-width="0.8"/>
<line x1="239.1" y1="645.77" x2="240.9" y2="645.77" stroke="#000" stroke-width="0.8"/>
<line x1="239.1" y1="642.7" x2="240.9" y2="642.7" stroke="#000" stroke-width="0.8"/>
<line x1="239.1" y1="639.63" x2="240.9" y2="639.63" stroke="#000" stroke-width="0.8"/>
<line x1="239.1" y1="633.5" x2="240.9" y2="633.5" stroke="#000" stroke-width="0.8"/>
<line x1="239.1" y1="630.43" x2="240.9" y2="630.43" stroke="#000" stroke-width="0.8"/>
<line x1="239.1" y1="627.37" x2="240.9" y2="627.37" stroke="#000" stroke-width="0.8"/>
<line x1="239.1" y1="621.23" x2="240.9" y2="621.23" stroke="#000" stroke-width="0.8"/>
<line x1="239.1" y1="618.17" x2="240.9" y2="618.17" stroke="#000" stroke-width="0.8"/>
<line x1="239.1" y1="615.1" x2="240.9" y2="615.1" stroke="#000" stroke-width="0.8"/>
<line x1="239.1" y1="608.97" x2="240.9" y2="608.97" stroke="#000" stroke-width="0.8"/>
<line x1="239.1" y1="605.9" x2="240.9" y2="605.9" stroke="#000" stroke-width="0.8"/>
<line x1="239.1" y1="602.83" x2="240.9" y2="602.83" stroke="#000" stroke-width="0.8"/>
<line x1="239.1" y1="596.7" x2="240.9" y2="596.7" stroke="#000" stroke-width="0.8"/>
<line x1="239.1" y1="593.63" x2="240.9" y2="593.63" stroke="#000" stroke-width="0.8"/>
<line x1="239.1" y1="590.57" x2="240.9" y2="590.57" stroke="#000" stroke-width="0.8"/>
<line x1="240.4" y1="661.1" x2="296" y2="661.1" stroke="#000" stroke-width="1"/>
<line x1="256.95" y1="661.1" x2="256.95" y2="663.9" stroke="#000" stroke-width="1"/>
<line x1="280.5" y1="661.1" x2="280.5" y2="663.9" stroke="#000" stroke-width="1"/>
<text x="236.7" y="663.6" font-size="6.9" font-weight="bold" text-anchor="end">0</text>
<text x="236.7" y="651.33" font-size="6.9" font-weight="bold" text-anchor="end">20</text>
<text x="236.7" y="639.07" font-size="6.9" font-weight="bold" text-anchor="end">40</text>
<text x="236.7" y="626.8" font-size="6.9" font-weight="bold" text-anchor="end">60</text>
<text x="236.7" y="614.53" font-size="6.9" font-weight="bold" text-anchor="end">80</text>
<text x="236.7" y="602.27" font-size="6.9" font-weight="bold" text-anchor="end">100</text>
<text x="236.7" y="590" font-size="6.9" font-weight="bold" text-anchor="end">120</text>
<text x="222" y="623.3" font-size="7.7" font-weight="bold" text-anchor="middle" textLength="84" lengthAdjust="spacingAndGlyphs" transform="rotate(-90 222 623.3)">Concentration (pg/mL)</text>
<text x="256.95" y="672.1" font-size="6.8" font-weight="bold" text-anchor="middle">WT</text>
<text x="280.5" y="672.1" font-size="6.8" font-weight="bold" text-anchor="middle" textLength="23.5" lengthAdjust="spacingAndGlyphs">p35 k/o</text>
<path d="M256.95 592.3V589H280.5V618" fill="none" stroke="#000" stroke-width="0.9"/>
<text x="268.73" y="589.3" font-size="7" font-weight="bold" text-anchor="middle" letter-spacing="0.5">****</text>
<text x="269.23" y="683.4" font-size="8.2" font-weight="bold" text-anchor="middle" textLength="24" lengthAdjust="spacingAndGlyphs">GMCSF</text>
<text x="311.7" y="617.7" font-size="9.8" font-weight="bold" textLength="78" lengthAdjust="spacingAndGlyphs">mNK cells with IL2</text>
<text x="311.7" y="630.3" font-size="9.8" font-weight="bold" textLength="59" lengthAdjust="spacingAndGlyphs">(2e6 cells/mL)</text>
</svg>
</body></html>
